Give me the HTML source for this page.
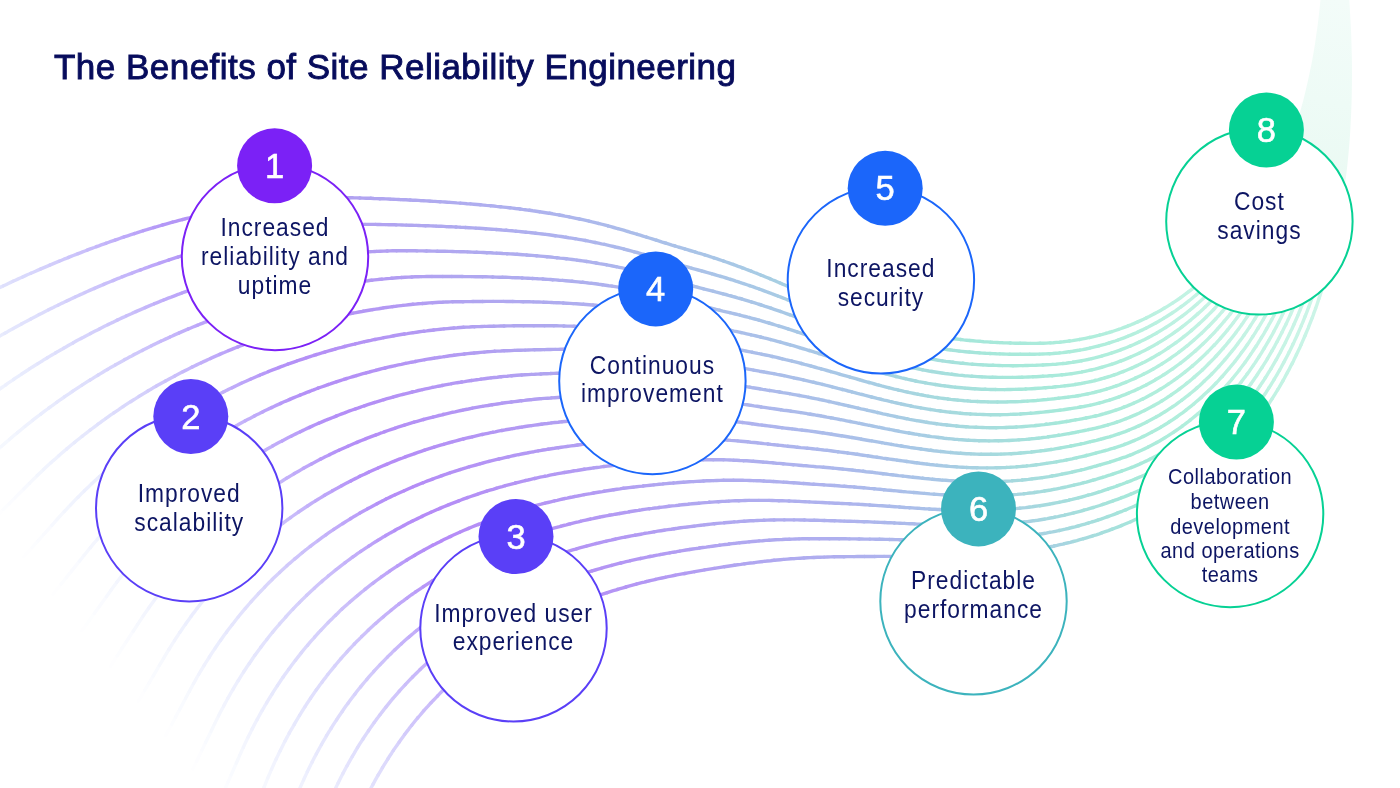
<!DOCTYPE html>
<html><head><meta charset="utf-8"><style>
html,body{margin:0;padding:0;background:#fff;}
svg{display:block;will-change:transform;}
text{font-family:"Liberation Sans",sans-serif;}
.num{font-size:34.5px;fill:#fff;stroke:#fff;stroke-width:0.6px;text-anchor:middle;}
.tx{font-size:22.8px;fill:#0d1563;text-anchor:middle;letter-spacing:1.0px;}
.t7{font-size:20px;fill:#0d1563;text-anchor:middle;letter-spacing:0.5px;}
.title{font-size:35px;fill:#070c5c;stroke:#070c5c;stroke-width:0.9px;}
</style></head><body>
<svg width="1400" height="788" viewBox="0 0 1400 788">
<defs><linearGradient id="bandg" gradientUnits="userSpaceOnUse" x1="1300" y1="200" x2="1340" y2="0"><stop offset="0" stop-color="#e9f9f2"/><stop offset="0.5" stop-color="#eefbf6"/><stop offset="1" stop-color="#f3fcf9"/></linearGradient></defs>
<path d="M1255.7 215.0 1259.4 208.9 1263.0 202.7 1266.5 196.3 1269.9 189.8 1273.2 183.1 1276.5 176.3 1279.6 169.3 1282.7 162.1 1285.6 154.8 1288.5 147.3 1291.3 139.6 1294.0 131.8 1296.6 123.8 1299.0 115.6 1301.4 107.2 1303.7 98.7 1305.8 90.0 1307.9 81.1 1309.8 72.1 1311.7 62.9 1313.4 53.5 1315.0 43.9 1316.4 34.1 1317.8 24.2 1319.0 14.1 1320.1 3.8 1321.1 -6.7 1322.0 -17.4 1347.1 -25.4 1348.0 -14.6 1348.9 -4.0 1349.7 6.6 1350.3 17.0 1350.9 27.4 1351.3 37.7 1351.6 47.9 1351.9 58.0 1352.0 68.0 1352.0 77.9 1351.9 87.7 1351.7 97.4 1351.4 107.0 1351.0 116.5 1350.5 126.0 1350.0 135.3 1349.3 144.6 1348.5 153.7 1347.6 162.7 1346.6 171.7 1345.5 180.6 1344.4 189.3 1343.1 198.0 1341.7 206.5 1340.3 215.0 Z" fill="url(#bandg)"/>
<g fill="none" stroke-width="3.4" stroke-linecap="round" stroke-linejoin="round">
<path d="M-14.5 294.5 -12.1 293.3 -9.7 292.1 -7.3 290.9 -4.9 289.8" stroke="#e3e5fd"/>
<path d="M-4.9 289.8 -2.5 288.6 -0.1 287.5 2.3 286.4 3.5 285.8" stroke="#e1e3fd"/>
<path d="M3.5 285.8 5.9 284.7 8.3 283.5 10.7 282.4 13.0 281.3" stroke="#dedffc"/>
<path d="M13.0 281.3 15.4 280.2 17.8 279.1 20.2 278.0 22.6 277.0" stroke="#dcdcfc"/>
<path d="M22.6 277.0 25.0 275.9 27.3 274.8 29.7 273.8 30.9 273.2" stroke="#d9d9fc"/>
<path d="M30.9 273.2 33.3 272.2 35.6 271.2 38.0 270.1 40.4 269.1" stroke="#d7d5fc"/>
<path d="M40.4 269.1 42.7 268.1 45.1 267.1 47.5 266.1 49.8 265.1" stroke="#d4d1fb"/>
<path d="M49.8 265.1 52.2 264.1 54.5 263.1 56.9 262.1 59.2 261.2" stroke="#d2cdfb"/>
<path d="M59.2 261.2 61.6 260.2 63.9 259.2 66.3 258.3 68.6 257.4" stroke="#cfc9fb"/>
<path d="M68.6 257.4 71.0 256.4 73.3 255.5 75.6 254.6 78.0 253.7" stroke="#ccc5fb"/>
<path d="M78.0 253.7 80.3 252.8 82.6 251.9 85.0 251.0 87.3 250.1" stroke="#cac0fa"/>
<path d="M87.3 250.1 89.6 249.2 91.9 248.3 94.2 247.5 96.6 246.6" stroke="#c7bcfa"/>
<path d="M96.6 246.6 98.9 245.8 101.2 244.9 103.5 244.1 105.8 243.3" stroke="#c5b7fa"/>
<path d="M105.8 243.3 108.1 242.5 110.4 241.7 112.7 240.9 115.0 240.1" stroke="#c2b3f9"/>
<path d="M115.0 240.1 117.3 239.3 119.6 238.5 121.9 237.7 124.1 236.9" stroke="#c0aef9"/>
<path d="M124.1 236.9 127.6 235.8 131.0 234.7 134.4 233.6" stroke="#bda9f9"/>
<path d="M134.4 233.6 136.6 232.9 138.9 232.1 141.2 231.4 143.4 230.7" stroke="#bba4f8"/>
<path d="M143.4 230.7 146.8 229.7 150.2 228.6 153.6 227.6" stroke="#b89ff8"/>
<path d="M153.6 227.6 155.8 227.0 158.0 226.3 160.3 225.7 162.5 225.0" stroke="#b59af7"/>
<path d="M162.5 225.0 165.8 224.1 169.2 223.1 172.5 222.2" stroke="#b397f7"/>
<path d="M172.5 222.2 175.8 221.3 179.1 220.4 182.4 219.6" stroke="#b496f6"/>
<path d="M182.4 219.6 184.6 219.0 186.8 218.4 189.0 217.9 191.2 217.3" stroke="#b495f6"/>
<path d="M191.2 217.3 194.5 216.5 197.7 215.7 201.0 214.9" stroke="#b495f6"/>
<path d="M201.0 214.9 204.2 214.2 207.4 213.4 210.7 212.7" stroke="#b494f5"/>
<path d="M210.7 212.7 213.9 212.0 217.1 211.3 220.3 210.6 221.4 210.4" stroke="#b493f5"/>
<path d="M221.4 210.4 224.6 209.8 227.7 209.1 230.9 208.5" stroke="#b493f5"/>
<path d="M230.9 208.5 234.1 207.9 237.2 207.3 240.4 206.8" stroke="#b494f4"/>
<path d="M240.4 206.8 243.5 206.2 246.6 205.7 249.7 205.1 250.8 205.0" stroke="#b495f4"/>
<path d="M250.8 205.0 253.9 204.5 257.0 204.0 260.0 203.5" stroke="#b396f4"/>
<path d="M260.0 203.5 263.1 203.1 266.2 202.7 269.2 202.3 270.2 202.1" stroke="#b397f4"/>
<path d="M270.2 202.1 273.2 201.7 276.3 201.4 279.3 201.0 280.3 200.9" stroke="#b398f4"/>
<path d="M280.3 200.9 283.3 200.6 286.3 200.2 289.2 199.9 290.2 199.8" stroke="#b399f3"/>
<path d="M290.2 199.8 293.2 199.6 296.1 199.3 299.1 199.1 300.0 199.0" stroke="#b39af3"/>
<path d="M300.0 199.0 303.0 198.8 305.9 198.6 308.8 198.4 309.7 198.3" stroke="#b39bf3"/>
<path d="M309.7 198.3 312.6 198.2 315.5 198.0 318.3 197.9 320.2 197.8" stroke="#b29cf2"/>
<path d="M320.2 197.8 323.1 197.7 325.9 197.6 328.7 197.6 330.6 197.5" stroke="#b29ef2"/>
<path d="M330.6 197.5 333.4 197.5 336.1 197.5 338.9 197.5 339.8 197.5" stroke="#b29ff2"/>
<path d="M339.8 197.5 342.6 197.5 345.3 197.5 348.0 197.6 349.8 197.7" stroke="#b1a1f1"/>
<path d="M349.8 197.7 351.6 197.7 353.4 197.8 356.7 197.9 359.8 198.0" stroke="#b1a2f1"/>
<path d="M359.8 198.0 363.0 198.1 366.1 198.2 369.2 198.3 370.8 198.3" stroke="#b1a4f1"/>
<path d="M370.8 198.3 373.9 198.5 376.9 198.6 379.9 198.7" stroke="#b0a5f0"/>
<path d="M379.9 198.7 382.9 198.8 385.9 198.9 388.8 199.0 390.3 199.1" stroke="#b0a6f0"/>
<path d="M390.3 199.1 393.2 199.2 396.0 199.4 398.9 199.5 400.3 199.6" stroke="#b0a7f0"/>
<path d="M400.3 199.6 403.1 199.7 405.9 199.8 408.7 200.0 410.1 200.0" stroke="#b0a8f0"/>
<path d="M410.1 200.0 412.8 200.2 415.5 200.3 418.2 200.4 420.8 200.6" stroke="#b0a9f0"/>
<path d="M420.8 200.6 423.5 200.7 426.1 200.9 428.7 201.0 429.9 201.1" stroke="#afa9ef"/>
<path d="M429.9 201.1 432.5 201.3 435.0 201.4 437.5 201.6 440.0 201.7" stroke="#afaaef"/>
<path d="M440.0 201.7 442.5 201.9 444.9 202.0 447.4 202.2 449.8 202.4" stroke="#afabef"/>
<path d="M449.8 202.4 453.3 202.6 456.8 202.9 460.3 203.1" stroke="#afacef"/>
<path d="M460.3 203.1 463.7 203.4 467.1 203.7 470.4 203.9" stroke="#afacef"/>
<path d="M470.4 203.9 473.7 204.2 477.0 204.5 480.2 204.8" stroke="#afadef"/>
<path d="M480.2 204.8 483.3 205.1 486.4 205.4 489.5 205.6 490.5 205.7" stroke="#afaeef"/>
<path d="M490.5 205.7 493.6 206.0 496.5 206.4 499.5 206.7 500.5 206.8" stroke="#afafef"/>
<path d="M500.5 206.8 503.3 207.1 506.2 207.4 509.0 207.7 509.9 207.8" stroke="#aeb0ee"/>
<path d="M509.9 207.8 512.7 208.1 515.5 208.5 518.2 208.8 519.9 209.0" stroke="#aeb0ee"/>
<path d="M519.9 209.0 522.6 209.4 525.2 209.7 527.8 210.1 529.5 210.3" stroke="#aeb1ee"/>
<path d="M529.5 210.3 532.8 210.8 536.1 211.2 539.4 211.7" stroke="#aeb2ee"/>
<path d="M539.4 211.7 542.6 212.2 545.7 212.7 548.8 213.2 549.6 213.3" stroke="#aeb3ee"/>
<path d="M549.6 213.3 552.6 213.8 555.6 214.4 558.5 214.9 559.3 215.0" stroke="#adb4ed"/>
<path d="M559.3 215.0 562.2 215.5 565.0 216.1 567.8 216.6 569.2 216.9" stroke="#adb5ed"/>
<path d="M569.2 216.9 572.6 217.6 576.0 218.3 579.4 219.0" stroke="#adb6ec"/>
<path d="M579.4 219.0 582.6 219.7 585.9 220.4 589.0 221.1" stroke="#acb8ec"/>
<path d="M589.0 221.1 592.2 221.9 595.3 222.6 598.3 223.4" stroke="#acb9ec"/>
<path d="M598.3 223.4 601.4 224.2 604.4 224.9 607.4 225.7 607.9 225.9" stroke="#acbaeb"/>
<path d="M607.9 225.9 610.9 226.7 613.8 227.5 616.7 228.3 617.9 228.6" stroke="#acbbeb"/>
<path d="M617.9 228.6 620.7 229.4 623.6 230.2 626.5 231.1 627.6 231.4" stroke="#abbcea"/>
<path d="M627.6 231.4 630.5 232.3 633.3 233.1 636.2 234.0 637.3 234.3" stroke="#abbdea"/>
<path d="M637.3 234.3 640.2 235.2 643.0 236.1 645.9 237.0 646.5 237.1" stroke="#abbeea"/>
<path d="M646.5 237.1 649.3 238.0 652.2 238.9 655.2 239.8 656.3 240.2" stroke="#aabfe9"/>
<path d="M656.3 240.2 659.3 241.1 662.2 242.1 665.3 243.0 665.9 243.2" stroke="#aac0e9"/>
<path d="M665.9 243.2 668.9 244.1 672.0 245.1 675.1 246.0" stroke="#aac1e8"/>
<path d="M675.1 246.0 678.2 247.0 681.4 247.9 684.7 248.9" stroke="#aac2e8"/>
<path d="M684.7 248.9 687.3 249.7 690.0 250.5 693.9 251.6 694.9 251.9" stroke="#a9c3e8"/>
<path d="M694.9 251.9 697.8 252.8 700.7 253.6 703.5 254.5 704.5 254.8" stroke="#a9c4e7"/>
<path d="M704.5 254.8 707.3 255.7 710.1 256.6 712.8 257.5 713.8 257.8" stroke="#a9c5e7"/>
<path d="M713.8 257.8 716.5 258.7 719.2 259.6 721.8 260.5 723.6 261.1" stroke="#a8c6e7"/>
<path d="M723.6 261.1 726.2 262.0 728.8 262.9 731.4 263.8 733.1 264.4" stroke="#a8c7e6"/>
<path d="M733.1 264.4 735.7 265.3 738.2 266.3 740.7 267.2 742.3 267.8" stroke="#a8c8e6"/>
<path d="M742.3 267.8 744.8 268.7 747.2 269.7 749.6 270.6 751.3 271.2" stroke="#a8cae5"/>
<path d="M751.3 271.2 754.4 272.5 757.6 273.7 760.7 275.0" stroke="#a8cbe5"/>
<path d="M760.7 275.0 763.8 276.2 766.9 277.5 769.9 278.7" stroke="#a7cde4"/>
<path d="M769.9 278.7 772.9 280.0 775.9 281.2 778.8 282.5 779.6 282.8" stroke="#a7cee3"/>
<path d="M779.6 282.8 782.5 284.1 785.4 285.3 788.3 286.6" stroke="#a7d0e3"/>
<path d="M788.3 286.6 791.2 287.8 794.1 289.0 797.0 290.3 797.7 290.6" stroke="#a7d1e2"/>
<path d="M797.7 290.6 800.5 291.8 803.3 293.1 806.2 294.3 806.9 294.6" stroke="#a7d2e1"/>
<path d="M806.9 294.6 809.7 295.8 812.5 297.0 815.3 298.2 816.0 298.5" stroke="#a7d3e1"/>
<path d="M816.0 298.5 818.8 299.7 821.6 300.9 824.4 302.1 825.1 302.4" stroke="#a7d5e0"/>
<path d="M825.1 302.4 827.8 303.6 830.6 304.7 833.4 305.9 834.1 306.2" stroke="#a6d6e0"/>
<path d="M834.1 306.2 837.0 307.3 839.8 308.4 842.6 309.6 844.0 310.1" stroke="#a6d8df"/>
<path d="M844.0 310.1 846.9 311.2 849.7 312.3 852.6 313.4 853.3 313.7" stroke="#a6d9de"/>
<path d="M853.3 313.7 856.2 314.8 859.1 315.8 862.0 316.9 862.7 317.1" stroke="#a6dade"/>
<path d="M862.7 317.1 865.7 318.1 868.6 319.2 871.6 320.1 872.4 320.4" stroke="#a6dbde"/>
<path d="M872.4 320.4 875.4 321.4 878.4 322.3 881.5 323.3" stroke="#a6dcdd"/>
<path d="M881.5 323.3 884.6 324.2 887.7 325.1 890.9 326.0" stroke="#a6dddd"/>
<path d="M890.9 326.0 894.0 326.9 897.3 327.8 900.5 328.6" stroke="#a6dedd"/>
<path d="M900.5 328.6 903.8 329.4 907.2 330.2 910.5 331.0" stroke="#a6dfdd"/>
<path d="M910.5 331.0 913.9 331.8 917.4 332.5 920.9 333.3" stroke="#a6e0dc"/>
<path d="M920.9 333.3 923.5 333.8 926.2 334.3 928.9 334.8 930.7 335.1" stroke="#a6e1dc"/>
<path d="M930.7 335.1 933.5 335.6 936.3 336.1 939.1 336.6 940.0 336.7" stroke="#a6e2dc"/>
<path d="M940.0 336.7 942.8 337.2 945.7 337.6 948.6 338.0 950.6 338.3" stroke="#a6e3db"/>
<path d="M950.6 338.3 953.5 338.7 956.5 339.0 959.5 339.4 960.5 339.5" stroke="#a6e5db"/>
<path d="M960.5 339.5 963.6 339.9 966.7 340.2 969.8 340.5" stroke="#a6e6db"/>
<path d="M969.8 340.5 973.0 340.8 976.2 341.1 979.4 341.3 980.5 341.4" stroke="#a6e7da"/>
<path d="M980.5 341.4 983.8 341.7 987.1 341.9 990.5 342.1" stroke="#a6e8da"/>
<path d="M990.5 342.1 992.8 342.3 995.0 342.4 997.3 342.5 999.7 342.6" stroke="#a7e9da"/>
<path d="M999.7 342.6 1003.2 342.8 1006.7 342.9 1010.3 343.0" stroke="#a8e9da"/>
<path d="M1010.3 343.0 1012.7 343.1 1015.2 343.2 1017.6 343.2 1020.1 343.3" stroke="#a9eadb"/>
<path d="M1020.1 343.3 1022.6 343.3 1025.1 343.3 1027.6 343.4 1030.2 343.4" stroke="#a9eadb"/>
<path d="M1030.2 343.4 1033.2 343.4 1036.2 343.4 1039.2 343.3 1040.2 343.3" stroke="#aaebdb"/>
<path d="M1040.2 343.3 1043.3 343.2 1046.3 343.1 1049.3 342.9 1050.3 342.9" stroke="#abebdb"/>
<path d="M1050.3 342.9 1053.3 342.7 1056.4 342.4 1059.4 342.2 1060.4 342.1" stroke="#acecdb"/>
<path d="M1060.4 342.1 1063.4 341.8 1066.4 341.4 1069.5 341.0" stroke="#adecdb"/>
<path d="M1069.5 341.0 1072.5 340.6 1075.5 340.1 1078.5 339.6 1079.5 339.5" stroke="#aeeddc"/>
<path d="M1079.5 339.5 1082.5 338.9 1085.5 338.3 1088.5 337.7 1089.5 337.5" stroke="#afeddc"/>
<path d="M1089.5 337.5 1092.5 336.8 1095.5 336.1 1098.5 335.4 1099.5 335.1" stroke="#b0eedc"/>
<path d="M1099.5 335.1 1102.5 334.4 1105.4 333.5 1108.4 332.7 1109.4 332.4" stroke="#b2eedd"/>
<path d="M1109.4 332.4 1112.4 331.5 1115.3 330.5 1118.3 329.5" stroke="#b3efdd"/>
<path d="M1118.3 329.5 1121.2 328.5 1124.1 327.4 1127.1 326.3 1128.0 325.9" stroke="#b5efde"/>
<path d="M1128.0 325.9 1130.9 324.8 1133.8 323.6 1136.7 322.3 1137.7 321.9" stroke="#b7f0df"/>
<path d="M1137.7 321.9 1140.6 320.6 1143.5 319.3 1146.3 317.9" stroke="#b9f0e0"/>
<path d="M1146.3 317.9 1149.2 316.5 1152.0 315.0 1154.8 313.5" stroke="#bbf1e0"/>
<path d="M1154.8 313.5 1157.7 312.0 1160.5 310.4 1163.3 308.8 1164.2 308.3" stroke="#bdf1e1"/>
<path d="M1164.2 308.3 1167.0 306.6 1169.7 304.9 1172.5 303.1" stroke="#bff2e2"/>
<path d="M1172.5 303.1 1175.2 301.3 1178.0 299.5 1180.7 297.6" stroke="#c0f2e3"/>
<path d="M1180.7 297.6 1183.4 295.6 1186.0 293.7 1188.7 291.6" stroke="#c2f3e3"/>
<path d="M1188.7 291.6 1191.4 289.6 1194.0 287.5 1196.6 285.3" stroke="#c4f3e4"/>
<path d="M1196.6 285.3 1199.2 283.1 1201.8 280.9 1204.4 278.6" stroke="#c5f3e5"/>
<path d="M1204.4 278.6 1206.9 276.3 1209.5 273.9 1212.0 271.5" stroke="#c6f3e5"/>
<path d="M1212.0 271.5 1213.6 269.9 1215.3 268.2 1216.9 266.5 1218.6 264.8" stroke="#c7f4e5"/>
<path d="M1218.6 264.8 1220.2 263.1 1221.8 261.4 1223.5 259.6 1225.1 257.8" stroke="#c8f4e6"/>
<path d="M1225.1 257.8 1227.5 255.1 1229.8 252.4 1232.2 249.6" stroke="#c9f4e6"/>
<path d="M1232.2 249.6 1233.7 247.7 1235.3 245.7 1236.8 243.8 1238.3 241.8" stroke="#caf4e7"/>
<path d="M1238.3 241.8 1239.9 239.9 1241.4 237.9 1242.9 235.8 1244.4 233.8" stroke="#cbf5e7"/>
<path d="M1244.4 233.8 1245.8 231.7 1247.3 229.6 1248.8 227.5 1250.2 225.4" stroke="#ccf5e8"/>
<path d="M1250.2 225.4 1251.6 223.3 1253.1 221.1 1254.5 218.9 1255.2 217.8" stroke="#cdf5e8"/>
<path d="M1255.2 217.8 1256.6 215.6 1258.0 213.3 1259.3 211.0 1260.7 208.7" stroke="#cef5e8"/>
<path d="M1260.7 208.7 1262.1 206.4 1263.4 204.1 1264.7 201.7 1265.4 200.5" stroke="#cff5e9"/>
<path d="M-12.9 343.6 -10.6 342.2 -8.2 340.8 -5.8 339.4 -4.7 338.7" stroke="#eaeefe"/>
<path d="M-4.7 338.7 -2.3 337.3 0.1 335.9 2.4 334.6 4.8 333.2" stroke="#e8ebfd"/>
<path d="M4.8 333.2 7.2 331.9 9.5 330.5 11.9 329.2 13.1 328.6" stroke="#e5e8fd"/>
<path d="M13.1 328.6 15.5 327.2 17.8 325.9 20.2 324.7 21.4 324.0" stroke="#e3e5fd"/>
<path d="M21.4 324.0 23.7 322.7 26.1 321.5 28.5 320.2 30.8 318.9" stroke="#e1e2fd"/>
<path d="M30.8 318.9 33.2 317.7 35.6 316.5 37.9 315.2 39.1 314.6" stroke="#dedffc"/>
<path d="M39.1 314.6 41.5 313.4 43.8 312.2 46.2 311.0 48.6 309.8" stroke="#dcdcfc"/>
<path d="M48.6 309.8 50.9 308.6 53.3 307.5 55.6 306.3 58.0 305.2" stroke="#d9d8fc"/>
<path d="M58.0 305.2 60.3 304.0 62.7 302.9 65.0 301.7 66.2 301.2" stroke="#d7d4fc"/>
<path d="M66.2 301.2 68.6 300.1 70.9 299.0 73.3 297.9 75.6 296.8" stroke="#d4d0fb"/>
<path d="M75.6 296.8 78.0 295.7 80.3 294.6 82.7 293.6 85.0 292.5" stroke="#d1ccfb"/>
<path d="M85.0 292.5 87.3 291.5 89.7 290.4 92.0 289.4 94.4 288.4" stroke="#cfc8fb"/>
<path d="M94.4 288.4 96.7 287.4 99.0 286.4 101.4 285.4 103.7 284.4" stroke="#ccc4fb"/>
<path d="M103.7 284.4 106.0 283.4 108.3 282.5 110.7 281.5 113.0 280.6" stroke="#c9bffa"/>
<path d="M113.0 280.6 115.3 279.6 117.6 278.7 119.9 277.8 122.2 276.8" stroke="#c7bbfa"/>
<path d="M122.2 276.8 124.6 275.9 126.9 275.0 129.2 274.1 131.5 273.3" stroke="#c4b6fa"/>
<path d="M131.5 273.3 133.8 272.4 136.1 271.5 138.4 270.7 140.7 269.8" stroke="#c2b1f9"/>
<path d="M140.7 269.8 143.0 269.0 145.3 268.1 147.5 267.3 149.8 266.5" stroke="#bfacf9"/>
<path d="M149.8 266.5 152.1 265.7 154.4 264.9 156.7 264.1 158.9 263.3" stroke="#bda7f9"/>
<path d="M158.9 263.3 162.4 262.1 165.8 261.0 169.1 259.9" stroke="#baa2f8"/>
<path d="M169.1 259.9 171.4 259.1 173.7 258.4 175.9 257.7 178.2 257.0" stroke="#b79df8"/>
<path d="M178.2 257.0 181.5 255.9 184.9 254.9 188.2 253.9" stroke="#b599f7"/>
<path d="M188.2 253.9 190.5 253.2 192.7 252.5 194.9 251.9 197.1 251.2" stroke="#b496f7"/>
<path d="M197.1 251.2 200.5 250.3 203.8 249.3 207.1 248.4" stroke="#b495f6"/>
<path d="M207.1 248.4 210.4 247.5 213.7 246.6 217.0 245.8" stroke="#b494f6"/>
<path d="M217.0 245.8 220.2 244.9 223.5 244.1 226.8 243.3" stroke="#b494f6"/>
<path d="M226.8 243.3 230.0 242.5 233.2 241.7 236.5 241.0" stroke="#b493f5"/>
<path d="M236.5 241.0 239.7 240.2 242.9 239.5 246.1 238.8" stroke="#b492f5"/>
<path d="M246.1 238.8 249.3 238.1 252.4 237.4 255.6 236.8" stroke="#b493f5"/>
<path d="M255.6 236.8 258.8 236.2 261.9 235.5 265.1 234.9 266.1 234.7" stroke="#b494f4"/>
<path d="M266.1 234.7 269.2 234.2 272.3 233.6 275.4 233.1" stroke="#b495f4"/>
<path d="M275.4 233.1 278.5 232.5 281.6 232.0 284.6 231.5 285.7 231.4" stroke="#b496f4"/>
<path d="M285.7 231.4 288.7 230.9 291.7 230.4 294.8 230.0 295.8 229.9" stroke="#b397f4"/>
<path d="M295.8 229.9 298.8 229.4 301.8 229.0 304.7 228.7 305.7 228.5" stroke="#b398f4"/>
<path d="M305.7 228.5 308.7 228.2 311.7 227.8 314.6 227.5 315.6 227.4" stroke="#b399f3"/>
<path d="M315.6 227.4 318.5 227.1 321.4 226.8 324.3 226.5 325.2 226.5" stroke="#b399f3"/>
<path d="M325.2 226.5 328.1 226.2 331.0 226.0 333.8 225.8 335.7 225.6" stroke="#b39bf3"/>
<path d="M335.7 225.6 338.5 225.4 341.3 225.3 344.1 225.1 345.1 225.0" stroke="#b29cf2"/>
<path d="M345.1 225.0 347.8 224.9 350.6 224.8 353.3 224.7 355.2 224.6" stroke="#b29ef2"/>
<path d="M355.2 224.6 357.9 224.5 360.6 224.5 363.3 224.4 365.1 224.4" stroke="#b29ff2"/>
<path d="M365.1 224.4 368.6 224.4 372.1 224.4 375.6 224.4" stroke="#b1a1f1"/>
<path d="M375.6 224.4 377.3 224.5 379.7 224.5 382.8 224.6 385.8 224.6" stroke="#b1a2f1"/>
<path d="M385.8 224.6 388.8 224.7 391.8 224.8 394.7 224.8 396.2 224.9" stroke="#b1a3f1"/>
<path d="M396.2 224.9 399.1 224.9 402.0 225.0 404.9 225.1 406.3 225.1" stroke="#b0a5f0"/>
<path d="M406.3 225.1 409.1 225.2 411.9 225.3 414.7 225.4 416.1 225.4" stroke="#b0a6f0"/>
<path d="M416.1 225.4 418.8 225.5 421.5 225.6 424.2 225.7 425.6 225.7" stroke="#b0a7f0"/>
<path d="M425.6 225.7 428.2 225.8 430.9 225.9 433.5 226.0 436.1 226.1" stroke="#b0a8f0"/>
<path d="M436.1 226.1 438.7 226.2 441.2 226.3 443.7 226.4 446.2 226.6" stroke="#b0a9f0"/>
<path d="M446.2 226.6 448.7 226.7 451.2 226.8 453.6 226.9 456.0 227.0" stroke="#afa9ef"/>
<path d="M456.0 227.0 458.4 227.1 460.8 227.3 463.2 227.4 465.5 227.5" stroke="#afaaef"/>
<path d="M465.5 227.5 469.0 227.7 472.4 227.9 475.8 228.1" stroke="#afabef"/>
<path d="M475.8 228.1 479.1 228.3 482.4 228.5 485.6 228.8" stroke="#afacef"/>
<path d="M485.6 228.8 488.8 229.0 492.0 229.2 495.1 229.4 496.1 229.5" stroke="#afadef"/>
<path d="M496.1 229.5 499.2 229.7 502.2 230.0 505.2 230.2 506.2 230.3" stroke="#afadef"/>
<path d="M506.2 230.3 509.1 230.6 512.0 230.8 514.9 231.1 515.8 231.2" stroke="#afaeef"/>
<path d="M515.8 231.2 518.6 231.4 521.4 231.7 524.1 232.0 525.9 232.2" stroke="#afafef"/>
<path d="M525.9 232.2 528.6 232.4 531.3 232.7 533.9 233.0 535.6 233.2" stroke="#aeafee"/>
<path d="M535.6 233.2 539.0 233.6 542.4 234.0 545.6 234.4" stroke="#aeb0ee"/>
<path d="M545.6 234.4 548.9 234.8 552.1 235.2 555.2 235.7" stroke="#aeb1ee"/>
<path d="M555.2 235.7 558.3 236.1 561.3 236.5 564.3 237.0 565.8 237.2" stroke="#aeb2ee"/>
<path d="M565.8 237.2 568.7 237.7 571.6 238.1 574.5 238.6 575.2 238.7" stroke="#aeb3ee"/>
<path d="M575.2 238.7 578.6 239.3 582.1 239.9 585.4 240.5" stroke="#adb4ed"/>
<path d="M585.4 240.5 588.7 241.2 592.0 241.8 595.2 242.5" stroke="#adb5ed"/>
<path d="M595.2 242.5 598.4 243.1 601.5 243.8 604.6 244.4" stroke="#adb6ec"/>
<path d="M604.6 244.4 607.6 245.1 610.6 245.8 613.6 246.5 614.8 246.8" stroke="#acb8ec"/>
<path d="M614.8 246.8 617.7 247.5 620.6 248.2 623.5 248.9 624.1 249.1" stroke="#acb9ec"/>
<path d="M624.1 249.1 627.5 250.0 630.9 250.9 634.3 251.8" stroke="#acbaeb"/>
<path d="M634.3 251.8 637.1 252.5 639.9 253.3 642.7 254.1 643.8 254.4" stroke="#acbbeb"/>
<path d="M643.8 254.4 646.6 255.2 649.3 256.0 652.1 256.8 653.3 257.1" stroke="#abbcea"/>
<path d="M653.3 257.1 656.1 257.9 658.9 258.7 661.7 259.5 662.8 259.9" stroke="#abbdea"/>
<path d="M662.8 259.9 665.7 260.7 668.6 261.5 671.4 262.4 672.6 262.7" stroke="#abbeea"/>
<path d="M672.6 262.7 675.5 263.6 678.5 264.4 681.5 265.3 682.1 265.5" stroke="#aabfe9"/>
<path d="M682.1 265.5 685.1 266.3 688.2 267.2 691.3 268.1 691.9 268.3" stroke="#aac0e9"/>
<path d="M691.9 268.3 695.0 269.1 698.2 270.0 701.5 270.9" stroke="#aac1e8"/>
<path d="M701.5 270.9 703.8 271.5 706.7 272.3 709.5 273.1 711.4 273.7" stroke="#aac2e8"/>
<path d="M711.4 273.7 714.3 274.5 717.0 275.3 719.8 276.1 720.7 276.4" stroke="#a9c4e8"/>
<path d="M720.7 276.4 723.5 277.2 726.2 278.0 728.8 278.8 730.6 279.4" stroke="#a9c5e7"/>
<path d="M730.6 279.4 733.2 280.2 735.8 281.1 738.4 281.9 740.1 282.5" stroke="#a9c6e7"/>
<path d="M740.1 282.5 742.7 283.3 745.2 284.2 747.7 285.0 749.4 285.6" stroke="#a8c7e7"/>
<path d="M749.4 285.6 752.7 286.7 755.9 287.9 759.2 289.0" stroke="#a8c8e6"/>
<path d="M759.2 289.0 762.3 290.2 765.5 291.4 768.6 292.5" stroke="#a8c9e6"/>
<path d="M768.6 292.5 771.7 293.7 774.8 294.8 777.8 296.0" stroke="#a8cae5"/>
<path d="M777.8 296.0 780.9 297.2 783.9 298.3 786.8 299.5 787.6 299.8" stroke="#a8cce4"/>
<path d="M787.6 299.8 790.5 301.0 793.4 302.1 796.4 303.3" stroke="#a7cde4"/>
<path d="M796.4 303.3 799.3 304.5 802.1 305.6 805.0 306.8 805.7 307.1" stroke="#a7cfe3"/>
<path d="M805.7 307.1 808.6 308.2 811.4 309.4 814.2 310.5 814.9 310.8" stroke="#a7d0e2"/>
<path d="M814.9 310.8 817.7 311.9 820.5 313.1 823.3 314.2 824.7 314.7" stroke="#a7d2e2"/>
<path d="M824.7 314.7 827.5 315.9 830.3 317.0 833.1 318.1 833.8 318.3" stroke="#a7d3e1"/>
<path d="M833.8 318.3 836.6 319.4 839.4 320.5 842.2 321.6 842.9 321.9" stroke="#a7d4e1"/>
<path d="M842.9 321.9 845.7 322.9 848.5 324.0 851.3 325.0 852.7 325.5" stroke="#a6d6e0"/>
<path d="M852.7 325.5 855.6 326.6 858.4 327.6 861.3 328.6 862.0 328.8" stroke="#a6d7df"/>
<path d="M862.0 328.8 864.8 329.8 867.7 330.8 870.6 331.7 871.3 332.0" stroke="#a6d9de"/>
<path d="M871.3 332.0 874.3 332.9 877.2 333.9 880.2 334.8 880.9 335.0" stroke="#a6dade"/>
<path d="M880.9 335.0 883.9 335.9 886.9 336.8 889.9 337.6 890.7 337.9" stroke="#a6dbde"/>
<path d="M890.7 337.9 893.7 338.7 896.8 339.5 900.0 340.3 900.7 340.5" stroke="#a6dcdd"/>
<path d="M900.7 340.5 903.9 341.3 907.1 342.1 910.3 342.8" stroke="#a6dddd"/>
<path d="M910.3 342.8 913.6 343.6 916.9 344.3 920.2 345.0" stroke="#a6dedd"/>
<path d="M920.2 345.0 922.7 345.5 925.2 346.0 927.8 346.4 929.5 346.8" stroke="#a6dfdc"/>
<path d="M929.5 346.8 933.0 347.4 936.5 347.9 940.1 348.5" stroke="#a6e1dc"/>
<path d="M940.1 348.5 942.8 348.9 945.5 349.3 948.3 349.7 950.1 349.9" stroke="#a6e2dc"/>
<path d="M950.1 349.9 952.9 350.3 955.7 350.6 958.6 351.0 959.5 351.1" stroke="#a6e3db"/>
<path d="M959.5 351.1 962.4 351.4 965.4 351.7 968.3 352.0 969.3 352.0" stroke="#a6e4db"/>
<path d="M969.3 352.0 972.3 352.3 975.3 352.6 978.4 352.8 979.4 352.9" stroke="#a6e5db"/>
<path d="M979.4 352.9 982.5 353.1 985.7 353.3 988.8 353.4 989.9 353.5" stroke="#a6e7da"/>
<path d="M989.9 353.5 993.1 353.6 996.4 353.8 999.7 353.9" stroke="#a6e8da"/>
<path d="M999.7 353.9 1003.0 354.0 1006.3 354.1 1009.7 354.2" stroke="#a7e9da"/>
<path d="M1009.7 354.2 1013.2 354.2 1016.7 354.3 1020.2 354.3" stroke="#a8e9da"/>
<path d="M1020.2 354.3 1022.5 354.3 1024.9 354.3 1027.3 354.3 1029.7 354.2" stroke="#a9eadb"/>
<path d="M1029.7 354.2 1032.2 354.2 1034.6 354.2 1037.1 354.1 1039.6 354.1" stroke="#a9eadb"/>
<path d="M1039.6 354.1 1042.6 354.0 1045.6 353.9 1048.7 353.7 1049.7 353.7" stroke="#aaebdb"/>
<path d="M1049.7 353.7 1052.7 353.5 1055.7 353.2 1058.7 353.0 1059.7 352.9" stroke="#abebdb"/>
<path d="M1059.7 352.9 1062.7 352.6 1065.7 352.2 1068.7 351.8 1069.7 351.7" stroke="#acecdb"/>
<path d="M1069.7 351.7 1072.7 351.3 1075.7 350.8 1078.7 350.3 1079.7 350.1" stroke="#adecdb"/>
<path d="M1079.7 350.1 1082.7 349.6 1085.7 349.0 1088.7 348.3 1089.7 348.1" stroke="#aeeddc"/>
<path d="M1089.7 348.1 1092.6 347.4 1095.6 346.7 1098.6 346.0 1099.5 345.7" stroke="#afeddc"/>
<path d="M1099.5 345.7 1102.5 344.9 1105.4 344.1 1108.4 343.2 1109.4 342.9" stroke="#b0eedc"/>
<path d="M1109.4 342.9 1112.3 341.9 1115.2 341.0 1118.1 340.0" stroke="#b2eedd"/>
<path d="M1118.1 340.0 1121.1 338.9 1124.0 337.8 1126.9 336.7 1127.8 336.3" stroke="#b4efdd"/>
<path d="M1127.8 336.3 1130.7 335.1 1133.6 333.9 1136.4 332.7 1137.4 332.2" stroke="#b5efde"/>
<path d="M1137.4 332.2 1140.2 330.9 1143.1 329.6 1145.9 328.2" stroke="#b7f0df"/>
<path d="M1145.9 328.2 1148.7 326.8 1151.5 325.3 1154.3 323.8 1155.3 323.3" stroke="#b9f0e0"/>
<path d="M1155.3 323.3 1158.0 321.7 1160.8 320.1 1163.6 318.4" stroke="#bbf1e0"/>
<path d="M1163.6 318.4 1166.3 316.7 1169.0 315.0 1171.8 313.2 1172.7 312.6" stroke="#bdf1e1"/>
<path d="M1172.7 312.6 1175.4 310.8 1178.1 308.9 1180.7 307.0" stroke="#bff2e2"/>
<path d="M1180.7 307.0 1183.4 305.1 1186.0 303.1 1188.7 301.0" stroke="#c1f2e3"/>
<path d="M1188.7 301.0 1191.3 299.0 1193.9 296.8 1196.4 294.7" stroke="#c3f3e4"/>
<path d="M1196.4 294.7 1199.0 292.5 1201.6 290.2 1204.1 287.9" stroke="#c5f3e4"/>
<path d="M1204.1 287.9 1205.8 286.3 1207.4 284.8 1209.1 283.2 1210.8 281.6" stroke="#c6f3e5"/>
<path d="M1210.8 281.6 1213.2 279.1 1215.7 276.6 1218.1 274.1" stroke="#c7f4e5"/>
<path d="M1218.1 274.1 1220.5 271.5 1222.9 268.8 1225.3 266.1" stroke="#c8f4e6"/>
<path d="M1225.3 266.1 1226.8 264.3 1228.4 262.5 1230.0 260.6 1231.5 258.8" stroke="#c9f4e6"/>
<path d="M1231.5 258.8 1233.0 256.9 1234.6 255.0 1236.1 253.0 1237.6 251.1" stroke="#caf4e6"/>
<path d="M1237.6 251.1 1239.1 249.1 1240.6 247.1 1242.0 245.1 1243.5 243.1" stroke="#cbf4e7"/>
<path d="M1243.5 243.1 1245.0 241.0 1246.4 238.9 1247.9 236.8 1249.3 234.7" stroke="#ccf5e7"/>
<path d="M1249.3 234.7 1250.7 232.6 1252.1 230.4 1253.5 228.2 1254.9 226.0" stroke="#cdf5e8"/>
<path d="M1254.9 226.0 1256.3 223.8 1257.6 221.6 1259.0 219.3 1259.7 218.2" stroke="#cdf5e8"/>
<path d="M1259.7 218.2 1261.0 215.9 1262.3 213.5 1263.7 211.2 1265.0 208.8" stroke="#cef5e8"/>
<path d="M1265.0 208.8 1266.3 206.5 1267.5 204.1 1268.8 201.6 1269.4 200.4" stroke="#cff5e9"/>
<path d="M-10.7 396.6 -8.4 394.9 -6.1 393.3 -3.8 391.6 -2.7 390.8" stroke="#f1f4fe"/>
<path d="M-2.7 390.8 -0.4 389.1 1.9 387.5 4.3 385.9 5.4 385.1" stroke="#eff2fe"/>
<path d="M5.4 385.1 7.7 383.4 10.0 381.9 12.4 380.3 13.5 379.5" stroke="#edf0fe"/>
<path d="M13.5 379.5 15.8 377.9 18.2 376.4 20.5 374.8 21.6 374.0" stroke="#eaeefe"/>
<path d="M21.6 374.0 24.0 372.5 26.3 371.0 28.6 369.5 29.8 368.7" stroke="#e8ebfd"/>
<path d="M29.8 368.7 32.1 367.2 34.4 365.8 36.8 364.3 37.9 363.6" stroke="#e6e8fd"/>
<path d="M37.9 363.6 40.3 362.1 42.6 360.7 44.9 359.2 47.3 357.8" stroke="#e3e5fd"/>
<path d="M47.3 357.8 49.6 356.4 51.9 355.0 54.3 353.6 55.4 352.9" stroke="#e1e2fd"/>
<path d="M55.4 352.9 57.8 351.6 60.1 350.2 62.4 348.9 63.6 348.2" stroke="#dedffc"/>
<path d="M63.6 348.2 65.9 346.9 68.3 345.5 70.6 344.2 73.0 342.9" stroke="#dcdcfc"/>
<path d="M73.0 342.9 75.3 341.6 77.6 340.3 80.0 339.1 81.1 338.4" stroke="#d9d8fc"/>
<path d="M81.1 338.4 83.5 337.2 85.8 335.9 88.2 334.7 90.5 333.5" stroke="#d7d4fc"/>
<path d="M90.5 333.5 92.8 332.3 95.2 331.1 97.5 329.9 99.8 328.7" stroke="#d4d0fb"/>
<path d="M99.8 328.7 102.2 327.5 104.5 326.3 106.8 325.2 108.0 324.6" stroke="#d2cdfb"/>
<path d="M108.0 324.6 110.3 323.5 112.7 322.4 115.0 321.2 117.3 320.1" stroke="#cfc8fb"/>
<path d="M117.3 320.1 119.7 319.0 122.0 317.9 124.3 316.9 126.6 315.8" stroke="#ccc4fb"/>
<path d="M126.6 315.8 129.0 314.7 131.3 313.7 133.6 312.6 135.9 311.6" stroke="#cabffa"/>
<path d="M135.9 311.6 138.2 310.6 140.6 309.6 142.9 308.6 145.2 307.6" stroke="#c7bbfa"/>
<path d="M145.2 307.6 147.5 306.6 149.8 305.6 152.1 304.7 154.4 303.7" stroke="#c4b6fa"/>
<path d="M154.4 303.7 156.7 302.8 159.0 301.9 161.3 300.9 163.6 300.0" stroke="#c2b1f9"/>
<path d="M163.6 300.0 165.9 299.1 168.2 298.2 170.5 297.3 172.8 296.5" stroke="#bfacf9"/>
<path d="M172.8 296.5 175.1 295.6 177.4 294.7 179.6 293.9 181.9 293.0" stroke="#bda7f9"/>
<path d="M181.9 293.0 184.2 292.2 186.5 291.4 188.7 290.6 191.0 289.8" stroke="#baa2f8"/>
<path d="M191.0 289.8 194.4 288.6 197.8 287.4 201.2 286.3" stroke="#b89df8"/>
<path d="M201.2 286.3 203.4 285.5 205.7 284.8 207.9 284.0 210.2 283.3" stroke="#b598f7"/>
<path d="M210.2 283.3 213.5 282.2 216.9 281.2 220.2 280.2" stroke="#b495f7"/>
<path d="M220.2 280.2 222.4 279.5 224.7 278.8 226.9 278.2 229.1 277.5" stroke="#b494f7"/>
<path d="M229.1 277.5 232.4 276.5 235.7 275.6 239.0 274.7" stroke="#b493f6"/>
<path d="M239.0 274.7 242.3 273.8 245.6 272.9 248.8 272.0" stroke="#b493f6"/>
<path d="M248.8 272.0 252.1 271.2 255.3 270.3 258.6 269.5" stroke="#b492f5"/>
<path d="M258.6 269.5 261.8 268.7 265.0 268.0 268.2 267.2" stroke="#b492f5"/>
<path d="M268.2 267.2 271.4 266.5 274.6 265.8 277.8 265.1" stroke="#b493f5"/>
<path d="M277.8 265.1 280.9 264.4 284.1 263.7 287.2 263.1" stroke="#b493f5"/>
<path d="M287.2 263.1 290.3 262.4 293.5 261.8 296.6 261.2 297.6 261.0" stroke="#b494f4"/>
<path d="M297.6 261.0 300.7 260.5 303.7 259.9 306.8 259.4 307.8 259.2" stroke="#b495f4"/>
<path d="M307.8 259.2 310.9 258.7 313.9 258.2 316.9 257.7" stroke="#b396f4"/>
<path d="M316.9 257.7 319.9 257.2 322.9 256.8 325.9 256.4 326.9 256.2" stroke="#b397f4"/>
<path d="M326.9 256.2 329.8 255.8 332.7 255.4 335.7 255.1 336.6 254.9" stroke="#b398f3"/>
<path d="M336.6 254.9 339.5 254.6 342.4 254.2 345.3 253.9 347.2 253.7" stroke="#b399f3"/>
<path d="M347.2 253.7 350.1 253.4 352.9 253.1 355.7 252.9 356.6 252.8" stroke="#b39af3"/>
<path d="M356.6 252.8 359.4 252.6 362.2 252.3 365.0 252.1 366.8 252.0" stroke="#b39bf3"/>
<path d="M366.8 252.0 369.5 251.8 372.2 251.6 374.9 251.5 376.7 251.4" stroke="#b29df2"/>
<path d="M376.7 251.4 380.3 251.2 383.8 251.1 387.3 251.0" stroke="#b29ef2"/>
<path d="M387.3 251.0 389.9 250.9 392.4 250.8 395.0 250.8 396.7 250.8" stroke="#b2a0f2"/>
<path d="M396.7 250.8 399.2 250.7 401.7 250.7 405.5 250.8 406.9 250.8" stroke="#b1a1f1"/>
<path d="M406.9 250.8 409.8 250.8 412.7 250.8 415.5 250.8 416.9 250.9" stroke="#b1a3f1"/>
<path d="M416.9 250.9 419.7 250.9 422.5 250.9 425.2 251.0 426.6 251.0" stroke="#b0a4f0"/>
<path d="M426.6 251.0 429.3 251.0 432.0 251.1 434.7 251.1 437.3 251.2" stroke="#b0a6f0"/>
<path d="M437.3 251.2 439.9 251.2 442.5 251.3 445.1 251.3 447.7 251.4" stroke="#b0a7f0"/>
<path d="M447.7 251.4 450.2 251.4 452.7 251.5 455.2 251.6 456.5 251.6" stroke="#b0a7f0"/>
<path d="M456.5 251.6 460.2 251.7 463.8 251.8 467.4 251.9" stroke="#b0a8f0"/>
<path d="M467.4 251.9 469.8 252.0 472.1 252.1 474.4 252.2 476.7 252.2" stroke="#afa9ef"/>
<path d="M476.7 252.2 480.2 252.4 483.5 252.5 486.9 252.7" stroke="#afaaef"/>
<path d="M486.9 252.7 490.2 252.8 493.4 253.0 496.6 253.1" stroke="#afabef"/>
<path d="M496.6 253.1 499.8 253.3 502.9 253.5 506.0 253.6 507.0 253.7" stroke="#afabef"/>
<path d="M507.0 253.7 510.0 253.9 513.0 254.0 516.0 254.2 517.0 254.3" stroke="#afacef"/>
<path d="M517.0 254.3 519.9 254.5 522.7 254.7 525.6 254.9 526.5 255.0" stroke="#afadef"/>
<path d="M526.5 255.0 529.3 255.2 532.0 255.4 534.7 255.6 536.5 255.8" stroke="#afaeef"/>
<path d="M536.5 255.8 540.1 256.1 543.5 256.4 546.9 256.7" stroke="#afaeef"/>
<path d="M546.9 256.7 550.3 257.0 553.6 257.4 556.9 257.7" stroke="#aeafee"/>
<path d="M556.9 257.7 560.1 258.1 563.2 258.4 566.3 258.8" stroke="#aeb0ee"/>
<path d="M566.3 258.8 569.4 259.1 572.4 259.5 575.3 259.9 576.8 260.1" stroke="#aeb1ee"/>
<path d="M576.8 260.1 579.7 260.5 582.5 260.9 585.3 261.3 586.7 261.5" stroke="#aeb1ee"/>
<path d="M586.7 261.5 589.5 261.9 592.2 262.4 594.8 262.8 596.2 263.0" stroke="#aeb2ee"/>
<path d="M596.2 263.0 599.4 263.6 602.6 264.1 605.8 264.7 606.4 264.8" stroke="#aeb3ed"/>
<path d="M606.4 264.8 609.6 265.4 612.6 266.0 615.7 266.6 616.3 266.7" stroke="#adb5ed"/>
<path d="M616.3 266.7 619.2 267.3 622.2 267.9 625.1 268.6 625.7 268.7" stroke="#adb6ed"/>
<path d="M625.7 268.7 628.6 269.3 631.4 270.0 634.3 270.6 635.4 270.9" stroke="#adb7ec"/>
<path d="M635.4 270.9 638.8 271.7 642.1 272.5 645.4 273.3" stroke="#acb8ec"/>
<path d="M645.4 273.3 648.2 274.0 650.9 274.7 653.6 275.4 654.7 275.7" stroke="#acb9eb"/>
<path d="M654.7 275.7 658.0 276.6 661.3 277.4 664.6 278.3" stroke="#acbaeb"/>
<path d="M664.6 278.3 667.8 279.2 671.2 280.1 674.5 281.0" stroke="#abbceb"/>
<path d="M674.5 281.0 677.3 281.8 680.1 282.5 682.9 283.3 684.0 283.6" stroke="#abbdea"/>
<path d="M684.0 283.6 686.9 284.4 689.8 285.2 692.7 285.9 693.9 286.3" stroke="#abbeea"/>
<path d="M693.9 286.3 696.8 287.0 699.8 287.8 702.9 288.6 703.5 288.8" stroke="#aabfe9"/>
<path d="M703.5 288.8 706.6 289.6 709.7 290.4 712.9 291.2" stroke="#aac0e9"/>
<path d="M712.9 291.2 715.5 291.9 719.3 292.8 723.0 293.8" stroke="#aac1e9"/>
<path d="M723.0 293.8 725.8 294.5 728.5 295.3 731.2 296.0 732.1 296.3" stroke="#aac2e8"/>
<path d="M732.1 296.3 734.8 297.0 737.5 297.8 740.1 298.5 741.9 299.0" stroke="#a9c3e8"/>
<path d="M741.9 299.0 744.5 299.8 747.1 300.6 749.6 301.4 751.3 301.9" stroke="#a9c4e7"/>
<path d="M751.3 301.9 754.7 302.9 758.0 304.0 761.3 305.0" stroke="#a9c5e7"/>
<path d="M761.3 305.0 764.5 306.1 767.7 307.1 770.9 308.2" stroke="#a8c6e7"/>
<path d="M770.9 308.2 774.1 309.3 777.2 310.3 780.3 311.4" stroke="#a8c7e6"/>
<path d="M780.3 311.4 783.4 312.5 786.4 313.6 789.4 314.7" stroke="#a8c8e6"/>
<path d="M789.4 314.7 792.4 315.7 795.4 316.8 798.4 317.9 799.1 318.2" stroke="#a8cae5"/>
<path d="M799.1 318.2 802.0 319.3 805.0 320.3 807.9 321.4 808.6 321.7" stroke="#a8cce4"/>
<path d="M808.6 321.7 811.5 322.8 814.3 323.8 817.2 324.9 817.9 325.2" stroke="#a7cde4"/>
<path d="M817.9 325.2 820.7 326.2 823.6 327.3 826.4 328.3 827.1 328.6" stroke="#a7cfe3"/>
<path d="M827.1 328.6 829.9 329.6 832.7 330.7 835.5 331.7 836.9 332.2" stroke="#a7d0e2"/>
<path d="M836.9 332.2 839.7 333.3 842.5 334.3 845.3 335.3 846.0 335.6" stroke="#a7d2e2"/>
<path d="M846.0 335.6 848.7 336.6 851.5 337.5 854.3 338.5 855.0 338.8" stroke="#a7d3e1"/>
<path d="M855.0 338.8 857.8 339.7 860.7 340.7 863.5 341.6 864.9 342.1" stroke="#a7d5e0"/>
<path d="M864.9 342.1 867.7 343.0 870.6 344.0 873.4 344.9 874.1 345.1" stroke="#a6d6e0"/>
<path d="M874.1 345.1 877.0 346.0 879.9 346.9 882.8 347.7 884.2 348.2" stroke="#a6d8df"/>
<path d="M884.2 348.2 887.1 349.0 890.1 349.8 893.0 350.6 893.8 350.8" stroke="#a6dade"/>
<path d="M893.8 350.8 896.8 351.6 899.8 352.4 902.8 353.2 903.6 353.3" stroke="#a6dbde"/>
<path d="M903.6 353.3 906.7 354.1 909.7 354.8 912.9 355.5" stroke="#a6dcdd"/>
<path d="M912.9 355.5 916.0 356.2 919.2 356.8 922.4 357.5 923.2 357.6" stroke="#a6dddd"/>
<path d="M923.2 357.6 926.5 358.2 929.7 358.8 933.1 359.4" stroke="#a6dedd"/>
<path d="M933.1 359.4 935.6 359.8 938.1 360.2 940.7 360.6 942.4 360.9" stroke="#a6dfdd"/>
<path d="M942.4 360.9 945.8 361.4 949.4 361.8 952.9 362.3" stroke="#a6e0dc"/>
<path d="M952.9 362.3 955.6 362.6 958.3 362.9 961.0 363.2 962.9 363.3" stroke="#a6e2dc"/>
<path d="M962.9 363.3 965.7 363.6 968.5 363.9 971.3 364.1 972.3 364.2" stroke="#a6e3db"/>
<path d="M972.3 364.2 975.1 364.4 978.0 364.6 981.0 364.8 982.9 364.9" stroke="#a6e4db"/>
<path d="M982.9 364.9 985.9 365.0 988.9 365.2 992.0 365.3 993.0 365.3" stroke="#a6e6db"/>
<path d="M993.0 365.3 996.1 365.4 999.2 365.5 1002.3 365.6" stroke="#a6e7da"/>
<path d="M1002.3 365.6 1005.5 365.6 1008.7 365.6 1012.0 365.7 1013.1 365.7" stroke="#a6e8da"/>
<path d="M1013.1 365.7 1016.4 365.7 1019.7 365.6 1023.1 365.6" stroke="#a7e9da"/>
<path d="M1023.1 365.6 1025.3 365.5 1027.6 365.5 1029.9 365.4 1032.2 365.4" stroke="#a8e9da"/>
<path d="M1032.2 365.4 1035.7 365.3 1039.3 365.1 1042.9 365.0" stroke="#a9eadb"/>
<path d="M1042.9 365.0 1046.5 364.8 1049.9 364.6 1052.9 364.4" stroke="#aaeadb"/>
<path d="M1052.9 364.4 1055.9 364.2 1058.9 363.9 1062.0 363.6 1063.0 363.5" stroke="#aaebdb"/>
<path d="M1063.0 363.5 1066.0 363.2 1069.0 362.8 1072.0 362.4 1072.9 362.2" stroke="#abebdb"/>
<path d="M1072.9 362.2 1075.9 361.7 1078.9 361.2 1081.9 360.7" stroke="#acecdb"/>
<path d="M1081.9 360.7 1084.9 360.1 1087.8 359.5 1090.8 358.8 1091.8 358.6" stroke="#adecdb"/>
<path d="M1091.8 358.6 1094.7 357.9 1097.7 357.1 1100.6 356.3 1101.6 356.1" stroke="#aeeddc"/>
<path d="M1101.6 356.1 1104.6 355.2 1107.5 354.3 1110.4 353.4 1111.4 353.1" stroke="#afeedc"/>
<path d="M1111.4 353.1 1114.3 352.1 1117.2 351.1 1120.1 350.1 1121.0 349.7" stroke="#b1eedc"/>
<path d="M1121.0 349.7 1123.9 348.6 1126.8 347.5 1129.6 346.3 1130.6 345.9" stroke="#b3efdd"/>
<path d="M1130.6 345.9 1133.4 344.7 1136.3 343.4 1139.1 342.1" stroke="#b4efde"/>
<path d="M1139.1 342.1 1141.9 340.8 1144.7 339.4 1147.5 337.9 1148.5 337.4" stroke="#b6f0df"/>
<path d="M1148.5 337.4 1151.3 336.0 1154.0 334.4 1156.8 332.9" stroke="#b8f0df"/>
<path d="M1156.8 332.9 1159.5 331.3 1162.3 329.6 1165.0 327.9 1165.9 327.4" stroke="#baf1e0"/>
<path d="M1165.9 327.4 1168.6 325.6 1171.3 323.8 1174.0 322.0" stroke="#bcf1e1"/>
<path d="M1174.0 322.0 1176.6 320.1 1179.3 318.2 1181.9 316.3" stroke="#bef1e2"/>
<path d="M1181.9 316.3 1184.5 314.3 1187.1 312.3 1189.7 310.2" stroke="#c0f2e2"/>
<path d="M1189.7 310.2 1192.3 308.1 1194.9 305.9 1197.4 303.7" stroke="#c2f2e3"/>
<path d="M1197.4 303.7 1199.9 301.5 1202.4 299.2 1204.9 296.9" stroke="#c4f3e4"/>
<path d="M1204.9 296.9 1207.4 294.5 1209.9 292.1 1212.3 289.6" stroke="#c5f3e4"/>
<path d="M1212.3 289.6 1213.9 288.0 1215.5 286.3 1217.1 284.6 1218.7 282.9" stroke="#c6f3e5"/>
<path d="M1218.7 282.9 1221.1 280.3 1223.4 277.6 1225.8 274.9" stroke="#c7f4e5"/>
<path d="M1225.8 274.9 1227.3 273.1 1228.9 271.2 1230.4 269.4 1231.9 267.5" stroke="#c8f4e6"/>
<path d="M1231.9 267.5 1233.4 265.6 1234.9 263.7 1236.4 261.7 1237.9 259.7" stroke="#c9f4e6"/>
<path d="M1237.9 259.7 1239.4 257.8 1240.8 255.8 1242.3 253.7 1243.7 251.7" stroke="#caf4e7"/>
<path d="M1243.7 251.7 1245.2 249.6 1246.6 247.6 1248.0 245.5 1249.4 243.3" stroke="#cbf4e7"/>
<path d="M1249.4 243.3 1250.8 241.2 1252.2 239.0 1253.6 236.9 1254.9 234.7" stroke="#ccf5e7"/>
<path d="M1254.9 234.7 1256.3 232.4 1257.6 230.2 1259.0 227.9 1260.3 225.7" stroke="#cdf5e8"/>
<path d="M1260.3 225.7 1261.6 223.4 1262.9 221.0 1264.2 218.7 1264.9 217.5" stroke="#cef5e8"/>
<path d="M1264.9 217.5 1266.1 215.1 1267.4 212.8 1268.6 210.3 1269.9 207.9" stroke="#cff5e9"/>
<path d="M1269.9 207.9 1271.1 205.5 1272.3 203.0 1273.6 200.5 1274.2 199.2" stroke="#d0f6e9"/>
<path d="M-4.2 451.4 -1.1 448.6 0.4 447.3 1.5 446.3" stroke="#f7f9ff"/>
<path d="M1.5 446.3 3.7 444.4 6.0 442.4 8.2 440.5 9.3 439.5" stroke="#f5f8fe"/>
<path d="M9.3 439.5 11.5 437.6 13.7 435.7 16.0 433.9 17.1 432.9" stroke="#f3f6fe"/>
<path d="M17.1 432.9 19.3 431.1 21.6 429.2 23.8 427.4 24.9 426.5" stroke="#f1f4fe"/>
<path d="M24.9 426.5 27.2 424.7 29.5 422.9 31.7 421.1 32.8 420.2" stroke="#eff2fe"/>
<path d="M32.8 420.2 35.1 418.4 37.4 416.7 39.6 415.0 40.8 414.1" stroke="#edf0fe"/>
<path d="M40.8 414.1 43.0 412.4 45.3 410.7 47.6 409.0 48.7 408.1" stroke="#eaedfe"/>
<path d="M48.7 408.1 51.0 406.5 53.3 404.8 55.6 403.2 56.7 402.3" stroke="#e8ebfd"/>
<path d="M56.7 402.3 59.0 400.7 61.3 399.1 63.6 397.5 64.7 396.7" stroke="#e6e8fd"/>
<path d="M64.7 396.7 67.0 395.1 69.3 393.6 71.6 392.0 72.8 391.2" stroke="#e3e5fd"/>
<path d="M72.8 391.2 75.1 389.7 77.4 388.2 79.7 386.7 82.0 385.2" stroke="#e1e2fd"/>
<path d="M82.0 385.2 84.3 383.7 86.6 382.2 88.9 380.7 90.1 380.0" stroke="#dedffc"/>
<path d="M90.1 380.0 92.4 378.6 94.7 377.1 97.0 375.7 98.2 375.0" stroke="#dcdbfc"/>
<path d="M98.2 375.0 100.5 373.6 102.8 372.2 105.1 370.8 107.4 369.5" stroke="#d9d7fc"/>
<path d="M107.4 369.5 109.7 368.1 112.1 366.8 114.4 365.5 115.5 364.8" stroke="#d7d4fc"/>
<path d="M115.5 364.8 117.9 363.5 120.2 362.2 122.5 360.9 124.8 359.6" stroke="#d4d0fb"/>
<path d="M124.8 359.6 127.1 358.4 129.5 357.1 131.8 355.9 134.1 354.6" stroke="#d1cbfb"/>
<path d="M134.1 354.6 136.4 353.4 138.7 352.2 141.1 351.0 142.2 350.4" stroke="#cfc8fb"/>
<path d="M142.2 350.4 144.5 349.2 146.9 348.1 149.2 346.9 151.5 345.8" stroke="#ccc3fb"/>
<path d="M151.5 345.8 153.8 344.6 156.1 343.5 158.4 342.4 160.7 341.3" stroke="#c9befa"/>
<path d="M160.7 341.3 163.1 340.2 165.4 339.1 167.7 338.1 170.0 337.0" stroke="#c7b9fa"/>
<path d="M170.0 337.0 172.3 336.0 174.6 334.9 176.9 333.9 179.2 332.9" stroke="#c4b5fa"/>
<path d="M179.2 332.9 181.5 331.9 183.8 330.9 186.1 329.9 188.4 328.9" stroke="#c1b0f9"/>
<path d="M188.4 328.9 190.7 328.0 193.0 327.0 195.3 326.1 197.6 325.2" stroke="#bfaaf9"/>
<path d="M197.6 325.2 199.9 324.2 202.2 323.3 204.4 322.4 206.7 321.6" stroke="#bca5f9"/>
<path d="M206.7 321.6 209.0 320.7 211.3 319.8 213.6 318.9 215.8 318.1" stroke="#baa0f8"/>
<path d="M215.8 318.1 219.2 316.8 222.6 315.6 226.0 314.4" stroke="#b79bf8"/>
<path d="M226.0 314.4 228.3 313.6 230.5 312.8 232.8 312.1 235.0 311.3" stroke="#b495f7"/>
<path d="M235.0 311.3 238.4 310.2 241.7 309.1 245.1 308.0" stroke="#b494f7"/>
<path d="M245.1 308.0 247.3 307.3 249.5 306.6 251.7 305.9 254.0 305.2" stroke="#b493f7"/>
<path d="M254.0 305.2 257.3 304.2 260.6 303.2 263.9 302.2" stroke="#b492f6"/>
<path d="M263.9 302.2 267.2 301.3 270.5 300.3 273.7 299.4" stroke="#b492f6"/>
<path d="M273.7 299.4 277.0 298.6 280.2 297.7 283.5 296.8" stroke="#b491f5"/>
<path d="M283.5 296.8 286.7 296.0 289.9 295.2 293.1 294.4" stroke="#b491f5"/>
<path d="M293.1 294.4 296.3 293.6 299.5 292.9 302.7 292.2" stroke="#b492f5"/>
<path d="M302.7 292.2 305.8 291.5 309.0 290.8 312.1 290.1" stroke="#b493f5"/>
<path d="M312.1 290.1 315.2 289.4 318.3 288.8 321.4 288.2 322.4 288.0" stroke="#b494f4"/>
<path d="M322.4 288.0 325.5 287.4 328.6 286.8 331.6 286.2" stroke="#b495f4"/>
<path d="M331.6 286.2 334.6 285.7 337.6 285.2 340.6 284.6 341.6 284.5" stroke="#b396f4"/>
<path d="M341.6 284.5 344.6 284.0 347.6 283.5 350.5 283.1 351.5 282.9" stroke="#b397f4"/>
<path d="M351.5 282.9 354.4 282.5 357.4 282.1 360.2 281.7 362.2 281.4" stroke="#b398f4"/>
<path d="M362.2 281.4 365.0 281.0 367.9 280.7 370.7 280.3 371.7 280.2" stroke="#b399f3"/>
<path d="M371.7 280.2 374.5 279.9 377.3 279.6 380.0 279.3 381.9 279.1" stroke="#b39af3"/>
<path d="M381.9 279.1 384.6 278.9 387.3 278.6 390.0 278.4 391.8 278.2" stroke="#b39bf3"/>
<path d="M391.8 278.2 394.5 278.0 397.1 277.8 399.8 277.6 401.5 277.5" stroke="#b29df2"/>
<path d="M401.5 277.5 405.0 277.3 408.4 277.1 411.8 277.0" stroke="#b29ef2"/>
<path d="M411.8 277.0 415.1 276.8 418.4 276.7 421.7 276.6" stroke="#b2a0f2"/>
<path d="M421.7 276.6 424.1 276.6 426.5 276.5 430.7 276.5 432.0 276.5" stroke="#b1a1f1"/>
<path d="M432.0 276.5 434.8 276.5 437.5 276.5 440.1 276.5 442.8 276.5" stroke="#b1a3f1"/>
<path d="M442.8 276.5 445.4 276.5 448.1 276.5 450.7 276.5 451.9 276.5" stroke="#b0a4f0"/>
<path d="M451.9 276.5 454.5 276.5 457.0 276.5 459.6 276.5 462.1 276.5" stroke="#b0a6f0"/>
<path d="M462.1 276.5 464.5 276.6 467.0 276.6 469.4 276.6 471.8 276.6" stroke="#b0a7f0"/>
<path d="M471.8 276.6 475.4 276.7 479.0 276.7 482.5 276.8" stroke="#b0a7f0"/>
<path d="M482.5 276.8 485.9 276.8 489.3 276.9 492.7 277.0" stroke="#b0a8f0"/>
<path d="M492.7 277.0 496.0 277.1 499.3 277.2 502.5 277.2" stroke="#afa9ef"/>
<path d="M502.5 277.2 505.7 277.3 508.8 277.4 511.9 277.6" stroke="#afaaef"/>
<path d="M511.9 277.6 515.0 277.7 518.0 277.8 521.0 277.9 522.0 278.0" stroke="#afabef"/>
<path d="M522.0 278.0 525.0 278.1 527.9 278.2 530.7 278.4 532.6 278.5" stroke="#afabef"/>
<path d="M532.6 278.5 535.4 278.6 538.2 278.8 541.0 278.9 542.8 279.0" stroke="#afacef"/>
<path d="M542.8 279.0 545.4 279.2 548.1 279.4 550.7 279.5 552.4 279.7" stroke="#afadef"/>
<path d="M552.4 279.7 555.8 279.9 559.2 280.2 562.5 280.4" stroke="#afaeef"/>
<path d="M562.5 280.4 565.7 280.7 568.9 281.0 572.1 281.3" stroke="#afafef"/>
<path d="M572.1 281.3 575.1 281.6 578.2 281.9 581.2 282.2 582.7 282.3" stroke="#aeafee"/>
<path d="M582.7 282.3 585.6 282.6 588.5 283.0 591.3 283.3 592.0 283.4" stroke="#aeb0ee"/>
<path d="M592.0 283.4 595.5 283.8 598.9 284.3 602.3 284.7" stroke="#aeb1ee"/>
<path d="M602.3 284.7 605.6 285.2 608.8 285.7 612.0 286.1" stroke="#aeb1ee"/>
<path d="M612.0 286.1 615.2 286.6 618.3 287.1 621.3 287.7 621.9 287.8" stroke="#aeb2ee"/>
<path d="M621.9 287.8 624.9 288.3 627.9 288.8 630.8 289.4 632.0 289.6" stroke="#aeb4ed"/>
<path d="M632.0 289.6 634.9 290.1 637.7 290.7 640.5 291.3 641.7 291.5" stroke="#adb5ed"/>
<path d="M641.7 291.5 645.0 292.2 648.3 292.9 651.6 293.6" stroke="#adb6ed"/>
<path d="M651.6 293.6 654.8 294.4 658.1 295.1 661.3 295.9" stroke="#adb7ec"/>
<path d="M661.3 295.9 664.5 296.6 667.7 297.4 670.9 298.2" stroke="#acb8ec"/>
<path d="M670.9 298.2 674.1 299.0 677.4 299.8 680.6 300.6 681.1 300.7" stroke="#acb9eb"/>
<path d="M681.1 300.7 684.4 301.5 687.6 302.4 690.9 303.2" stroke="#acbbeb"/>
<path d="M690.9 303.2 693.7 303.9 696.5 304.6 699.3 305.3 700.4 305.6" stroke="#abbcea"/>
<path d="M700.4 305.6 703.2 306.3 706.1 307.0 709.0 307.7 710.2 308.0" stroke="#abbdea"/>
<path d="M710.2 308.0 713.2 308.7 716.2 309.5 719.2 310.2 719.8 310.3" stroke="#abbeea"/>
<path d="M719.8 310.3 722.9 311.1 726.1 311.8 729.8 312.7" stroke="#aabfe9"/>
<path d="M729.8 312.7 732.6 313.3 735.3 314.0 738.1 314.7 739.9 315.1" stroke="#aac0e9"/>
<path d="M739.9 315.1 742.5 315.8 745.2 316.5 747.8 317.2 749.6 317.6" stroke="#aac2e8"/>
<path d="M749.6 317.6 752.2 318.3 754.7 319.0 757.3 319.7 759.0 320.2" stroke="#a9c3e8"/>
<path d="M759.0 320.2 762.3 321.1 765.6 322.1 768.9 323.0" stroke="#a9c4e8"/>
<path d="M768.9 323.0 772.2 324.0 775.4 325.0 778.6 326.0" stroke="#a9c5e7"/>
<path d="M778.6 326.0 781.8 326.9 784.9 327.9 788.0 328.9" stroke="#a9c6e7"/>
<path d="M788.0 328.9 791.1 329.9 794.1 330.9 797.1 331.9" stroke="#a8c7e6"/>
<path d="M797.1 331.9 800.2 332.9 803.1 333.9 806.1 334.9 806.8 335.1" stroke="#a8c8e6"/>
<path d="M806.8 335.1 809.8 336.1 812.7 337.1 815.6 338.1 816.3 338.4" stroke="#a8c9e5"/>
<path d="M816.3 338.4 819.2 339.3 822.1 340.3 824.9 341.3 825.7 341.6" stroke="#a8cbe5"/>
<path d="M825.7 341.6 828.5 342.5 831.3 343.5 834.2 344.5 835.6 345.0" stroke="#a8cce4"/>
<path d="M835.6 345.0 838.4 346.0 841.2 346.9 844.0 347.9 844.7 348.1" stroke="#a7cee3"/>
<path d="M844.7 348.1 847.5 349.1 850.3 350.0 853.1 350.9 854.5 351.4" stroke="#a7d0e3"/>
<path d="M854.5 351.4 857.3 352.3 860.1 353.2 862.8 354.1 864.2 354.6" stroke="#a7d1e2"/>
<path d="M864.2 354.6 867.0 355.5 869.9 356.3 872.7 357.2 873.4 357.4" stroke="#a7d3e1"/>
<path d="M873.4 357.4 876.2 358.3 879.0 359.1 881.9 359.9 883.3 360.3" stroke="#a7d5e0"/>
<path d="M883.3 360.3 886.1 361.2 889.0 362.0 891.9 362.7 892.6 362.9" stroke="#a6d6e0"/>
<path d="M892.6 362.9 895.5 363.7 898.4 364.4 901.4 365.2 902.8 365.5" stroke="#a6d8df"/>
<path d="M902.8 365.5 905.8 366.2 908.8 366.9 911.8 367.6 912.6 367.8" stroke="#a6dade"/>
<path d="M912.6 367.8 915.6 368.4 918.7 369.0 921.7 369.7 922.5 369.8" stroke="#a6dbde"/>
<path d="M922.5 369.8 925.6 370.4 928.8 371.0 932.0 371.5" stroke="#a6dcdd"/>
<path d="M932.0 371.5 935.2 372.0 938.4 372.5 941.7 373.0 942.5 373.1" stroke="#a6dddd"/>
<path d="M942.5 373.1 945.0 373.5 947.5 373.8 950.0 374.1 951.7 374.3" stroke="#a6dfdd"/>
<path d="M951.7 374.3 955.1 374.7 958.5 375.1 962.0 375.4" stroke="#a6e0dc"/>
<path d="M962.0 375.4 964.7 375.7 967.3 375.9 970.0 376.1 971.8 376.3" stroke="#a6e1dc"/>
<path d="M971.8 376.3 974.6 376.4 977.3 376.6 980.1 376.8 982.0 376.9" stroke="#a6e2dc"/>
<path d="M982.0 376.9 984.8 377.0 987.6 377.1 990.5 377.2 992.5 377.3" stroke="#a6e4db"/>
<path d="M992.5 377.3 995.4 377.3 998.3 377.4 1001.3 377.4 1002.3 377.4" stroke="#a6e5db"/>
<path d="M1002.3 377.4 1005.3 377.4 1008.4 377.4 1011.5 377.4 1012.5 377.4" stroke="#a6e7da"/>
<path d="M1012.5 377.4 1015.6 377.4 1018.8 377.3 1022.0 377.2" stroke="#a6e8da"/>
<path d="M1022.0 377.2 1025.2 377.1 1028.4 377.0 1031.7 376.9 1032.8 376.8" stroke="#a7e9da"/>
<path d="M1032.8 376.8 1036.2 376.7 1039.5 376.5 1042.9 376.3" stroke="#a8e9da"/>
<path d="M1042.9 376.3 1045.2 376.1 1047.5 376.0 1049.8 375.8 1052.2 375.7" stroke="#a9eadb"/>
<path d="M1052.2 375.7 1055.7 375.4 1059.1 375.1 1062.1 374.8" stroke="#a9eadb"/>
<path d="M1062.1 374.8 1065.1 374.5 1068.1 374.1 1071.1 373.7 1072.1 373.6" stroke="#aaebdb"/>
<path d="M1072.1 373.6 1075.1 373.1 1078.1 372.6 1081.1 372.1 1082.1 371.9" stroke="#abebdb"/>
<path d="M1082.1 371.9 1085.0 371.3 1088.0 370.7 1090.9 370.0 1091.9 369.8" stroke="#acecdb"/>
<path d="M1091.9 369.8 1094.9 369.1 1097.8 368.3 1100.8 367.5 1101.7 367.3" stroke="#adecdb"/>
<path d="M1101.7 367.3 1104.7 366.4 1107.6 365.5 1110.5 364.6 1111.5 364.3" stroke="#aeeddc"/>
<path d="M1111.5 364.3 1114.4 363.3 1117.2 362.3 1120.1 361.2 1121.1 360.9" stroke="#afeedc"/>
<path d="M1121.1 360.9 1123.9 359.8 1126.8 358.6 1129.7 357.4 1130.6 357.0" stroke="#b1eedc"/>
<path d="M1130.6 357.0 1133.4 355.8 1136.3 354.5 1139.1 353.2" stroke="#b3efdd"/>
<path d="M1139.1 353.2 1141.9 351.8 1144.7 350.4 1147.4 349.0 1148.4 348.5" stroke="#b5efde"/>
<path d="M1148.4 348.5 1151.1 347.0 1153.9 345.5 1156.6 343.9 1157.5 343.4" stroke="#b7f0df"/>
<path d="M1157.5 343.4 1160.2 341.8 1163.0 340.1 1165.7 338.4" stroke="#b9f0df"/>
<path d="M1165.7 338.4 1168.3 336.6 1171.0 334.8 1173.7 333.0 1174.5 332.4" stroke="#bbf1e0"/>
<path d="M1174.5 332.4 1177.2 330.5 1179.8 328.6 1182.4 326.6" stroke="#bdf1e1"/>
<path d="M1182.4 326.6 1185.0 324.6 1187.6 322.5 1190.1 320.5" stroke="#bff2e2"/>
<path d="M1190.1 320.5 1192.7 318.3 1195.2 316.1 1197.7 313.9" stroke="#c1f2e3"/>
<path d="M1197.7 313.9 1200.2 311.7 1202.7 309.4 1205.2 307.0" stroke="#c3f3e3"/>
<path d="M1205.2 307.0 1207.6 304.7 1210.1 302.2 1212.5 299.8" stroke="#c4f3e4"/>
<path d="M1212.5 299.8 1214.1 298.1 1215.7 296.4 1217.2 294.7 1218.8 293.0" stroke="#c5f3e5"/>
<path d="M1218.8 293.0 1221.2 290.3 1223.5 287.7 1225.8 285.0" stroke="#c6f3e5"/>
<path d="M1225.8 285.0 1227.3 283.1 1228.8 281.3 1230.4 279.4 1231.9 277.6" stroke="#c7f4e5"/>
<path d="M1231.9 277.6 1234.1 274.7 1236.3 271.8 1238.5 268.8" stroke="#c8f4e6"/>
<path d="M1238.5 268.8 1240.0 266.8 1241.4 264.8 1242.8 262.8 1244.3 260.8" stroke="#c9f4e6"/>
<path d="M1244.3 260.8 1245.7 258.7 1247.1 256.6 1248.5 254.5 1249.9 252.4" stroke="#caf4e7"/>
<path d="M1249.9 252.4 1251.2 250.2 1252.6 248.1 1254.0 245.9 1254.6 244.8" stroke="#cbf5e7"/>
<path d="M1254.6 244.8 1256.0 242.6 1257.3 240.3 1258.6 238.1 1259.9 235.8" stroke="#ccf5e8"/>
<path d="M1259.9 235.8 1261.2 233.5 1262.5 231.2 1263.8 228.9 1265.1 226.6" stroke="#cdf5e8"/>
<path d="M1265.1 226.6 1266.3 224.2 1267.6 221.8 1268.8 219.4 1269.4 218.2" stroke="#cef5e8"/>
<path d="M1269.4 218.2 1270.7 215.8 1271.9 213.3 1273.1 210.8 1274.2 208.3" stroke="#cff5e9"/>
<path d="M1274.2 208.3 1275.4 205.8 1276.6 203.3 1277.7 200.7 1278.3 199.5" stroke="#d0f6e9"/>
<path d="M-5.7 518.4 -2.7 515.5 0.2 512.5 3.2 509.5" stroke="#fefeff"/>
<path d="M3.2 509.5 6.2 506.5 9.1 503.6" stroke="#fcfdff"/>
<path d="M9.1 503.6 12.1 500.6 15.1 497.6" stroke="#fbfcff"/>
<path d="M15.1 497.6 18.1 494.6 21.0 491.7 24.0 488.7" stroke="#fafbff"/>
<path d="M24.0 488.7 27.0 485.7 28.4 484.3 29.5 483.2" stroke="#f7f9ff"/>
<path d="M29.5 483.2 31.6 481.1 33.7 479.0 35.9 476.9 37.0 475.8" stroke="#f6f8fe"/>
<path d="M37.0 475.8 39.1 473.8 41.3 471.7 43.5 469.6" stroke="#f3f6fe"/>
<path d="M43.5 469.6 45.6 467.6 47.8 465.6 50.0 463.6 51.1 462.6" stroke="#f1f4fe"/>
<path d="M51.1 462.6 53.3 460.6 55.5 458.7 57.7 456.7 58.8 455.7" stroke="#eff2fe"/>
<path d="M58.8 455.7 61.0 453.8 63.2 451.9 65.4 450.0 66.5 449.1" stroke="#edf0fe"/>
<path d="M66.5 449.1 68.7 447.2 71.0 445.3 73.2 443.5 74.3 442.6" stroke="#ebedfe"/>
<path d="M74.3 442.6 76.5 440.8 78.8 439.0 81.0 437.2 82.1 436.3" stroke="#e8ebfd"/>
<path d="M82.1 436.3 84.4 434.5 86.6 432.8 88.9 431.0 90.0 430.2" stroke="#e6e8fd"/>
<path d="M90.0 430.2 92.3 428.5 94.5 426.8 96.8 425.1 97.9 424.2" stroke="#e3e5fd"/>
<path d="M97.9 424.2 100.2 422.6 102.4 420.9 104.7 419.3 105.8 418.5" stroke="#e1e2fd"/>
<path d="M105.8 418.5 108.1 416.8 110.4 415.2 112.7 413.7 113.8 412.9" stroke="#dedffc"/>
<path d="M113.8 412.9 116.1 411.3 118.4 409.8 120.7 408.2 123.0 406.7" stroke="#dcdbfc"/>
<path d="M123.0 406.7 125.2 405.2 127.5 403.7 129.8 402.2 131.0 401.5" stroke="#d9d8fc"/>
<path d="M131.0 401.5 133.3 400.0 135.6 398.6 137.9 397.1 139.0 396.4" stroke="#d7d4fc"/>
<path d="M139.0 396.4 141.3 395.0 143.6 393.6 145.9 392.2 148.2 390.8" stroke="#d4d0fb"/>
<path d="M148.2 390.8 150.5 389.5 152.8 388.1 155.1 386.8 156.3 386.1" stroke="#d2ccfb"/>
<path d="M156.3 386.1 158.6 384.8 160.9 383.5 163.2 382.2 165.5 380.9" stroke="#cfc7fb"/>
<path d="M165.5 380.9 167.8 379.7 170.1 378.4 172.5 377.2 174.8 375.9" stroke="#ccc3fb"/>
<path d="M174.8 375.9 177.1 374.7 179.4 373.5 181.7 372.3 182.8 371.7" stroke="#cabffa"/>
<path d="M182.8 371.7 185.1 370.6 187.5 369.4 189.8 368.3 192.1 367.1" stroke="#c7bafa"/>
<path d="M192.1 367.1 194.4 366.0 196.7 364.9 199.0 363.8 201.3 362.7" stroke="#c4b5fa"/>
<path d="M201.3 362.7 203.6 361.6 205.9 360.6 208.2 359.5 210.5 358.5" stroke="#c2aff9"/>
<path d="M210.5 358.5 212.8 357.4 215.1 356.4 217.4 355.4 219.7 354.4" stroke="#bfaaf9"/>
<path d="M219.7 354.4 221.9 353.4 224.2 352.5 226.5 351.5 228.8 350.5" stroke="#bca5f9"/>
<path d="M228.8 350.5 231.1 349.6 233.4 348.7 235.6 347.8 237.9 346.9" stroke="#ba9ff8"/>
<path d="M237.9 346.9 240.2 346.0 242.5 345.1 244.7 344.2 247.0 343.4" stroke="#b79af8"/>
<path d="M247.0 343.4 250.4 342.1 253.8 340.8 257.2 339.6" stroke="#b595f7"/>
<path d="M257.2 339.6 259.4 338.8 261.6 338.0 263.9 337.2 266.1 336.5" stroke="#b493f7"/>
<path d="M266.1 336.5 269.5 335.3 272.8 334.2 276.2 333.1" stroke="#b492f7"/>
<path d="M276.2 333.1 278.4 332.4 280.6 331.7 282.8 331.0 285.0 330.3" stroke="#b491f6"/>
<path d="M285.0 330.3 288.3 329.3 291.6 328.3 294.9 327.3" stroke="#b491f6"/>
<path d="M294.9 327.3 298.2 326.4 301.4 325.5 304.7 324.6" stroke="#b490f6"/>
<path d="M304.7 324.6 307.9 323.7 311.1 322.8 314.4 322.0" stroke="#b491f5"/>
<path d="M314.4 322.0 317.6 321.1 320.7 320.3 323.9 319.6" stroke="#b492f5"/>
<path d="M323.9 319.6 327.1 318.8 330.2 318.1 333.4 317.3" stroke="#b493f5"/>
<path d="M333.4 317.3 336.5 316.6 339.6 315.9 342.7 315.3 343.7 315.1" stroke="#b494f5"/>
<path d="M343.7 315.1 346.8 314.4 349.9 313.8 352.9 313.2" stroke="#b495f4"/>
<path d="M352.9 313.2 356.0 312.6 359.0 312.0 362.0 311.5 363.0 311.3" stroke="#b496f4"/>
<path d="M363.0 311.3 366.0 310.8 368.9 310.3 371.9 309.8 372.8 309.6" stroke="#b397f4"/>
<path d="M372.8 309.6 375.8 309.1 378.7 308.7 381.6 308.2 383.5 307.9" stroke="#b398f4"/>
<path d="M383.5 307.9 386.3 307.5 389.2 307.1 392.0 306.8 392.9 306.6" stroke="#b398f3"/>
<path d="M392.9 306.6 395.7 306.3 398.5 305.9 401.2 305.6 403.0 305.4" stroke="#b399f3"/>
<path d="M403.0 305.4 405.8 305.1 408.5 304.8 411.1 304.5 412.9 304.3" stroke="#b39af3"/>
<path d="M412.9 304.3 415.5 304.1 418.2 303.8 420.8 303.6 422.5 303.5" stroke="#b39cf3"/>
<path d="M422.5 303.5 425.9 303.2 429.2 302.9 432.6 302.7" stroke="#b29ef2"/>
<path d="M432.6 302.7 435.8 302.5 439.1 302.3 442.3 302.2 443.1 302.1" stroke="#b29ff2"/>
<path d="M443.1 302.1 445.4 302.0 447.8 302.0 450.1 301.9 452.7 301.8" stroke="#b1a1f1"/>
<path d="M452.7 301.8 455.3 301.8 457.9 301.7 460.5 301.7 463.0 301.7" stroke="#b1a2f1"/>
<path d="M463.0 301.7 465.5 301.6 468.0 301.6 470.5 301.6 473.0 301.5" stroke="#b1a4f1"/>
<path d="M473.0 301.5 475.4 301.5 477.8 301.5 480.3 301.5 482.6 301.5" stroke="#b0a5f0"/>
<path d="M482.6 301.5 486.2 301.4 489.7 301.4 493.1 301.4" stroke="#b0a6f0"/>
<path d="M493.1 301.4 496.5 301.4 499.9 301.4 503.2 301.4" stroke="#b0a7f0"/>
<path d="M503.2 301.4 506.5 301.5 509.7 301.5 512.9 301.5" stroke="#b0a8f0"/>
<path d="M512.9 301.5 516.0 301.6 519.2 301.6 522.2 301.7 523.3 301.7" stroke="#b0a9f0"/>
<path d="M523.3 301.7 526.3 301.7 529.3 301.8 532.2 301.9 533.2 301.9" stroke="#afaaef"/>
<path d="M533.2 301.9 536.1 302.0 539.0 302.0 541.8 302.1 543.6 302.2" stroke="#afaaef"/>
<path d="M543.6 302.2 546.4 302.3 549.1 302.4 551.8 302.5 553.6 302.6" stroke="#afabef"/>
<path d="M553.6 302.6 556.3 302.7 558.9 302.8 561.5 302.9 563.2 303.0" stroke="#afacef"/>
<path d="M563.2 303.0 566.5 303.2 569.8 303.4 573.1 303.6" stroke="#afadef"/>
<path d="M573.1 303.6 576.3 303.8 579.4 304.0 582.5 304.2 583.3 304.3" stroke="#afaeef"/>
<path d="M583.3 304.3 586.3 304.5 589.3 304.7 592.3 305.0 593.0 305.0" stroke="#afaeef"/>
<path d="M593.0 305.0 595.9 305.3 598.8 305.6 601.6 305.8 603.0 306.0" stroke="#aeafee"/>
<path d="M603.0 306.0 606.4 306.3 609.7 306.7 613.1 307.1" stroke="#aeb0ee"/>
<path d="M613.1 307.1 616.3 307.5 619.5 307.9 622.7 308.3 623.3 308.4" stroke="#aeb1ee"/>
<path d="M623.3 308.4 626.4 308.8 629.4 309.2 632.4 309.7 633.0 309.8" stroke="#aeb1ee"/>
<path d="M633.0 309.8 636.0 310.2 638.9 310.7 641.7 311.2 642.9 311.3" stroke="#aeb2ee"/>
<path d="M642.9 311.3 646.3 311.9 649.6 312.5 652.9 313.1" stroke="#aeb3ee"/>
<path d="M652.9 313.1 656.2 313.8 659.5 314.4 662.7 315.0" stroke="#adb4ed"/>
<path d="M662.7 315.0 665.9 315.7 669.0 316.4 672.2 317.0 672.7 317.1" stroke="#adb6ed"/>
<path d="M672.7 317.1 675.9 317.8 679.0 318.5 682.1 319.2" stroke="#adb7ec"/>
<path d="M682.1 319.2 685.3 319.9 688.4 320.7 691.6 321.4 692.1 321.5" stroke="#acb8ec"/>
<path d="M692.1 321.5 695.3 322.2 698.5 323.0 701.7 323.7" stroke="#acb9eb"/>
<path d="M701.7 323.7 704.9 324.5 708.2 325.2 711.5 326.0" stroke="#acbaeb"/>
<path d="M711.5 326.0 714.8 326.8 718.2 327.5 721.6 328.3" stroke="#abbceb"/>
<path d="M721.6 328.3 724.5 329.0 727.5 329.6 730.4 330.3 731.0 330.4" stroke="#abbdea"/>
<path d="M731.0 330.4 734.1 331.1 737.1 331.7 740.3 332.4 741.2 332.6" stroke="#abbeea"/>
<path d="M741.2 332.6 743.9 333.2 746.6 333.8 749.3 334.4 751.0 334.8" stroke="#aabfe9"/>
<path d="M751.0 334.8 753.7 335.4 756.3 336.0 758.9 336.6 760.6 337.0" stroke="#aac0e9"/>
<path d="M760.6 337.0 764.0 337.9 767.4 338.7 770.7 339.6" stroke="#aac1e8"/>
<path d="M770.7 339.6 774.0 340.4 777.3 341.3 780.5 342.2" stroke="#a9c3e8"/>
<path d="M780.5 342.2 783.8 343.1 786.9 344.0 790.1 344.9" stroke="#a9c4e8"/>
<path d="M790.1 344.9 793.2 345.7 796.3 346.6 799.4 347.6" stroke="#a9c5e7"/>
<path d="M799.4 347.6 802.4 348.5 805.5 349.4 808.5 350.3 809.2 350.5" stroke="#a9c6e7"/>
<path d="M809.2 350.5 812.2 351.4 815.2 352.3 818.1 353.2 818.8 353.5" stroke="#a8c7e6"/>
<path d="M818.8 353.5 821.8 354.4 824.7 355.3 827.6 356.2 828.3 356.4" stroke="#a8c8e6"/>
<path d="M828.3 356.4 831.2 357.3 834.0 358.2 836.9 359.1 837.6 359.4" stroke="#a8c9e5"/>
<path d="M837.6 359.4 840.4 360.3 843.2 361.1 846.1 362.0 847.5 362.5" stroke="#a8cbe5"/>
<path d="M847.5 362.5 850.3 363.4 853.1 364.2 855.9 365.1 857.3 365.5" stroke="#a7cde4"/>
<path d="M857.3 365.5 860.1 366.4 862.9 367.2 865.6 368.1 866.3 368.3" stroke="#a7cee3"/>
<path d="M866.3 368.3 869.1 369.1 871.9 369.9 874.7 370.7 876.1 371.1" stroke="#a7d0e2"/>
<path d="M876.1 371.1 878.9 371.9 881.7 372.7 884.5 373.5 886.0 373.9" stroke="#a7d2e2"/>
<path d="M886.0 373.9 888.8 374.6 891.6 375.4 894.5 376.1 895.9 376.5" stroke="#a7d4e1"/>
<path d="M895.9 376.5 898.7 377.2 901.6 377.9 904.5 378.5 905.2 378.7" stroke="#a6d6e0"/>
<path d="M905.2 378.7 908.1 379.4 911.1 380.0 914.0 380.6 915.5 381.0" stroke="#a6d8df"/>
<path d="M915.5 381.0 918.5 381.6 921.4 382.1 924.5 382.7 925.2 382.8" stroke="#a6dade"/>
<path d="M925.2 382.8 928.2 383.4 931.3 383.9 934.4 384.4 935.2 384.5" stroke="#a6dbde"/>
<path d="M935.2 384.5 938.3 385.0 941.4 385.5 944.6 385.9" stroke="#a6dcdd"/>
<path d="M944.6 385.9 947.8 386.3 951.0 386.7 954.3 387.1 955.1 387.2" stroke="#a6dddd"/>
<path d="M955.1 387.2 958.4 387.5 961.7 387.8 965.1 388.1" stroke="#a6dfdd"/>
<path d="M965.1 388.1 967.7 388.3 970.2 388.5 972.8 388.7 974.6 388.8" stroke="#a6e0dc"/>
<path d="M974.6 388.8 978.1 389.0 981.6 389.2 985.2 389.3" stroke="#a6e1dc"/>
<path d="M985.2 389.3 987.9 389.4 990.7 389.5 993.4 389.5 995.3 389.5" stroke="#a6e2dc"/>
<path d="M995.3 389.5 998.1 389.6 1000.9 389.6 1003.8 389.6 1004.8 389.6" stroke="#a6e4db"/>
<path d="M1004.8 389.6 1007.7 389.5 1010.6 389.5 1013.5 389.4 1015.5 389.4" stroke="#a6e5db"/>
<path d="M1015.5 389.4 1018.5 389.3 1021.5 389.2 1024.6 389.1 1025.6 389.0" stroke="#a6e7da"/>
<path d="M1025.6 389.0 1028.7 388.9 1031.8 388.7 1035.0 388.5" stroke="#a6e8da"/>
<path d="M1035.0 388.5 1038.2 388.3 1041.4 388.1 1044.6 387.8 1045.7 387.7" stroke="#a7e9da"/>
<path d="M1045.7 387.7 1049.0 387.4 1052.3 387.2 1055.7 386.8" stroke="#a8e9da"/>
<path d="M1055.7 386.8 1057.9 386.6 1060.2 386.4 1062.5 386.1 1064.8 385.9" stroke="#a9eadb"/>
<path d="M1064.8 385.9 1068.1 385.5 1071.1 385.1 1074.1 384.7 1075.1 384.5" stroke="#aaeadb"/>
<path d="M1075.1 384.5 1078.1 384.0 1081.1 383.5 1084.1 382.9 1085.1 382.7" stroke="#abebdb"/>
<path d="M1085.1 382.7 1088.1 382.1 1091.0 381.5 1094.0 380.8 1095.0 380.5" stroke="#acebdb"/>
<path d="M1095.0 380.5 1097.9 379.8 1100.8 379.0 1103.8 378.2 1104.7 377.9" stroke="#adecdb"/>
<path d="M1104.7 377.9 1107.7 377.0 1110.6 376.1 1113.5 375.1 1114.4 374.8" stroke="#aeeddc"/>
<path d="M1114.4 374.8 1117.3 373.8 1120.2 372.7 1123.1 371.6" stroke="#afeddc"/>
<path d="M1123.1 371.6 1125.9 370.5 1128.8 369.3 1131.6 368.1 1132.5 367.7" stroke="#b0eedc"/>
<path d="M1132.5 367.7 1135.3 366.4 1138.2 365.1 1141.0 363.7 1141.9 363.3" stroke="#b2eedd"/>
<path d="M1141.9 363.3 1144.7 361.9 1147.4 360.4 1150.2 359.0 1151.1 358.4" stroke="#b4efdd"/>
<path d="M1151.1 358.4 1153.8 356.9 1156.6 355.3 1159.3 353.7" stroke="#b5efde"/>
<path d="M1159.3 353.7 1162.0 352.1 1164.7 350.4 1167.3 348.6 1168.2 348.0" stroke="#b8f0df"/>
<path d="M1168.2 348.0 1170.9 346.2 1173.5 344.4 1176.2 342.5" stroke="#b9f0e0"/>
<path d="M1176.2 342.5 1178.8 340.6 1181.4 338.6 1183.9 336.6" stroke="#bbf1e1"/>
<path d="M1183.9 336.6 1186.5 334.6 1189.1 332.5 1191.6 330.4" stroke="#bdf1e1"/>
<path d="M1191.6 330.4 1194.1 328.2 1196.6 326.0 1199.1 323.8" stroke="#bff2e2"/>
<path d="M1199.1 323.8 1201.6 321.5 1204.0 319.2 1206.5 316.8" stroke="#c1f2e3"/>
<path d="M1206.5 316.8 1208.9 314.4 1211.3 312.0 1213.7 309.5" stroke="#c3f3e4"/>
<path d="M1213.7 309.5 1216.0 306.9 1218.4 304.4 1220.7 301.7" stroke="#c5f3e4"/>
<path d="M1220.7 301.7 1222.3 300.0 1223.8 298.2 1225.3 296.4 1226.8 294.6" stroke="#c6f3e5"/>
<path d="M1226.8 294.6 1229.1 291.8 1231.3 289.0 1233.6 286.1" stroke="#c7f4e5"/>
<path d="M1233.6 286.1 1235.0 284.2 1236.5 282.3 1237.9 280.3 1239.4 278.3" stroke="#c8f4e6"/>
<path d="M1239.4 278.3 1240.8 276.3 1242.2 274.3 1243.7 272.3 1245.1 270.2" stroke="#c9f4e6"/>
<path d="M1245.1 270.2 1246.5 268.1 1247.8 266.0 1249.2 263.9 1250.6 261.8" stroke="#caf4e6"/>
<path d="M1250.6 261.8 1251.9 259.7 1253.3 257.5 1254.6 255.3 1256.0 253.1" stroke="#cbf4e7"/>
<path d="M1256.0 253.1 1257.3 250.9 1258.6 248.6 1259.9 246.4 1261.2 244.1" stroke="#ccf5e7"/>
<path d="M1261.2 244.1 1262.4 241.8 1263.7 239.5 1265.0 237.2 1265.6 236.0" stroke="#cdf5e8"/>
<path d="M1265.6 236.0 1266.8 233.6 1268.1 231.2 1269.3 228.8 1270.5 226.4" stroke="#cef5e8"/>
<path d="M1270.5 226.4 1271.7 224.0 1272.9 221.5 1274.1 219.0 1274.7 217.8" stroke="#cef5e8"/>
<path d="M1274.7 217.8 1275.8 215.3 1277.0 212.8 1278.1 210.2 1278.7 208.9" stroke="#cff5e9"/>
<path d="M1278.7 208.9 1279.8 206.4 1280.9 203.8 1282.0 201.2 1282.6 199.9" stroke="#d0f6e9"/>
<path d="M23.9 556.7 26.7 553.6 29.5 550.4 32.3 547.3" stroke="#fefeff"/>
<path d="M32.3 547.3 35.1 544.2 37.9 541.0" stroke="#fcfdff"/>
<path d="M37.9 541.0 40.7 537.9 43.5 534.7" stroke="#fbfcff"/>
<path d="M43.5 534.7 46.3 531.6 49.1 528.5 51.9 525.3" stroke="#fafbff"/>
<path d="M51.9 525.3 54.7 522.2 56.0 520.7 57.0 519.5" stroke="#f7f9ff"/>
<path d="M57.0 519.5 59.1 517.2 61.2 514.9 63.2 512.6 64.3 511.5" stroke="#f6f8fe"/>
<path d="M64.3 511.5 66.4 509.3 68.5 507.0 70.6 504.8" stroke="#f3f6fe"/>
<path d="M70.6 504.8 72.7 502.6 74.8 500.4 76.9 498.3 78.0 497.2" stroke="#f1f4fe"/>
<path d="M78.0 497.2 80.1 495.1 82.2 492.9 84.4 490.8" stroke="#eff2fe"/>
<path d="M84.4 490.8 86.5 488.8 88.7 486.7 90.8 484.6 91.9 483.6" stroke="#edf0fe"/>
<path d="M91.9 483.6 94.1 481.6 96.3 479.6 98.4 477.6 99.5 476.6" stroke="#ebedfe"/>
<path d="M99.5 476.6 101.7 474.7 103.9 472.7 106.1 470.8 107.2 469.8" stroke="#e8ebfd"/>
<path d="M107.2 469.8 109.4 467.9 111.6 466.0 113.8 464.1 114.9 463.2" stroke="#e6e8fd"/>
<path d="M114.9 463.2 117.1 461.4 119.3 459.5 121.6 457.7 122.7 456.8" stroke="#e3e5fd"/>
<path d="M122.7 456.8 124.9 455.0 127.1 453.2 129.4 451.5 130.5 450.6" stroke="#e1e2fd"/>
<path d="M130.5 450.6 132.7 448.9 135.0 447.2 137.2 445.4 138.3 444.6" stroke="#dfdffc"/>
<path d="M138.3 444.6 140.6 442.9 142.8 441.3 145.1 439.6 146.2 438.8" stroke="#dcdbfc"/>
<path d="M146.2 438.8 148.5 437.2 150.8 435.5 153.0 433.9 154.2 433.2" stroke="#dad8fc"/>
<path d="M154.2 433.2 156.4 431.6 158.7 430.0 161.0 428.5 162.1 427.7" stroke="#d7d4fc"/>
<path d="M162.1 427.7 164.4 426.2 166.7 424.7 169.0 423.2 171.2 421.7" stroke="#d4d0fb"/>
<path d="M171.2 421.7 173.5 420.3 175.8 418.8 178.1 417.4 179.3 416.7" stroke="#d2ccfb"/>
<path d="M179.3 416.7 181.5 415.2 183.8 413.8 186.1 412.5 188.4 411.1" stroke="#cfc7fb"/>
<path d="M188.4 411.1 190.7 409.7 193.0 408.4 195.3 407.1 196.5 406.4" stroke="#ccc3fb"/>
<path d="M196.5 406.4 198.8 405.1 201.1 403.8 203.4 402.5 205.7 401.3" stroke="#cabefa"/>
<path d="M205.7 401.3 208.0 400.0 210.3 398.8 212.6 397.6 214.9 396.3" stroke="#c7b9fa"/>
<path d="M214.9 396.3 217.2 395.1 219.5 394.0 221.8 392.8 222.9 392.2" stroke="#c5b5fa"/>
<path d="M222.9 392.2 225.2 391.1 227.5 389.9 229.8 388.8 232.1 387.7" stroke="#c2b0f9"/>
<path d="M232.1 387.7 234.4 386.6 236.7 385.5 239.0 384.4 241.3 383.3" stroke="#bfaaf9"/>
<path d="M241.3 383.3 243.6 382.3 245.9 381.3 248.1 380.2 250.4 379.2" stroke="#bca5f9"/>
<path d="M250.4 379.2 252.7 378.2 255.0 377.2 257.3 376.2 259.6 375.3" stroke="#ba9ff8"/>
<path d="M259.6 375.3 261.8 374.3 264.1 373.4 266.4 372.5 268.6 371.5" stroke="#b79af8"/>
<path d="M268.6 371.5 272.0 370.2 275.4 368.9 278.8 367.6" stroke="#b594f7"/>
<path d="M278.8 367.6 281.1 366.7 283.3 365.9 285.6 365.0 287.8 364.2" stroke="#b492f7"/>
<path d="M287.8 364.2 290.1 363.4 292.3 362.6 294.5 361.8 296.8 361.0" stroke="#b491f7"/>
<path d="M296.8 361.0 300.1 359.9 303.4 358.8 306.8 357.7" stroke="#b491f6"/>
<path d="M306.8 357.7 310.1 356.6 313.4 355.5 316.7 354.5" stroke="#b490f6"/>
<path d="M316.7 354.5 318.9 353.8 321.1 353.2 323.2 352.5 325.4 351.9" stroke="#b48ff6"/>
<path d="M325.4 351.9 328.7 350.9 331.9 350.0 335.1 349.1" stroke="#b490f5"/>
<path d="M335.1 349.1 338.3 348.2 341.6 347.4 344.7 346.5" stroke="#b491f5"/>
<path d="M344.7 346.5 347.9 345.7 351.1 344.9 354.2 344.2 355.3 343.9" stroke="#b492f5"/>
<path d="M355.3 343.9 358.4 343.2 361.5 342.4 364.6 341.7" stroke="#b493f5"/>
<path d="M364.6 341.7 367.7 341.0 370.8 340.4 373.8 339.7 374.9 339.5" stroke="#b494f4"/>
<path d="M374.9 339.5 377.9 338.9 380.9 338.3 383.9 337.7" stroke="#b495f4"/>
<path d="M383.9 337.7 386.9 337.1 389.8 336.6 392.8 336.0 393.8 335.8" stroke="#b396f4"/>
<path d="M393.8 335.8 396.7 335.3 399.6 334.8 402.5 334.3 404.4 334.0" stroke="#b397f4"/>
<path d="M404.4 334.0 407.2 333.6 410.1 333.1 412.9 332.7 413.8 332.6" stroke="#b398f3"/>
<path d="M413.8 332.6 416.6 332.2 419.3 331.8 422.1 331.4 423.9 331.2" stroke="#b399f3"/>
<path d="M423.9 331.2 426.6 330.9 429.3 330.5 431.9 330.2 433.7 330.0" stroke="#b39af3"/>
<path d="M433.7 330.0 437.2 329.6 440.6 329.2 444.0 328.9" stroke="#b39bf3"/>
<path d="M444.0 328.9 447.3 328.6 450.7 328.3 453.9 328.0" stroke="#b29df2"/>
<path d="M453.9 328.0 457.1 327.8 460.3 327.5 463.4 327.3" stroke="#b29ef2"/>
<path d="M463.4 327.3 466.5 327.1 469.5 327.0 472.5 326.8 474.5 326.7" stroke="#b1a0f1"/>
<path d="M474.5 326.7 477.0 326.6 479.4 326.6 481.9 326.5 484.3 326.4" stroke="#b1a2f1"/>
<path d="M484.3 326.4 486.7 326.4 489.1 326.3 491.4 326.2 493.8 326.2" stroke="#b1a3f1"/>
<path d="M493.8 326.2 497.3 326.1 500.7 326.0 504.1 326.0" stroke="#b0a4f0"/>
<path d="M504.1 326.0 507.4 325.9 510.7 325.9 514.0 325.8" stroke="#b0a6f0"/>
<path d="M514.0 325.8 517.2 325.8 520.4 325.7 523.6 325.7" stroke="#b0a7f0"/>
<path d="M523.6 325.7 526.7 325.7 529.8 325.7 532.8 325.7 533.8 325.7" stroke="#b0a8f0"/>
<path d="M533.8 325.7 536.8 325.7 539.7 325.7 542.6 325.7 544.5 325.7" stroke="#b0a8f0"/>
<path d="M544.5 325.7 547.4 325.7 550.2 325.7 553.0 325.8 553.9 325.8" stroke="#afa9ef"/>
<path d="M553.9 325.8 556.6 325.8 559.3 325.9 562.0 325.9 563.8 326.0" stroke="#afaaef"/>
<path d="M563.8 326.0 567.2 326.1 570.7 326.1 574.0 326.2" stroke="#afabef"/>
<path d="M574.0 326.2 577.3 326.4 580.6 326.5 583.8 326.6" stroke="#afacef"/>
<path d="M583.8 326.6 587.0 326.7 590.1 326.9 593.1 327.1 593.9 327.1" stroke="#afadef"/>
<path d="M593.9 327.1 596.9 327.3 599.8 327.4 602.7 327.6 604.2 327.7" stroke="#afadef"/>
<path d="M604.2 327.7 607.0 327.9 609.8 328.1 612.6 328.3 613.9 328.4" stroke="#afaeef"/>
<path d="M613.9 328.4 617.3 328.7 620.6 329.0 623.9 329.3" stroke="#afafef"/>
<path d="M623.9 329.3 627.1 329.6 630.2 330.0 633.3 330.3 633.9 330.4" stroke="#aeb0ee"/>
<path d="M633.9 330.4 636.9 330.7 639.9 331.1 642.9 331.5 644.1 331.6" stroke="#aeb0ee"/>
<path d="M644.1 331.6 647.0 332.0 649.8 332.4 652.6 332.8 653.8 333.0" stroke="#aeb1ee"/>
<path d="M653.8 333.0 657.1 333.5 660.4 334.0 663.6 334.5" stroke="#aeb2ee"/>
<path d="M663.6 334.5 666.8 335.1 670.0 335.6 673.2 336.2 673.7 336.3" stroke="#aeb3ee"/>
<path d="M673.7 336.3 676.8 336.9 679.9 337.4 683.0 338.0 683.5 338.1" stroke="#adb4ed"/>
<path d="M683.5 338.1 686.6 338.7 689.7 339.4 692.7 340.0 693.2 340.1" stroke="#adb5ed"/>
<path d="M693.2 340.1 696.3 340.7 699.4 341.4 702.5 342.0 703.5 342.2" stroke="#adb7ec"/>
<path d="M703.5 342.2 706.6 342.9 709.7 343.6 712.8 344.2" stroke="#acb8ec"/>
<path d="M712.8 344.2 716.0 344.9 719.2 345.6 722.4 346.3 723.0 346.4" stroke="#acb9ec"/>
<path d="M723.0 346.4 726.2 347.1 729.6 347.7 732.9 348.4" stroke="#acbaeb"/>
<path d="M732.9 348.4 735.8 349.0 738.6 349.6 741.5 350.2 742.7 350.4" stroke="#abbbeb"/>
<path d="M742.7 350.4 745.7 351.0 748.7 351.6 751.8 352.2 752.4 352.3" stroke="#abbdea"/>
<path d="M752.4 352.3 755.0 352.8 757.7 353.4 760.3 353.9 762.1 354.3" stroke="#abbeea"/>
<path d="M762.1 354.3 765.5 355.0 769.0 355.7 772.3 356.5" stroke="#aabfe9"/>
<path d="M772.3 356.5 775.7 357.2 779.0 358.0 782.3 358.8" stroke="#aac0e9"/>
<path d="M782.3 358.8 785.6 359.6 788.8 360.3 792.0 361.1" stroke="#aac1e8"/>
<path d="M792.0 361.1 795.2 361.9 798.3 362.7 801.4 363.5" stroke="#aac2e8"/>
<path d="M801.4 363.5 804.5 364.4 807.6 365.2 810.6 366.0 811.4 366.2" stroke="#a9c4e8"/>
<path d="M811.4 366.2 814.4 367.0 817.4 367.9 820.4 368.7 821.1 368.9" stroke="#a9c5e7"/>
<path d="M821.1 368.9 824.1 369.7 827.0 370.5 830.0 371.4 830.7 371.6" stroke="#a9c6e7"/>
<path d="M830.7 371.6 833.6 372.4 836.5 373.2 839.4 374.1 840.1 374.3" stroke="#a8c7e6"/>
<path d="M840.1 374.3 842.9 375.1 845.8 375.9 848.6 376.7 850.0 377.1" stroke="#a8c8e6"/>
<path d="M850.0 377.1 852.9 377.9 855.7 378.7 858.5 379.5 859.2 379.7" stroke="#a8cae5"/>
<path d="M859.2 379.7 862.0 380.5 864.8 381.3 867.6 382.1 869.0 382.5" stroke="#a8cbe5"/>
<path d="M869.0 382.5 871.8 383.2 874.6 384.0 877.4 384.8 878.8 385.1" stroke="#a7cde4"/>
<path d="M878.8 385.1 881.6 385.9 884.4 386.6 887.2 387.3 888.6 387.7" stroke="#a7cfe3"/>
<path d="M888.6 387.7 891.4 388.4 894.2 389.1 897.0 389.7 898.4 390.1" stroke="#a7d1e2"/>
<path d="M898.4 390.1 901.2 390.7 904.1 391.4 906.9 392.0 908.4 392.3" stroke="#a7d3e1"/>
<path d="M908.4 392.3 911.2 392.9 914.1 393.5 917.0 394.1 917.7 394.2" stroke="#a7d5e0"/>
<path d="M917.7 394.2 920.6 394.8 923.6 395.3 926.5 395.9 928.0 396.1" stroke="#a6d7df"/>
<path d="M928.0 396.1 931.0 396.6 934.0 397.1 937.0 397.5 937.7 397.7" stroke="#a6d9df"/>
<path d="M937.7 397.7 940.8 398.1 943.8 398.5 946.9 398.9 947.7 399.0" stroke="#a6dbde"/>
<path d="M947.7 399.0 950.8 399.4 953.9 399.7 957.1 400.0 957.9 400.1" stroke="#a6dcdd"/>
<path d="M957.9 400.1 961.1 400.4 964.3 400.7 967.6 400.9" stroke="#a6dddd"/>
<path d="M967.6 400.9 970.9 401.2 974.2 401.4 977.5 401.5" stroke="#a6dedd"/>
<path d="M977.5 401.5 980.9 401.7 984.4 401.8 987.8 401.9" stroke="#a6e0dc"/>
<path d="M987.8 401.9 990.4 402.0 993.1 402.0 995.7 402.0 997.5 402.0" stroke="#a6e1dc"/>
<path d="M997.5 402.0 1000.2 402.0 1002.9 402.0 1005.7 402.0 1007.5 401.9" stroke="#a6e2dc"/>
<path d="M1007.5 401.9 1010.3 401.8 1013.1 401.8 1015.9 401.7 1017.8 401.6" stroke="#a6e4db"/>
<path d="M1017.8 401.6 1020.7 401.5 1023.6 401.3 1026.5 401.1 1027.5 401.1" stroke="#a6e5db"/>
<path d="M1027.5 401.1 1030.5 400.9 1033.4 400.7 1036.5 400.5 1037.5 400.4" stroke="#a6e7da"/>
<path d="M1037.5 400.4 1040.5 400.1 1043.6 399.8 1046.7 399.6 1047.7 399.4" stroke="#a6e8da"/>
<path d="M1047.7 399.4 1050.9 399.1 1054.1 398.8 1057.3 398.4 1058.4 398.3" stroke="#a7e9da"/>
<path d="M1058.4 398.3 1061.6 397.9 1064.9 397.5 1068.2 397.1" stroke="#a8e9da"/>
<path d="M1068.2 397.1 1071.5 396.6 1074.9 396.2 1078.0 395.7" stroke="#a9eadb"/>
<path d="M1078.0 395.7 1081.0 395.2 1084.0 394.6 1087.0 394.0 1088.0 393.8" stroke="#aaeadb"/>
<path d="M1088.0 393.8 1091.0 393.2 1094.0 392.5 1096.9 391.7" stroke="#abebdb"/>
<path d="M1096.9 391.7 1099.9 391.0 1102.8 390.2 1105.7 389.3 1106.7 389.0" stroke="#acecdb"/>
<path d="M1106.7 389.0 1109.6 388.1 1112.5 387.2 1115.4 386.2 1116.4 385.8" stroke="#adecdb"/>
<path d="M1116.4 385.8 1119.3 384.8 1122.1 383.7 1125.0 382.6 1126.0 382.2" stroke="#aeeddc"/>
<path d="M1126.0 382.2 1128.8 381.0 1131.6 379.8 1134.5 378.6 1135.4 378.1" stroke="#afeedc"/>
<path d="M1135.4 378.1 1138.2 376.8 1141.0 375.5 1143.8 374.1" stroke="#b0eedc"/>
<path d="M1143.8 374.1 1146.5 372.7 1149.3 371.2 1152.0 369.7 1153.0 369.2" stroke="#b2efdd"/>
<path d="M1153.0 369.2 1155.7 367.6 1158.4 366.0 1161.1 364.4 1162.0 363.8" stroke="#b4efde"/>
<path d="M1162.0 363.8 1164.7 362.1 1167.3 360.4 1170.0 358.6" stroke="#b6f0df"/>
<path d="M1170.0 358.6 1172.6 356.7 1175.3 354.9 1177.9 353.0 1178.7 352.3" stroke="#b8f0df"/>
<path d="M1178.7 352.3 1181.3 350.4 1183.9 348.4 1186.5 346.3" stroke="#baf1e0"/>
<path d="M1186.5 346.3 1189.0 344.3 1191.5 342.1 1194.0 340.0" stroke="#bcf1e1"/>
<path d="M1194.0 340.0 1196.5 337.8 1199.0 335.5 1201.5 333.2" stroke="#bef2e2"/>
<path d="M1201.5 333.2 1203.9 330.9 1206.3 328.6 1208.7 326.2" stroke="#c0f2e3"/>
<path d="M1208.7 326.2 1211.1 323.7 1213.5 321.2 1215.9 318.7" stroke="#c2f3e3"/>
<path d="M1215.9 318.7 1217.4 317.0 1219.0 315.3 1220.5 313.5 1222.0 311.8" stroke="#c4f3e4"/>
<path d="M1222.0 311.8 1224.3 309.1 1226.6 306.4 1228.8 303.6" stroke="#c5f3e5"/>
<path d="M1228.8 303.6 1230.3 301.7 1231.8 299.9 1233.3 298.0 1234.7 296.0" stroke="#c6f3e5"/>
<path d="M1234.7 296.0 1236.2 294.1 1237.6 292.2 1239.1 290.2 1240.5 288.2" stroke="#c7f4e5"/>
<path d="M1240.5 288.2 1241.9 286.2 1243.3 284.2 1244.7 282.1 1246.1 280.1" stroke="#c8f4e6"/>
<path d="M1246.1 280.1 1247.5 278.0 1248.9 275.9 1250.2 273.8 1251.6 271.6" stroke="#c9f4e6"/>
<path d="M1251.6 271.6 1252.9 269.5 1254.2 267.3 1255.6 265.1 1256.9 262.9" stroke="#caf4e7"/>
<path d="M1256.9 262.9 1258.2 260.7 1259.5 258.4 1260.8 256.2 1262.0 253.9" stroke="#cbf5e7"/>
<path d="M1262.0 253.9 1263.3 251.6 1264.5 249.3 1265.8 246.9 1267.0 244.6" stroke="#ccf5e7"/>
<path d="M1267.0 244.6 1268.2 242.2 1269.5 239.8 1270.7 237.4 1271.3 236.2" stroke="#cdf5e8"/>
<path d="M1271.3 236.2 1272.4 233.8 1273.6 231.3 1274.8 228.8 1275.9 226.4" stroke="#cef5e8"/>
<path d="M1275.9 226.4 1277.1 223.8 1278.2 221.3 1279.3 218.8 1279.9 217.5" stroke="#cff5e9"/>
<path d="M1279.9 217.5 1281.0 214.9 1282.1 212.3 1283.2 209.7 1283.7 208.4" stroke="#d0f6e9"/>
<path d="M1283.7 208.4 1284.8 205.8 1285.8 203.1 1286.9 200.4 1287.4 199.1" stroke="#d1f6e9"/>
<path d="M53.1 594.1 55.7 590.8 58.4 587.6 61.0 584.3" stroke="#fefeff"/>
<path d="M61.0 584.3 63.6 581.0 66.2 577.7" stroke="#fcfdff"/>
<path d="M66.2 577.7 68.9 574.4 71.5 571.1" stroke="#fbfcff"/>
<path d="M71.5 571.1 74.1 567.9 76.7 564.6 79.3 561.3" stroke="#fafbff"/>
<path d="M79.3 561.3 82.0 558.0 83.2 556.4 84.2 555.2" stroke="#f7f9ff"/>
<path d="M84.2 555.2 86.2 552.7 88.2 550.2 90.2 547.8" stroke="#f6f8fe"/>
<path d="M90.2 547.8 92.2 545.4 94.2 542.9 96.3 540.6 97.3 539.4" stroke="#f4f6fe"/>
<path d="M97.3 539.4 99.3 537.0 101.4 534.7 103.4 532.4" stroke="#f1f4fe"/>
<path d="M103.4 532.4 105.5 530.1 107.6 527.8 109.7 525.5 110.7 524.4" stroke="#eff2fe"/>
<path d="M110.7 524.4 112.8 522.2 114.9 519.9 117.0 517.8" stroke="#edf0fe"/>
<path d="M117.0 517.8 119.1 515.6 121.2 513.4 123.3 511.3 124.4 510.2" stroke="#ebeefe"/>
<path d="M124.4 510.2 126.5 508.1 128.7 506.0 130.8 504.0 131.9 502.9" stroke="#e8ebfd"/>
<path d="M131.9 502.9 134.0 500.9 136.2 498.8 138.4 496.8 139.4 495.8" stroke="#e6e8fd"/>
<path d="M139.4 495.8 141.6 493.9 143.8 491.9 146.0 490.0" stroke="#e4e5fd"/>
<path d="M146.0 490.0 148.2 488.0 150.4 486.1 152.5 484.2 153.6 483.3" stroke="#e1e2fd"/>
<path d="M153.6 483.3 155.8 481.4 158.1 479.6 160.3 477.7 161.4 476.8" stroke="#dfdffc"/>
<path d="M161.4 476.8 163.6 475.0 165.8 473.2 168.0 471.5 169.2 470.6" stroke="#dcdbfc"/>
<path d="M169.2 470.6 171.4 468.8 173.6 467.1 175.9 465.4 177.0 464.5" stroke="#dad8fc"/>
<path d="M177.0 464.5 179.2 462.9 181.5 461.2 183.7 459.5 186.0 457.9" stroke="#d7d4fc"/>
<path d="M186.0 457.9 188.2 456.3 190.5 454.7 192.8 453.1 193.9 452.3" stroke="#d4d0fb"/>
<path d="M193.9 452.3 196.2 450.7 198.4 449.2 200.7 447.6 201.8 446.9" stroke="#d2ccfb"/>
<path d="M201.8 446.9 204.1 445.4 206.4 443.9 208.7 442.4 210.9 440.9" stroke="#cfc7fb"/>
<path d="M210.9 440.9 213.2 439.5 215.5 438.1 217.8 436.6 218.9 435.9" stroke="#cdc3fb"/>
<path d="M218.9 435.9 221.2 434.5 223.5 433.2 225.8 431.8 228.1 430.5" stroke="#cabefa"/>
<path d="M228.1 430.5 230.4 429.1 232.7 427.8 234.9 426.5 236.1 425.9" stroke="#c7bafa"/>
<path d="M236.1 425.9 238.4 424.6 240.7 423.3 243.0 422.0 245.3 420.8" stroke="#c5b4fa"/>
<path d="M245.3 420.8 247.6 419.6 249.9 418.4 252.1 417.2 254.4 416.0" stroke="#c2aff9"/>
<path d="M254.4 416.0 256.7 414.8 259.0 413.7 261.3 412.5 262.5 412.0" stroke="#bfaaf9"/>
<path d="M262.5 412.0 264.7 410.8 267.0 409.7 269.3 408.6 271.6 407.6" stroke="#bda5f9"/>
<path d="M271.6 407.6 273.9 406.5 276.2 405.4 278.5 404.4 280.7 403.4" stroke="#ba9ff8"/>
<path d="M280.7 403.4 283.0 402.3 285.3 401.3 287.6 400.4 289.8 399.4" stroke="#b799f8"/>
<path d="M289.8 399.4 293.3 397.9 296.7 396.5 300.1 395.1" stroke="#b594f7"/>
<path d="M300.1 395.1 302.3 394.2 304.6 393.3 306.8 392.4 309.1 391.6" stroke="#b491f7"/>
<path d="M309.1 391.6 311.3 390.7 313.6 389.9 315.8 389.0 318.0 388.2" stroke="#b491f7"/>
<path d="M318.0 388.2 321.4 387.0 324.7 385.8 328.1 384.6" stroke="#b490f6"/>
<path d="M328.1 384.6 330.3 383.9 332.5 383.1 334.7 382.4 336.9 381.7" stroke="#b48ff6"/>
<path d="M336.9 381.7 340.2 380.6 343.5 379.5 346.8 378.5" stroke="#b48ff6"/>
<path d="M346.8 378.5 350.0 377.5 353.3 376.5 356.5 375.6" stroke="#b490f6"/>
<path d="M356.5 375.6 359.7 374.6 363.0 373.7 366.2 372.8" stroke="#b491f5"/>
<path d="M366.2 372.8 369.4 372.0 372.5 371.1 375.7 370.3" stroke="#b492f5"/>
<path d="M375.7 370.3 378.8 369.5 382.0 368.7 385.1 368.0" stroke="#b493f5"/>
<path d="M385.1 368.0 388.2 367.2 391.2 366.5 394.3 365.8 395.3 365.6" stroke="#b494f5"/>
<path d="M395.3 365.6 398.4 364.9 401.4 364.3 404.4 363.6 405.4 363.4" stroke="#b495f4"/>
<path d="M405.4 363.4 408.4 362.8 411.3 362.2 414.3 361.7 415.3 361.5" stroke="#b496f4"/>
<path d="M415.3 361.5 418.2 360.9 421.1 360.4 423.9 359.9 424.9 359.7" stroke="#b397f4"/>
<path d="M424.9 359.7 427.7 359.2 430.6 358.7 433.4 358.3 434.3 358.1" stroke="#b398f4"/>
<path d="M434.3 358.1 437.1 357.7 439.8 357.3 442.6 356.9 444.4 356.6" stroke="#b399f3"/>
<path d="M444.4 356.6 447.1 356.2 449.7 355.8 452.4 355.5 454.1 355.3" stroke="#b399f3"/>
<path d="M454.1 355.3 457.6 354.8 461.0 354.4 464.4 354.0" stroke="#b39bf3"/>
<path d="M464.4 354.0 467.7 353.6 471.0 353.3 474.2 353.0" stroke="#b29cf2"/>
<path d="M474.2 353.0 477.4 352.7 480.5 352.4 483.5 352.1 484.3 352.1" stroke="#b29ef2"/>
<path d="M484.3 352.1 487.3 351.8 490.3 351.6 493.2 351.4 494.6 351.3" stroke="#b29ff2"/>
<path d="M494.6 351.3 497.2 351.1 500.7 351.0 504.2 350.8" stroke="#b1a1f1"/>
<path d="M504.2 350.8 507.6 350.7 511.0 350.6 514.3 350.4" stroke="#b1a2f1"/>
<path d="M514.3 350.4 517.6 350.3 520.9 350.2 524.1 350.1 525.2 350.1" stroke="#b0a4f0"/>
<path d="M525.2 350.1 528.3 350.0 531.5 349.9 534.6 349.8" stroke="#b0a5f0"/>
<path d="M534.6 349.8 537.6 349.7 540.6 349.7 543.6 349.6 544.6 349.6" stroke="#b0a7f0"/>
<path d="M544.6 349.6 547.5 349.5 550.4 349.5 553.3 349.4 555.2 349.4" stroke="#b0a7f0"/>
<path d="M555.2 349.4 558.0 349.4 560.7 349.3 563.5 349.3 564.4 349.3" stroke="#b0a8f0"/>
<path d="M564.4 349.3 568.0 349.3 571.5 349.3 575.0 349.3" stroke="#afa9ef"/>
<path d="M575.0 349.3 578.4 349.3 581.7 349.3 585.0 349.4" stroke="#afaaef"/>
<path d="M585.0 349.4 588.3 349.4 591.5 349.5 594.6 349.5" stroke="#afabef"/>
<path d="M594.6 349.5 597.7 349.6 600.8 349.7 603.8 349.8 604.5 349.8" stroke="#afacef"/>
<path d="M604.5 349.8 607.5 349.9 610.4 350.0 613.2 350.2 614.7 350.2" stroke="#afacef"/>
<path d="M614.7 350.2 618.1 350.4 621.6 350.6 624.9 350.8" stroke="#afadef"/>
<path d="M624.9 350.8 628.2 351.0 631.5 351.2 634.7 351.5" stroke="#afaeef"/>
<path d="M634.7 351.5 637.8 351.7 640.9 352.0 643.9 352.2 645.1 352.3" stroke="#afafef"/>
<path d="M645.1 352.3 648.1 352.6 651.0 352.9 653.9 353.2 655.1 353.3" stroke="#aeafee"/>
<path d="M655.1 353.3 657.9 353.7 660.7 354.0 663.5 354.3 664.6 354.5" stroke="#aeb0ee"/>
<path d="M664.6 354.5 667.8 354.9 671.1 355.3 674.2 355.8 674.8 355.9" stroke="#aeb1ee"/>
<path d="M674.8 355.9 677.9 356.3 681.0 356.8 684.1 357.3 684.6 357.4" stroke="#aeb2ee"/>
<path d="M684.6 357.4 687.7 357.9 690.7 358.4 693.7 358.9 694.7 359.1" stroke="#aeb3ee"/>
<path d="M694.7 359.1 697.7 359.6 700.7 360.1 703.7 360.7 704.7 360.9" stroke="#aeb4ed"/>
<path d="M704.7 360.9 707.7 361.4 710.7 362.0 713.7 362.6 714.2 362.7" stroke="#adb5ed"/>
<path d="M714.2 362.7 717.3 363.3 720.3 363.8 723.4 364.4 724.4 364.6" stroke="#adb6ec"/>
<path d="M724.4 364.6 727.5 365.2 730.6 365.8 733.8 366.4 734.3 366.5" stroke="#acb8ec"/>
<path d="M734.3 366.5 737.5 367.1 740.8 367.8 744.1 368.4" stroke="#acb9ec"/>
<path d="M744.1 368.4 746.8 368.9 749.6 369.4 752.5 369.9 753.6 370.1" stroke="#acbaeb"/>
<path d="M753.6 370.1 756.5 370.6 759.5 371.2 762.5 371.7 763.7 371.9" stroke="#abbbeb"/>
<path d="M763.7 371.9 766.9 372.5 770.4 373.1 773.8 373.7" stroke="#abbdea"/>
<path d="M773.8 373.7 777.2 374.4 780.6 375.0 783.9 375.7" stroke="#abbeea"/>
<path d="M783.9 375.7 787.2 376.4 790.5 377.1 793.7 377.8" stroke="#aabfe9"/>
<path d="M793.7 377.8 796.9 378.5 800.1 379.2 803.3 379.9" stroke="#aac0e9"/>
<path d="M803.3 379.9 806.4 380.6 809.5 381.3 812.6 382.1 813.4 382.2" stroke="#aac1e8"/>
<path d="M813.4 382.2 816.4 383.0 819.5 383.7 822.5 384.4" stroke="#a9c3e8"/>
<path d="M822.5 384.4 825.5 385.2 828.5 385.9 831.4 386.7 832.2 386.9" stroke="#a9c4e8"/>
<path d="M832.2 386.9 835.1 387.6 838.0 388.4 840.9 389.1 842.4 389.5" stroke="#a9c5e7"/>
<path d="M842.4 389.5 845.3 390.2 848.2 391.0 851.0 391.7 851.7 391.9" stroke="#a9c6e7"/>
<path d="M851.7 391.9 854.6 392.6 857.4 393.4 860.3 394.1 861.7 394.4" stroke="#a8c7e6"/>
<path d="M861.7 394.4 864.5 395.2 867.3 395.9 870.1 396.6 871.5 397.0" stroke="#a8c8e6"/>
<path d="M871.5 397.0 874.3 397.7 877.1 398.4 879.9 399.0 881.3 399.4" stroke="#a8cae5"/>
<path d="M881.3 399.4 884.1 400.1 886.9 400.7 889.7 401.4 891.1 401.7" stroke="#a8cce4"/>
<path d="M891.1 401.7 893.9 402.4 896.7 403.0 899.5 403.6 900.9 403.9" stroke="#a7cee3"/>
<path d="M900.9 403.9 903.7 404.5 906.5 405.1 909.3 405.7 910.8 406.0" stroke="#a7d0e2"/>
<path d="M910.8 406.0 913.6 406.6 916.4 407.1 919.3 407.6 920.7 407.9" stroke="#a7d2e2"/>
<path d="M920.7 407.9 923.6 408.4 926.5 408.9 929.4 409.4 930.1 409.5" stroke="#a7d4e1"/>
<path d="M930.1 409.5 933.0 409.9 935.9 410.4 938.9 410.8 940.4 411.0" stroke="#a6d6e0"/>
<path d="M940.4 411.0 943.3 411.4 946.3 411.8 949.3 412.1 950.1 412.2" stroke="#a6d8df"/>
<path d="M950.1 412.2 953.1 412.5 956.2 412.8 959.3 413.1 960.0 413.2" stroke="#a6dade"/>
<path d="M960.0 413.2 963.2 413.5 966.3 413.7 969.4 413.9 970.2 414.0" stroke="#a6dcde"/>
<path d="M970.2 414.0 973.4 414.1 976.7 414.3 979.9 414.4" stroke="#a6dddd"/>
<path d="M979.9 414.4 983.2 414.5 986.5 414.6 989.8 414.7 990.7 414.7" stroke="#a6dedd"/>
<path d="M990.7 414.7 993.2 414.7 995.7 414.7 998.3 414.7 1000.0 414.7" stroke="#a6e0dc"/>
<path d="M1000.0 414.7 1003.5 414.6 1007.0 414.6 1010.5 414.4" stroke="#a6e1dc"/>
<path d="M1010.5 414.4 1013.2 414.3 1015.9 414.2 1018.6 414.1 1020.5 414.0" stroke="#a6e3dc"/>
<path d="M1020.5 414.0 1023.2 413.8 1026.0 413.6 1028.8 413.4 1030.7 413.3" stroke="#a6e4db"/>
<path d="M1030.7 413.3 1033.5 413.1 1036.4 412.8 1039.3 412.5 1040.3 412.4" stroke="#a6e6db"/>
<path d="M1040.3 412.4 1043.2 412.1 1046.2 411.8 1049.1 411.5 1050.1 411.4" stroke="#a6e7da"/>
<path d="M1050.1 411.4 1053.2 411.0 1056.2 410.6 1059.3 410.2 1060.3 410.1" stroke="#a6e8da"/>
<path d="M1060.3 410.1 1063.4 409.7 1066.5 409.2 1069.7 408.7 1070.7 408.6" stroke="#a7e9da"/>
<path d="M1070.7 408.6 1073.9 408.1 1077.2 407.6 1080.4 407.0" stroke="#a8e9da"/>
<path d="M1080.4 407.0 1083.7 406.5 1086.8 405.9 1089.8 405.3" stroke="#a9eadb"/>
<path d="M1089.8 405.3 1092.8 404.6 1095.8 403.9 1098.8 403.1 1099.7 402.9" stroke="#aaebdb"/>
<path d="M1099.7 402.9 1102.7 402.1 1105.6 401.2 1108.6 400.4 1109.5 400.1" stroke="#abebdb"/>
<path d="M1109.5 400.1 1112.5 399.1 1115.4 398.1 1118.3 397.1 1119.2 396.8" stroke="#acecdb"/>
<path d="M1119.2 396.8 1122.1 395.7 1125.0 394.6 1127.8 393.4 1128.8 393.0" stroke="#adecdb"/>
<path d="M1128.8 393.0 1131.6 391.8 1134.5 390.6 1137.3 389.3" stroke="#aeeddc"/>
<path d="M1137.3 389.3 1140.1 388.0 1142.9 386.6 1145.7 385.2 1146.6 384.7" stroke="#b0eedc"/>
<path d="M1146.6 384.7 1149.3 383.2 1152.1 381.7 1154.8 380.2 1155.7 379.6" stroke="#b1eedd"/>
<path d="M1155.7 379.6 1158.5 378.0 1161.2 376.4 1163.8 374.7" stroke="#b3efdd"/>
<path d="M1163.8 374.7 1166.5 373.0 1169.2 371.2 1171.8 369.4 1172.7 368.8" stroke="#b5efde"/>
<path d="M1172.7 368.8 1175.3 366.9 1177.9 365.0 1180.5 363.1" stroke="#b7f0df"/>
<path d="M1180.5 363.1 1183.1 361.1 1185.6 359.1 1188.2 357.0" stroke="#b9f0e0"/>
<path d="M1188.2 357.0 1190.7 354.9 1193.2 352.8 1195.7 350.6" stroke="#bbf1e0"/>
<path d="M1195.7 350.6 1198.2 348.4 1200.7 346.1 1203.1 343.8" stroke="#bdf1e1"/>
<path d="M1203.1 343.8 1205.5 341.5 1207.9 339.1 1210.3 336.6" stroke="#bff2e2"/>
<path d="M1210.3 336.6 1212.7 334.2 1215.1 331.7 1217.4 329.1" stroke="#c1f2e3"/>
<path d="M1217.4 329.1 1219.7 326.5 1222.0 323.9 1224.3 321.2" stroke="#c3f3e4"/>
<path d="M1224.3 321.2 1225.8 319.4 1227.3 317.6 1228.8 315.8 1230.3 313.9" stroke="#c5f3e4"/>
<path d="M1230.3 313.9 1232.5 311.1 1234.7 308.2 1236.8 305.3" stroke="#c6f3e5"/>
<path d="M1236.8 305.3 1238.3 303.4 1239.7 301.4 1241.1 299.4 1242.5 297.4" stroke="#c7f4e5"/>
<path d="M1242.5 297.4 1243.9 295.4 1245.3 293.4 1246.7 291.3 1248.1 289.2" stroke="#c8f4e6"/>
<path d="M1248.1 289.2 1249.4 287.1 1250.8 285.0 1252.1 282.9 1253.5 280.7" stroke="#c9f4e6"/>
<path d="M1253.5 280.7 1254.8 278.6 1256.1 276.4 1257.4 274.2 1258.7 272.0" stroke="#caf4e6"/>
<path d="M1258.7 272.0 1260.0 269.7 1261.3 267.5 1262.5 265.2 1263.8 262.9" stroke="#cbf4e7"/>
<path d="M1263.8 262.9 1265.0 260.6 1266.3 258.3 1267.5 255.9 1268.1 254.7" stroke="#cbf5e7"/>
<path d="M1268.1 254.7 1269.3 252.4 1270.5 250.0 1271.7 247.6 1272.9 245.1" stroke="#ccf5e8"/>
<path d="M1272.9 245.1 1274.0 242.7 1275.2 240.2 1276.3 237.8 1276.9 236.5" stroke="#cdf5e8"/>
<path d="M1276.9 236.5 1278.0 234.0 1279.2 231.5 1280.3 229.0 1280.8 227.7" stroke="#cef5e8"/>
<path d="M1280.8 227.7 1281.9 225.1 1283.0 222.5 1284.1 219.9 1285.1 217.3" stroke="#cff5e9"/>
<path d="M1285.1 217.3 1286.2 214.7 1287.2 212.0 1288.2 209.3 1288.7 208.0" stroke="#d0f6e9"/>
<path d="M1288.7 208.0 1289.8 205.3 1290.8 202.6 1291.7 199.9 1292.2 198.5" stroke="#d1f6ea"/>
<path d="M81.9 630.7 84.4 627.3 86.8 623.9" stroke="#fefeff"/>
<path d="M86.8 623.9 89.3 620.5 91.7 617.1 94.2 613.6" stroke="#fdfeff"/>
<path d="M94.2 613.6 96.6 610.2 99.1 606.8" stroke="#fbfcff"/>
<path d="M99.1 606.8 101.5 603.4 104.0 600.0 106.5 596.6" stroke="#fafbff"/>
<path d="M106.5 596.6 108.9 593.2 110.1 591.5 111.0 590.2" stroke="#f7f9ff"/>
<path d="M111.0 590.2 112.9 587.5 114.9 584.9 116.8 582.3" stroke="#f6f8fe"/>
<path d="M116.8 582.3 118.7 579.7 120.7 577.1 122.7 574.6" stroke="#f4f6fe"/>
<path d="M122.7 574.6 124.6 572.1 126.6 569.6 128.6 567.1" stroke="#f2f4fe"/>
<path d="M128.6 567.1 130.6 564.6 132.6 562.2 134.6 559.8" stroke="#f0f2fe"/>
<path d="M134.6 559.8 136.6 557.4 138.7 555.0 140.7 552.6 141.7 551.5" stroke="#eef0fe"/>
<path d="M141.7 551.5 143.8 549.1 145.8 546.8 147.9 544.5" stroke="#ebeefe"/>
<path d="M147.9 544.5 150.0 542.3 152.1 540.0 154.2 537.8 155.2 536.7" stroke="#e9ebfd"/>
<path d="M155.2 536.7 157.3 534.5 159.4 532.3 161.5 530.2" stroke="#e7e8fd"/>
<path d="M161.5 530.2 163.6 528.1 165.8 525.9 167.9 523.8 169.0 522.8" stroke="#e4e6fd"/>
<path d="M169.0 522.8 171.1 520.7 173.2 518.7 175.4 516.7 176.5 515.7" stroke="#e2e3fd"/>
<path d="M176.5 515.7 178.6 513.7 180.8 511.7 183.0 509.7 184.1 508.8" stroke="#dfdffd"/>
<path d="M184.1 508.8 186.2 506.8 188.4 504.9 190.6 503.0 191.7 502.1" stroke="#dddcfc"/>
<path d="M191.7 502.1 193.9 500.2 196.1 498.4 198.3 496.5" stroke="#dad8fc"/>
<path d="M198.3 496.5 200.5 494.7 202.8 492.9 205.0 491.2 207.2 489.4" stroke="#d8d4fc"/>
<path d="M207.2 489.4 209.4 487.7 211.7 485.9 213.9 484.2 215.0 483.4" stroke="#d5d0fb"/>
<path d="M215.0 483.4 217.3 481.7 219.5 480.1 221.8 478.4 222.9 477.6" stroke="#d3ccfb"/>
<path d="M222.9 477.6 225.1 476.0 227.4 474.4 229.6 472.8 230.8 472.0" stroke="#d0c8fb"/>
<path d="M230.8 472.0 233.0 470.5 235.3 468.9 237.6 467.4 238.7 466.6" stroke="#cdc4fb"/>
<path d="M238.7 466.6 241.0 465.1 243.2 463.7 245.5 462.2 247.8 460.7" stroke="#cbbffa"/>
<path d="M247.8 460.7 250.1 459.3 252.3 457.9 254.6 456.5 255.8 455.8" stroke="#c8bbfa"/>
<path d="M255.8 455.8 258.1 454.4 260.3 453.1 262.6 451.7 264.9 450.4" stroke="#c5b5fa"/>
<path d="M264.9 450.4 267.2 449.1 269.5 447.8 271.8 446.5 272.9 445.8" stroke="#c3b1f9"/>
<path d="M272.9 445.8 275.2 444.6 277.5 443.3 279.8 442.1 282.1 440.9" stroke="#c0abf9"/>
<path d="M282.1 440.9 284.3 439.7 286.6 438.5 288.9 437.3 291.2 436.2" stroke="#bda5f9"/>
<path d="M291.2 436.2 293.5 435.0 295.8 433.9 298.1 432.8 300.3 431.7" stroke="#baa0f8"/>
<path d="M300.3 431.7 302.6 430.6 304.9 429.5 307.2 428.4 309.5 427.4" stroke="#b89af8"/>
<path d="M309.5 427.4 311.7 426.4 314.0 425.3 316.3 424.3 318.5 423.3" stroke="#b594f8"/>
<path d="M318.5 423.3 320.8 422.4 323.1 421.4 325.3 420.4 327.6 419.5" stroke="#b491f7"/>
<path d="M327.6 419.5 329.9 418.6 332.1 417.7 334.4 416.8 336.6 415.9" stroke="#b490f7"/>
<path d="M336.6 415.9 338.9 415.0 341.1 414.1 343.3 413.3 345.6 412.5" stroke="#b48ff7"/>
<path d="M345.6 412.5 348.9 411.2 352.2 410.0 355.6 408.8" stroke="#b48ef6"/>
<path d="M355.6 408.8 357.8 408.1 360.0 407.3 362.2 406.5 364.4 405.8" stroke="#b48ef6"/>
<path d="M364.4 405.8 367.7 404.7 370.9 403.7 374.2 402.6" stroke="#b48ff6"/>
<path d="M374.2 402.6 377.5 401.6 380.7 400.6 383.9 399.7" stroke="#b490f5"/>
<path d="M383.9 399.7 387.1 398.7 390.3 397.8 393.5 396.9" stroke="#b491f5"/>
<path d="M393.5 396.9 396.7 396.0 399.8 395.2 403.0 394.4" stroke="#b492f5"/>
<path d="M403.0 394.4 406.1 393.6 409.2 392.8 412.3 392.0" stroke="#b493f5"/>
<path d="M412.3 392.0 415.4 391.3 418.4 390.5 421.4 389.8 422.5 389.6" stroke="#b494f4"/>
<path d="M422.5 389.6 425.5 388.9 428.5 388.3 431.4 387.7 432.4 387.4" stroke="#b495f4"/>
<path d="M432.4 387.4 435.4 386.8 438.3 386.2 441.2 385.7 442.1 385.5" stroke="#b396f4"/>
<path d="M442.1 385.5 445.0 384.9 447.9 384.4 450.7 383.9 451.6 383.7" stroke="#b397f4"/>
<path d="M451.6 383.7 454.4 383.2 457.2 382.7 460.0 382.3 461.8 382.0" stroke="#b398f4"/>
<path d="M461.8 382.0 464.5 381.6 467.2 381.1 469.8 380.7 471.6 380.5" stroke="#b399f3"/>
<path d="M471.6 380.5 474.2 380.1 476.8 379.7 479.4 379.4 481.1 379.1" stroke="#b39af3"/>
<path d="M481.1 379.1 484.4 378.7 487.7 378.3 491.0 377.9" stroke="#b39bf3"/>
<path d="M491.0 377.9 494.1 377.5 497.3 377.2 500.4 376.8 501.1 376.8" stroke="#b29df2"/>
<path d="M501.1 376.8 504.2 376.4 507.1 376.2 510.0 375.9 511.5 375.8" stroke="#b29ef2"/>
<path d="M511.5 375.8 514.3 375.5 517.0 375.3 520.6 375.0 521.7 375.0" stroke="#b2a0f2"/>
<path d="M521.7 375.0 525.0 374.8 528.2 374.6 531.4 374.4" stroke="#b1a1f1"/>
<path d="M531.4 374.4 534.6 374.3 537.7 374.1 540.8 374.0" stroke="#b1a3f1"/>
<path d="M540.8 374.0 543.9 373.8 546.9 373.7 549.9 373.6 550.8 373.5" stroke="#b0a4f0"/>
<path d="M550.8 373.5 553.8 373.4 556.7 373.3 559.5 373.2 561.4 373.1" stroke="#b0a6f0"/>
<path d="M561.4 373.1 564.2 373.0 567.0 373.0 569.7 372.9 571.5 372.8" stroke="#b0a7f0"/>
<path d="M571.5 372.8 574.2 372.7 576.9 372.7 579.5 372.6 581.2 372.6" stroke="#b0a8f0"/>
<path d="M581.2 372.6 584.7 372.5 588.0 372.5 591.3 372.4" stroke="#b0a9f0"/>
<path d="M591.3 372.4 594.6 372.4 597.8 372.4 601.0 372.4" stroke="#afa9ef"/>
<path d="M601.0 372.4 604.1 372.4 607.1 372.4 610.1 372.4 610.9 372.4" stroke="#afaaef"/>
<path d="M610.9 372.4 613.8 372.4 616.8 372.5 619.6 372.5 621.0 372.5" stroke="#afabef"/>
<path d="M621.0 372.5 623.8 372.6 626.6 372.7 629.3 372.8 630.7 372.8" stroke="#afacef"/>
<path d="M630.7 372.8 634.0 372.9 637.3 373.0 640.5 373.2 641.1 373.2" stroke="#afadef"/>
<path d="M641.1 373.2 644.3 373.4 647.4 373.6 650.4 373.7 651.0 373.8" stroke="#afadef"/>
<path d="M651.0 373.8 654.0 374.0 656.9 374.2 659.8 374.4 661.0 374.5" stroke="#afaeef"/>
<path d="M661.0 374.5 664.4 374.8 667.7 375.1 671.0 375.4" stroke="#afafef"/>
<path d="M671.0 375.4 674.3 375.7 677.5 376.1 680.7 376.4" stroke="#aeb0ee"/>
<path d="M680.7 376.4 683.8 376.8 686.9 377.2 689.9 377.6 690.9 377.7" stroke="#aeb0ee"/>
<path d="M690.9 377.7 694.0 378.1 696.9 378.5 699.9 378.9 700.4 379.0" stroke="#aeb1ee"/>
<path d="M700.4 379.0 703.9 379.5 707.3 380.1 710.7 380.6" stroke="#aeb2ee"/>
<path d="M710.7 380.6 713.7 381.1 716.6 381.5 719.5 382.0 720.5 382.2" stroke="#aeb3ee"/>
<path d="M720.5 382.2 723.4 382.7 726.4 383.2 729.3 383.7 730.3 383.9" stroke="#adb4ed"/>
<path d="M730.3 383.9 733.3 384.4 736.3 384.9 739.4 385.4 739.9 385.5" stroke="#adb5ed"/>
<path d="M739.9 385.5 742.9 386.1 746.1 386.6 749.2 387.1 749.7 387.2" stroke="#adb7ec"/>
<path d="M749.7 387.2 752.9 387.8 756.1 388.3 759.4 388.8 760.0 388.9" stroke="#acb8ec"/>
<path d="M760.0 388.9 762.7 389.4 765.6 389.8 768.4 390.3 769.6 390.5" stroke="#acb9eb"/>
<path d="M769.6 390.5 772.5 390.9 775.4 391.4 779.5 392.0" stroke="#acbaeb"/>
<path d="M779.5 392.0 782.8 392.6 786.2 393.1 789.5 393.7" stroke="#abbcea"/>
<path d="M789.5 393.7 792.8 394.3 796.1 394.9 799.3 395.5" stroke="#abbdea"/>
<path d="M799.3 395.5 802.6 396.1 805.7 396.7 808.9 397.3" stroke="#abbeea"/>
<path d="M808.9 397.3 812.1 398.0 815.2 398.6 818.3 399.2 819.0 399.4" stroke="#aac0e9"/>
<path d="M819.0 399.4 822.1 400.0 825.2 400.7 828.2 401.3 828.9 401.5" stroke="#aac1e9"/>
<path d="M828.9 401.5 831.9 402.2 834.9 402.8 837.9 403.5 838.6 403.7" stroke="#aac2e8"/>
<path d="M838.6 403.7 841.6 404.3 844.5 405.0 847.4 405.6 848.2 405.8" stroke="#a9c3e8"/>
<path d="M848.2 405.8 851.1 406.5 853.9 407.1 856.8 407.8 858.2 408.1" stroke="#a9c4e7"/>
<path d="M858.2 408.1 861.1 408.8 864.0 409.4 866.8 410.1 867.5 410.3" stroke="#a9c5e7"/>
<path d="M867.5 410.3 870.3 410.9 873.2 411.5 876.0 412.2 877.4 412.5" stroke="#a8c7e7"/>
<path d="M877.4 412.5 880.2 413.1 883.0 413.8 885.8 414.4 887.2 414.7" stroke="#a8c8e6"/>
<path d="M887.2 414.7 890.0 415.3 892.8 415.9 895.6 416.5 897.0 416.8" stroke="#a8cae5"/>
<path d="M897.0 416.8 899.8 417.3 902.6 417.9 905.4 418.5 906.8 418.7" stroke="#a8cce4"/>
<path d="M906.8 418.7 909.6 419.3 912.4 419.8 915.2 420.3 916.6 420.6" stroke="#a7cee3"/>
<path d="M916.6 420.6 919.4 421.0 922.3 421.5 925.1 422.0 926.5 422.2" stroke="#a7d0e3"/>
<path d="M926.5 422.2 929.4 422.7 932.2 423.1 935.1 423.5 936.5 423.7" stroke="#a7d2e2"/>
<path d="M936.5 423.7 939.4 424.1 942.3 424.5 945.3 424.8 946.7 425.0" stroke="#a7d4e1"/>
<path d="M946.7 425.0 949.7 425.3 952.6 425.6 955.6 425.9 956.3 426.0" stroke="#a6d6e0"/>
<path d="M956.3 426.0 959.3 426.3 962.4 426.5 965.4 426.7 966.1 426.8" stroke="#a6d9df"/>
<path d="M966.1 426.8 969.2 427.0 972.3 427.1 975.4 427.3 976.2 427.3" stroke="#a6dbde"/>
<path d="M976.2 427.3 979.3 427.4 982.5 427.5 985.6 427.6 986.4 427.6" stroke="#a6dcdd"/>
<path d="M986.4 427.6 989.6 427.7 992.9 427.7 996.2 427.7" stroke="#a6dddd"/>
<path d="M996.2 427.7 999.5 427.6 1002.8 427.6 1006.1 427.5" stroke="#a6dfdd"/>
<path d="M1006.1 427.5 1009.5 427.3 1012.9 427.2 1016.4 427.0" stroke="#a6e0dc"/>
<path d="M1016.4 427.0 1019.0 426.9 1021.6 426.7 1024.3 426.5 1026.0 426.4" stroke="#a6e2dc"/>
<path d="M1026.0 426.4 1028.7 426.1 1031.4 425.9 1034.1 425.7 1036.0 425.5" stroke="#a6e3db"/>
<path d="M1036.0 425.5 1038.7 425.2 1041.5 424.9 1044.3 424.6 1046.2 424.3" stroke="#a6e5db"/>
<path d="M1046.2 424.3 1049.0 424.0 1051.9 423.6 1054.8 423.2 1055.7 423.1" stroke="#a6e6db"/>
<path d="M1055.7 423.1 1058.6 422.7 1061.6 422.2 1064.6 421.8 1066.5 421.5" stroke="#a6e8da"/>
<path d="M1066.5 421.5 1069.5 421.0 1072.6 420.4 1075.6 419.9" stroke="#a7e8da"/>
<path d="M1075.6 419.9 1078.7 419.4 1081.8 418.8 1085.0 418.2 1086.0 418.0" stroke="#a8e9da"/>
<path d="M1086.0 418.0 1089.2 417.3 1092.4 416.7 1095.5 416.0" stroke="#a9eadb"/>
<path d="M1095.5 416.0 1098.5 415.3 1101.4 414.5 1104.4 413.7 1105.4 413.4" stroke="#aaeadb"/>
<path d="M1105.4 413.4 1108.4 412.5 1111.3 411.6 1114.2 410.7 1115.2 410.3" stroke="#abebdb"/>
<path d="M1115.2 410.3 1118.1 409.3 1121.0 408.3 1123.9 407.2" stroke="#acecdb"/>
<path d="M1123.9 407.2 1126.8 406.1 1129.7 404.9 1132.5 403.7 1133.5 403.3" stroke="#adecdb"/>
<path d="M1133.5 403.3 1136.3 402.0 1139.1 400.7 1141.9 399.3 1142.9 398.9" stroke="#aeeddc"/>
<path d="M1142.9 398.9 1145.7 397.5 1148.4 396.0 1151.2 394.5" stroke="#afeddc"/>
<path d="M1151.2 394.5 1153.9 393.0 1156.7 391.4 1159.4 389.8 1160.3 389.3" stroke="#b1eedc"/>
<path d="M1160.3 389.3 1163.0 387.6 1165.7 385.9 1168.3 384.1" stroke="#b2efdd"/>
<path d="M1168.3 384.1 1171.0 382.4 1173.6 380.5 1176.3 378.7 1177.1 378.0" stroke="#b5efde"/>
<path d="M1177.1 378.0 1179.7 376.1 1182.3 374.1 1184.9 372.1" stroke="#b6f0df"/>
<path d="M1184.9 372.1 1187.4 370.1 1190.0 368.0 1192.5 365.9" stroke="#b8f0df"/>
<path d="M1192.5 365.9 1195.0 363.7 1197.5 361.5 1200.0 359.3" stroke="#baf1e0"/>
<path d="M1200.0 359.3 1202.4 357.0 1204.8 354.7 1207.3 352.3" stroke="#bcf1e1"/>
<path d="M1207.3 352.3 1209.7 349.9 1212.0 347.4 1214.4 345.0" stroke="#bef2e2"/>
<path d="M1214.4 345.0 1216.0 343.3 1217.5 341.6 1219.1 339.9 1220.6 338.1" stroke="#c1f2e3"/>
<path d="M1220.6 338.1 1222.9 335.5 1225.2 332.8 1227.4 330.1" stroke="#c2f3e3"/>
<path d="M1227.4 330.1 1228.9 328.3 1230.4 326.4 1231.9 324.6 1233.3 322.7" stroke="#c4f3e4"/>
<path d="M1233.3 322.7 1235.5 319.8 1237.7 316.9 1239.8 314.0" stroke="#c5f3e5"/>
<path d="M1239.8 314.0 1241.2 312.0 1242.6 310.0 1244.0 308.0 1245.4 306.0" stroke="#c6f3e5"/>
<path d="M1245.4 306.0 1246.8 303.9 1248.2 301.9 1249.5 299.8 1250.9 297.7" stroke="#c7f4e5"/>
<path d="M1250.9 297.7 1252.2 295.6 1253.6 293.4 1254.9 291.3 1256.2 289.1" stroke="#c8f4e6"/>
<path d="M1256.2 289.1 1257.5 286.9 1258.8 284.7 1260.1 282.5 1261.4 280.2" stroke="#c9f4e6"/>
<path d="M1261.4 280.2 1262.6 278.0 1263.9 275.7 1265.1 273.4 1265.7 272.3" stroke="#caf4e7"/>
<path d="M1265.7 272.3 1267.0 269.9 1268.2 267.6 1269.4 265.2 1270.6 262.9" stroke="#cbf5e7"/>
<path d="M1270.6 262.9 1271.8 260.5 1273.0 258.1 1274.1 255.6 1274.7 254.4" stroke="#ccf5e7"/>
<path d="M1274.7 254.4 1275.9 252.0 1277.0 249.5 1278.1 247.0 1279.3 244.5" stroke="#cdf5e8"/>
<path d="M1279.3 244.5 1280.4 242.0 1281.5 239.5 1282.6 236.9 1283.1 235.6" stroke="#cef5e8"/>
<path d="M1283.1 235.6 1284.2 233.1 1285.2 230.5 1286.3 227.9 1286.8 226.5" stroke="#cff5e9"/>
<path d="M1286.8 226.5 1287.8 223.9 1288.9 221.2 1289.9 218.6 1290.4 217.2" stroke="#d0f5e9"/>
<path d="M1290.4 217.2 1291.4 214.5 1292.4 211.8 1293.3 209.1 1293.8 207.7" stroke="#d1f6e9"/>
<path d="M1293.8 207.7 1294.8 205.0 1295.7 202.2 1296.6 199.4 1297.1 198.0" stroke="#d1f6ea"/>
<path d="M110.3 666.5 112.6 662.9 114.9 659.4 117.2 655.9" stroke="#fefeff"/>
<path d="M117.2 655.9 119.5 652.4 121.7 648.8" stroke="#fcfdff"/>
<path d="M121.7 648.8 124.0 645.3 126.3 641.8" stroke="#fbfcff"/>
<path d="M126.3 641.8 128.6 638.3 130.9 634.7 133.2 631.2" stroke="#fafbff"/>
<path d="M133.2 631.2 135.5 627.7 136.6 626.0 137.5 624.6" stroke="#f7f9fe"/>
<path d="M137.5 624.6 139.3 621.8 141.2 619.0 143.0 616.2" stroke="#f6f8fe"/>
<path d="M143.0 616.2 144.9 613.4 146.8 610.7 148.7 608.0" stroke="#f4f6fe"/>
<path d="M148.7 608.0 150.6 605.3 152.5 602.7 154.4 600.0" stroke="#f2f4fe"/>
<path d="M154.4 600.0 156.3 597.4 158.3 594.9 160.2 592.3" stroke="#f0f2fe"/>
<path d="M160.2 592.3 162.2 589.7 164.2 587.2 166.1 584.7" stroke="#edf0fe"/>
<path d="M166.1 584.7 168.1 582.3 170.1 579.8 172.1 577.4 173.1 576.2" stroke="#ebeefe"/>
<path d="M173.1 576.2 175.2 573.8 177.2 571.4 179.2 569.0" stroke="#e9ebfd"/>
<path d="M179.2 569.0 181.3 566.7 183.3 564.4 185.4 562.1 186.4 561.0" stroke="#e7e8fd"/>
<path d="M186.4 561.0 188.5 558.7 190.6 556.5 192.7 554.3" stroke="#e4e5fd"/>
<path d="M192.7 554.3 194.8 552.1 196.9 549.9 199.0 547.8 200.0 546.7" stroke="#e2e3fd"/>
<path d="M200.0 546.7 202.2 544.6 204.3 542.5 206.4 540.4" stroke="#dfdffd"/>
<path d="M206.4 540.4 208.6 538.3 210.7 536.3 212.9 534.3 213.9 533.3" stroke="#dddcfc"/>
<path d="M213.9 533.3 216.1 531.3 218.3 529.3 220.4 527.4 221.5 526.4" stroke="#dbd8fc"/>
<path d="M221.5 526.4 223.7 524.5 225.9 522.6 228.1 520.7 229.2 519.8" stroke="#d8d5fc"/>
<path d="M229.2 519.8 231.4 517.9 233.6 516.1 235.8 514.3 236.9 513.4" stroke="#d5d1fc"/>
<path d="M236.9 513.4 239.1 511.6 241.3 509.8 243.6 508.1 244.7 507.2" stroke="#d3cdfb"/>
<path d="M244.7 507.2 246.9 505.5 249.1 503.8 251.4 502.1 252.5 501.3" stroke="#d0c8fb"/>
<path d="M252.5 501.3 254.7 499.6 257.0 498.0 259.2 496.4 260.4 495.6" stroke="#cec4fb"/>
<path d="M260.4 495.6 262.6 494.0 264.9 492.4 267.1 490.9 269.4 489.3" stroke="#cbbffa"/>
<path d="M269.4 489.3 271.7 487.8 273.9 486.3 276.2 484.8 277.3 484.1" stroke="#c8bafa"/>
<path d="M277.3 484.1 279.6 482.6 281.9 481.2 284.1 479.8 286.4 478.3" stroke="#c5b5fa"/>
<path d="M286.4 478.3 288.7 477.0 291.0 475.6 293.3 474.2 294.4 473.5" stroke="#c3b0f9"/>
<path d="M294.4 473.5 296.7 472.2 299.0 470.9 301.2 469.6 303.5 468.3" stroke="#c0abf9"/>
<path d="M303.5 468.3 305.8 467.0 308.1 465.8 310.4 464.5 311.5 463.9" stroke="#bea6f9"/>
<path d="M311.5 463.9 313.8 462.7 316.1 461.5 318.4 460.3 320.6 459.1" stroke="#bba0f8"/>
<path d="M320.6 459.1 322.9 458.0 325.2 456.8 327.5 455.7 329.8 454.6" stroke="#b89af8"/>
<path d="M329.8 454.6 332.0 453.5 334.3 452.4 336.6 451.3 338.9 450.3" stroke="#b594f8"/>
<path d="M338.9 450.3 341.1 449.3 343.4 448.2 345.7 447.2 347.9 446.2" stroke="#b490f7"/>
<path d="M347.9 446.2 350.2 445.2 352.4 444.3 354.7 443.3 356.9 442.4" stroke="#b48ff7"/>
<path d="M356.9 442.4 359.2 441.4 361.4 440.5 363.7 439.6 365.9 438.7" stroke="#b48ef7"/>
<path d="M365.9 438.7 369.3 437.4 372.6 436.1 376.0 434.9" stroke="#b58ef6"/>
<path d="M376.0 434.9 378.2 434.1 380.4 433.2 382.6 432.5 384.8 431.7" stroke="#b58ef6"/>
<path d="M384.8 431.7 388.1 430.5 391.4 429.4 394.7 428.3" stroke="#b48ff6"/>
<path d="M394.7 428.3 397.9 427.2 401.2 426.2 404.4 425.2" stroke="#b490f6"/>
<path d="M404.4 425.2 407.6 424.2 410.8 423.2 414.0 422.2" stroke="#b491f5"/>
<path d="M414.0 422.2 417.2 421.3 420.4 420.4 423.5 419.5" stroke="#b492f5"/>
<path d="M423.5 419.5 426.7 418.7 429.8 417.9 432.9 417.1" stroke="#b493f5"/>
<path d="M432.9 417.1 436.0 416.3 439.0 415.5 442.1 414.8 443.1 414.5" stroke="#b494f5"/>
<path d="M443.1 414.5 446.1 413.8 449.1 413.1 452.1 412.4" stroke="#b495f4"/>
<path d="M452.1 412.4 455.0 411.8 458.0 411.1 460.9 410.5 462.8 410.1" stroke="#b496f4"/>
<path d="M462.8 410.1 465.7 409.5 468.5 409.0 471.4 408.4 472.3 408.2" stroke="#b397f4"/>
<path d="M472.3 408.2 475.1 407.7 477.9 407.2 480.6 406.7 482.4 406.4" stroke="#b398f4"/>
<path d="M482.4 406.4 485.1 405.9 487.8 405.5 490.5 405.0 492.2 404.8" stroke="#b399f3"/>
<path d="M492.2 404.8 494.8 404.4 497.4 404.0 499.9 403.6 501.6 403.3" stroke="#b399f3"/>
<path d="M501.6 403.3 504.9 402.8 508.2 402.4 511.4 402.0" stroke="#b39bf3"/>
<path d="M511.4 402.0 514.6 401.6 517.7 401.2 520.7 400.8 521.5 400.7" stroke="#b29cf2"/>
<path d="M521.5 400.7 524.5 400.4 527.4 400.0 530.2 399.7 531.6 399.6" stroke="#b29ef2"/>
<path d="M531.6 399.6 534.4 399.3 537.1 399.0 539.7 398.7 541.4 398.6" stroke="#b29ff2"/>
<path d="M541.4 398.6 544.5 398.4 547.6 398.2 550.6 398.0 551.6 397.9" stroke="#b1a1f1"/>
<path d="M551.6 397.9 554.6 397.7 557.6 397.5 560.5 397.3 561.5 397.3" stroke="#b1a3f1"/>
<path d="M561.5 397.3 564.3 397.1 567.2 397.0 570.0 396.8 571.8 396.7" stroke="#b0a4f0"/>
<path d="M571.8 396.7 574.6 396.6 577.3 396.4 580.0 396.3 581.8 396.2" stroke="#b0a6f0"/>
<path d="M581.8 396.2 584.4 396.1 587.0 396.0 589.6 395.9 591.3 395.8" stroke="#b0a7f0"/>
<path d="M591.3 395.8 594.6 395.7 597.9 395.5 601.2 395.4" stroke="#b0a7f0"/>
<path d="M601.2 395.4 604.4 395.3 607.5 395.2 610.7 395.2 611.4 395.1" stroke="#b0a8f0"/>
<path d="M611.4 395.1 614.5 395.1 617.5 395.0 620.4 395.0 621.9 395.0" stroke="#afa9ef"/>
<path d="M621.9 395.0 624.8 394.9 627.6 394.9 630.4 394.9 631.8 394.9" stroke="#afaaef"/>
<path d="M631.8 394.9 634.6 394.9 637.3 394.9 639.9 395.0 641.3 395.0" stroke="#afabef"/>
<path d="M641.3 395.0 644.5 395.0 647.7 395.1 650.9 395.1 651.5 395.2" stroke="#afacef"/>
<path d="M651.5 395.2 654.6 395.2 657.6 395.4 660.6 395.5 661.8 395.5" stroke="#afacef"/>
<path d="M661.8 395.5 664.7 395.6 667.6 395.8 670.4 395.9 671.5 396.0" stroke="#afadef"/>
<path d="M671.5 396.0 674.8 396.2 678.1 396.4 681.4 396.7" stroke="#afaeef"/>
<path d="M681.4 396.7 684.5 396.9 687.7 397.2 690.8 397.4 691.3 397.5" stroke="#afafef"/>
<path d="M691.3 397.5 694.3 397.8 697.3 398.1 700.3 398.4 701.3 398.5" stroke="#aeb0ee"/>
<path d="M701.3 398.5 704.8 398.9 708.2 399.3 711.6 399.7" stroke="#aeb0ee"/>
<path d="M711.6 399.7 714.4 400.1 717.3 400.5 720.2 400.9 721.1 401.0" stroke="#aeb1ee"/>
<path d="M721.1 401.0 724.5 401.5 727.8 401.9 731.1 402.4" stroke="#aeb2ee"/>
<path d="M731.1 402.4 734.5 402.9 737.9 403.4 741.2 403.9" stroke="#aeb3ee"/>
<path d="M741.2 403.9 744.2 404.4 747.1 404.8 750.1 405.3 751.1 405.4" stroke="#adb4ed"/>
<path d="M751.1 405.4 754.1 405.9 757.1 406.3 760.2 406.8 761.2 407.0" stroke="#adb5ed"/>
<path d="M761.2 407.0 764.3 407.4 767.5 407.9 770.7 408.4" stroke="#adb7ec"/>
<path d="M770.7 408.4 774.0 408.8 777.3 409.3 780.7 409.8" stroke="#acb8ec"/>
<path d="M780.7 409.8 783.5 410.2 786.4 410.5 790.1 411.0 790.9 411.2" stroke="#acb9eb"/>
<path d="M790.9 411.2 794.3 411.6 797.6 412.1 800.8 412.6" stroke="#acbbeb"/>
<path d="M800.8 412.6 804.1 413.1 807.3 413.7 810.5 414.2" stroke="#abbcea"/>
<path d="M810.5 414.2 813.7 414.7 816.8 415.3 819.9 415.8 820.7 415.9" stroke="#abbdea"/>
<path d="M820.7 415.9 823.8 416.5 826.9 417.1 829.9 417.6 830.7 417.8" stroke="#abbee9"/>
<path d="M830.7 417.8 833.7 418.3 836.8 418.9 839.8 419.5 840.5 419.6" stroke="#aac0e9"/>
<path d="M840.5 419.6 843.5 420.2 846.4 420.8 849.4 421.4 850.1 421.5" stroke="#aac1e9"/>
<path d="M850.1 421.5 853.0 422.1 856.0 422.7 858.9 423.3 859.6 423.4" stroke="#aac2e8"/>
<path d="M859.6 423.4 862.5 424.0 865.3 424.6 868.2 425.2 869.6 425.4" stroke="#a9c3e8"/>
<path d="M869.6 425.4 872.5 426.0 875.3 426.6 878.1 427.2 879.6 427.4" stroke="#a9c5e7"/>
<path d="M879.6 427.4 882.4 428.0 885.2 428.6 888.0 429.1 889.4 429.4" stroke="#a9c6e7"/>
<path d="M889.4 429.4 892.2 429.9 895.0 430.5 897.8 431.0 899.2 431.3" stroke="#a8c7e6"/>
<path d="M899.2 431.3 902.0 431.8 904.8 432.3 907.6 432.8 909.0 433.0" stroke="#a8c9e6"/>
<path d="M909.0 433.0 911.8 433.5 914.6 434.0 917.4 434.4 918.8 434.7" stroke="#a8cbe5"/>
<path d="M918.8 434.7 921.6 435.1 924.4 435.5 927.3 436.0 928.7 436.2" stroke="#a7cde4"/>
<path d="M928.7 436.2 931.5 436.6 934.3 436.9 937.2 437.3 938.6 437.5" stroke="#a7cfe3"/>
<path d="M938.6 437.5 941.5 437.8 944.3 438.2 947.2 438.5 948.7 438.6" stroke="#a7d1e2"/>
<path d="M948.7 438.6 951.6 438.9 954.5 439.2 957.4 439.4 958.8 439.6" stroke="#a7d3e1"/>
<path d="M958.8 439.6 961.8 439.8 964.7 440.0 967.7 440.2 968.5 440.2" stroke="#a6d6e0"/>
<path d="M968.5 440.2 971.5 440.4 974.5 440.5 977.5 440.6 979.0 440.7" stroke="#a6d8df"/>
<path d="M979.0 440.7 982.1 440.8 985.2 440.8 988.3 440.9 989.0 440.9" stroke="#a6dade"/>
<path d="M989.0 440.9 992.2 440.9 995.3 440.8 998.5 440.8" stroke="#a6dcdd"/>
<path d="M998.5 440.8 1001.7 440.7 1004.9 440.6 1008.2 440.5 1009.0 440.5" stroke="#a6dddd"/>
<path d="M1009.0 440.5 1012.3 440.3 1015.6 440.1 1018.9 439.9" stroke="#a6dfdd"/>
<path d="M1018.9 439.9 1022.3 439.6 1025.7 439.4 1029.1 439.1" stroke="#a6e0dc"/>
<path d="M1029.1 439.1 1031.7 438.8 1034.3 438.6 1036.9 438.3 1038.7 438.1" stroke="#a6e2dc"/>
<path d="M1038.7 438.1 1041.3 437.8 1044.0 437.4 1046.7 437.1 1048.5 436.8" stroke="#a6e3db"/>
<path d="M1048.5 436.8 1051.2 436.4 1054.0 436.0 1056.7 435.6 1058.6 435.3" stroke="#a6e5db"/>
<path d="M1058.6 435.3 1061.4 434.9 1064.2 434.4 1067.1 433.9 1069.0 433.6" stroke="#a6e6da"/>
<path d="M1069.0 433.6 1071.9 433.0 1074.8 432.5 1077.7 431.9 1078.7 431.7" stroke="#a6e8da"/>
<path d="M1078.7 431.7 1081.6 431.1 1084.6 430.5 1087.6 429.9 1088.6 429.6" stroke="#a7e9da"/>
<path d="M1088.6 429.6 1091.7 429.0 1094.7 428.3 1097.8 427.6" stroke="#a8e9da"/>
<path d="M1097.8 427.6 1100.9 426.8 1104.0 426.0 1107.0 425.2 1108.0 424.9" stroke="#a9eadb"/>
<path d="M1108.0 424.9 1110.9 424.0 1113.9 423.1 1116.8 422.1" stroke="#aaeadb"/>
<path d="M1116.8 422.1 1119.8 421.1 1122.7 420.0 1125.6 418.9 1126.6 418.5" stroke="#abebdb"/>
<path d="M1126.6 418.5 1129.4 417.4 1132.3 416.1 1135.2 414.9 1136.1 414.5" stroke="#acecdb"/>
<path d="M1136.1 414.5 1139.0 413.2 1141.8 411.8 1144.6 410.5" stroke="#adecdb"/>
<path d="M1144.6 410.5 1147.4 409.0 1150.2 407.6 1153.0 406.1 1153.9 405.5" stroke="#aeeddc"/>
<path d="M1153.9 405.5 1156.6 404.0 1159.4 402.4 1162.1 400.7" stroke="#b0eedc"/>
<path d="M1162.1 400.7 1164.8 399.1 1167.5 397.3 1170.2 395.6 1171.0 395.0" stroke="#b1eedc"/>
<path d="M1171.0 395.0 1173.7 393.1 1176.3 391.3 1179.0 389.4" stroke="#b3efdd"/>
<path d="M1179.0 389.4 1181.6 387.4 1184.1 385.5 1186.7 383.4" stroke="#b5efde"/>
<path d="M1186.7 383.4 1189.3 381.4 1191.8 379.3 1194.3 377.1" stroke="#b7f0df"/>
<path d="M1194.3 377.1 1196.8 374.9 1199.3 372.7 1201.8 370.5 1202.6 369.7" stroke="#b9f0e0"/>
<path d="M1202.6 369.7 1204.2 368.2 1205.8 366.6 1207.4 365.0 1209.0 363.4" stroke="#bbf1e1"/>
<path d="M1209.0 363.4 1211.4 361.0 1213.8 358.6 1216.2 356.0" stroke="#bdf1e1"/>
<path d="M1216.2 356.0 1218.5 353.5 1220.8 350.9 1223.1 348.3" stroke="#bff2e2"/>
<path d="M1223.1 348.3 1224.6 346.5 1226.2 344.8 1227.7 342.9 1229.2 341.1" stroke="#c1f2e3"/>
<path d="M1229.2 341.1 1231.4 338.4 1233.6 335.6 1235.8 332.7" stroke="#c3f3e4"/>
<path d="M1235.8 332.7 1237.2 330.8 1238.7 328.9 1240.1 326.9 1241.5 324.9" stroke="#c5f3e4"/>
<path d="M1241.5 324.9 1242.9 323.0 1244.3 320.9 1245.7 318.9 1247.1 316.9" stroke="#c6f3e5"/>
<path d="M1247.1 316.9 1248.5 314.8 1249.8 312.8 1251.2 310.7 1252.5 308.6" stroke="#c7f4e5"/>
<path d="M1252.5 308.6 1253.9 306.4 1255.2 304.3 1256.5 302.1 1257.8 300.0" stroke="#c8f4e6"/>
<path d="M1257.8 300.0 1259.1 297.8 1260.4 295.6 1261.7 293.3 1262.9 291.1" stroke="#c9f4e6"/>
<path d="M1262.9 291.1 1264.2 288.8 1265.4 286.5 1266.7 284.3 1267.9 281.9" stroke="#caf4e6"/>
<path d="M1267.9 281.9 1269.1 279.6 1270.3 277.3 1271.5 274.9 1272.1 273.7" stroke="#caf4e7"/>
<path d="M1272.1 273.7 1273.3 271.3 1274.5 268.9 1275.6 266.5 1276.8 264.1" stroke="#cbf5e7"/>
<path d="M1276.8 264.1 1277.9 261.6 1279.0 259.1 1280.2 256.6 1280.7 255.4" stroke="#ccf5e8"/>
<path d="M1280.7 255.4 1281.8 252.9 1282.9 250.3 1284.0 247.8 1285.1 245.2" stroke="#cdf5e8"/>
<path d="M1285.1 245.2 1286.1 242.6 1287.2 240.0 1288.2 237.4 1288.7 236.1" stroke="#cef5e8"/>
<path d="M1288.7 236.1 1289.7 233.5 1290.8 230.8 1291.8 228.1 1292.2 226.8" stroke="#cff5e9"/>
<path d="M1292.2 226.8 1293.2 224.1 1294.2 221.4 1295.2 218.6 1295.6 217.3" stroke="#d0f6e9"/>
<path d="M1295.6 217.3 1296.6 214.5 1297.5 211.7 1298.4 209.0 1298.9 207.6" stroke="#d1f6ea"/>
<path d="M1298.9 207.6 1299.8 204.7 1300.7 201.9 1301.6 199.1" stroke="#d2f6ea"/>
<path d="M138.2 701.4 140.4 697.8 142.5 694.2 144.6 690.6" stroke="#fefeff"/>
<path d="M144.6 690.6 146.8 686.9 148.9 683.3" stroke="#fcfdff"/>
<path d="M148.9 683.3 151.0 679.7 153.1 676.1" stroke="#fbfcff"/>
<path d="M153.1 676.1 155.3 672.4 157.4 668.8 159.5 665.2" stroke="#f9fbff"/>
<path d="M159.5 665.2 161.7 661.6 162.7 659.8 163.6 658.3" stroke="#f7f9fe"/>
<path d="M163.6 658.3 165.3 655.4 167.1 652.4 168.9 649.5" stroke="#f6f8fe"/>
<path d="M168.9 649.5 170.7 646.6 172.5 643.7 174.3 640.8" stroke="#f4f6fe"/>
<path d="M174.3 640.8 176.1 638.0 178.0 635.2 179.8 632.4" stroke="#f2f4fe"/>
<path d="M179.8 632.4 181.7 629.7 183.6 626.9 185.5 624.2" stroke="#eff2fe"/>
<path d="M185.5 624.2 187.4 621.5 189.3 618.9 191.2 616.3" stroke="#edf0fe"/>
<path d="M191.2 616.3 193.1 613.6 195.1 611.1 197.0 608.5" stroke="#ebedfe"/>
<path d="M197.0 608.5 199.0 606.0 200.9 603.4 202.9 601.0 203.9 599.7" stroke="#e9ebfd"/>
<path d="M203.9 599.7 205.9 597.3 207.9 594.8 209.9 592.4" stroke="#e6e8fd"/>
<path d="M209.9 592.4 212.0 590.0 214.0 587.7 216.0 585.3" stroke="#e4e5fd"/>
<path d="M216.0 585.3 218.1 583.0 220.1 580.7 222.2 578.4 223.2 577.3" stroke="#e2e2fd"/>
<path d="M223.2 577.3 225.3 575.1 227.4 572.8 229.5 570.6" stroke="#dfdffd"/>
<path d="M229.5 570.6 231.6 568.5 233.7 566.3 235.8 564.2 236.9 563.1" stroke="#dddcfc"/>
<path d="M236.9 563.1 239.0 561.0 241.1 559.0 243.3 556.9 244.3 555.9" stroke="#dbd8fc"/>
<path d="M244.3 555.9 246.5 553.9 248.6 551.8 250.8 549.9 251.9 548.9" stroke="#d8d4fc"/>
<path d="M251.9 548.9 254.1 546.9 256.2 545.0 258.4 543.1 259.5 542.1" stroke="#d5d0fb"/>
<path d="M259.5 542.1 261.7 540.3 263.9 538.4 266.1 536.6 267.2 535.6" stroke="#d3ccfb"/>
<path d="M267.2 535.6 269.4 533.8 271.6 532.0 273.8 530.3 274.9 529.4" stroke="#d0c8fb"/>
<path d="M274.9 529.4 277.2 527.6 279.4 525.9 281.6 524.2 282.7 523.4" stroke="#cdc3fb"/>
<path d="M282.7 523.4 285.0 521.7 287.2 520.0 289.5 518.4 290.6 517.6" stroke="#cbbffa"/>
<path d="M290.6 517.6 292.8 516.0 295.1 514.4 297.3 512.8 298.5 512.0" stroke="#c8bafa"/>
<path d="M298.5 512.0 300.7 510.5 303.0 509.0 305.2 507.5 307.5 506.0" stroke="#c5b5fa"/>
<path d="M307.5 506.0 309.8 504.5 312.0 503.0 314.3 501.6 315.5 500.9" stroke="#c3b0f9"/>
<path d="M315.5 500.9 317.7 499.5 320.0 498.1 322.3 496.7 324.6 495.3" stroke="#c0aaf9"/>
<path d="M324.6 495.3 326.8 494.0 329.1 492.7 331.4 491.4 332.5 490.7" stroke="#bda5f9"/>
<path d="M332.5 490.7 334.8 489.4 337.1 488.2 339.4 486.9 341.6 485.7" stroke="#bb9ff8"/>
<path d="M341.6 485.7 343.9 484.4 346.2 483.2 348.5 482.1 350.8 480.9" stroke="#b899f8"/>
<path d="M350.8 480.9 353.0 479.7 355.3 478.6 357.6 477.5 359.8 476.3" stroke="#b593f7"/>
<path d="M359.8 476.3 362.1 475.2 364.4 474.2 366.7 473.1 368.9 472.0" stroke="#b490f7"/>
<path d="M368.9 472.0 371.2 471.0 373.4 470.0 375.7 469.0 378.0 468.0" stroke="#b58ef7"/>
<path d="M378.0 468.0 380.2 467.0 382.5 466.0 384.7 465.1 387.0 464.2" stroke="#b58df7"/>
<path d="M387.0 464.2 389.2 463.2 391.4 462.3 393.7 461.4 395.9 460.5" stroke="#b58df6"/>
<path d="M395.9 460.5 399.2 459.2 402.6 458.0 405.9 456.7" stroke="#b58df6"/>
<path d="M405.9 456.7 408.1 455.9 410.3 455.1 412.5 454.3 414.7 453.6" stroke="#b48ef6"/>
<path d="M414.7 453.6 417.9 452.4 421.2 451.3 424.5 450.2" stroke="#b48ff6"/>
<path d="M424.5 450.2 427.7 449.2 430.9 448.2 434.1 447.2" stroke="#b490f5"/>
<path d="M434.1 447.2 437.3 446.2 440.5 445.2 443.6 444.3" stroke="#b491f5"/>
<path d="M443.6 444.3 446.8 443.4 449.9 442.5 453.0 441.7" stroke="#b492f5"/>
<path d="M453.0 441.7 456.1 440.8 459.2 440.0 462.2 439.2 463.3 439.0" stroke="#b493f5"/>
<path d="M463.3 439.0 466.3 438.2 469.3 437.5 472.3 436.8" stroke="#b494f4"/>
<path d="M472.3 436.8 475.2 436.1 478.2 435.4 481.1 434.7 482.1 434.5" stroke="#b495f4"/>
<path d="M482.1 434.5 484.9 433.9 487.8 433.3 490.7 432.7 492.5 432.3" stroke="#b396f4"/>
<path d="M492.5 432.3 495.3 431.8 498.1 431.2 500.8 430.7 501.8 430.5" stroke="#b397f4"/>
<path d="M501.8 430.5 505.4 429.8 508.9 429.2 512.4 428.6" stroke="#b398f3"/>
<path d="M512.4 428.6 515.0 428.2 517.6 427.7 520.1 427.3 521.8 427.1" stroke="#b399f3"/>
<path d="M521.8 427.1 525.1 426.5 528.4 426.0 531.6 425.6" stroke="#b39af3"/>
<path d="M531.6 425.6 534.7 425.1 537.8 424.7 540.8 424.3 541.5 424.2" stroke="#b39cf3"/>
<path d="M541.5 424.2 544.5 423.8 547.3 423.5 550.1 423.1 551.5 422.9" stroke="#b29df2"/>
<path d="M551.5 422.9 554.9 422.5 558.2 422.2 561.3 421.8 561.9 421.7" stroke="#b29ff2"/>
<path d="M561.9 421.7 564.9 421.5 567.8 421.3 570.6 421.0 571.6 421.0" stroke="#b1a1f1"/>
<path d="M571.6 421.0 574.4 420.7 577.2 420.5 579.9 420.3 581.7 420.2" stroke="#b1a2f1"/>
<path d="M581.7 420.2 584.4 420.0 587.1 419.8 589.7 419.6 591.5 419.5" stroke="#b1a4f1"/>
<path d="M591.5 419.5 594.9 419.3 598.3 419.1 601.6 418.9" stroke="#b0a5f0"/>
<path d="M601.6 418.9 604.9 418.7 608.2 418.5 611.3 418.3 612.1 418.3" stroke="#b0a6f0"/>
<path d="M612.1 418.3 615.3 418.1 618.3 418.0 621.4 417.8 622.1 417.8" stroke="#b0a7f0"/>
<path d="M622.1 417.8 625.1 417.7 628.0 417.6 630.9 417.5 631.6 417.4" stroke="#b0a8f0"/>
<path d="M631.6 417.4 635.2 417.3 638.6 417.2 642.1 417.2" stroke="#afa9ef"/>
<path d="M642.1 417.2 645.4 417.1 648.7 417.0 651.9 417.0" stroke="#afaaef"/>
<path d="M651.9 417.0 655.1 417.0 658.2 417.0 661.3 417.0 661.9 417.0" stroke="#afabef"/>
<path d="M661.9 417.0 664.9 417.0 667.9 417.0 670.8 417.1 672.0 417.1" stroke="#afacef"/>
<path d="M672.0 417.1 675.4 417.2 678.8 417.3 682.1 417.4" stroke="#afacef"/>
<path d="M682.1 417.4 685.3 417.5 688.5 417.6 691.7 417.8 692.2 417.8" stroke="#afadef"/>
<path d="M692.2 417.8 695.3 418.0 698.3 418.2 701.4 418.4 701.9 418.4" stroke="#afaeef"/>
<path d="M701.9 418.4 705.3 418.7 708.7 418.9 712.1 419.2" stroke="#afafef"/>
<path d="M712.1 419.2 715.5 419.5 718.8 419.9 722.1 420.2" stroke="#aeafee"/>
<path d="M722.1 420.2 725.4 420.5 728.7 420.9 731.9 421.3" stroke="#aeb0ee"/>
<path d="M731.9 421.3 735.2 421.7 738.4 422.0 741.7 422.4 742.2 422.5" stroke="#aeb1ee"/>
<path d="M742.2 422.5 745.4 422.9 748.7 423.3 752.0 423.8" stroke="#aeb2ee"/>
<path d="M752.0 423.8 755.3 424.2 758.7 424.7 762.1 425.1" stroke="#aeb3ee"/>
<path d="M762.1 425.1 765.0 425.5 768.0 425.9 771.0 426.3 772.0 426.4" stroke="#adb4ed"/>
<path d="M772.0 426.4 775.1 426.8 778.2 427.2 781.3 427.6 781.8 427.7" stroke="#adb5ed"/>
<path d="M781.8 427.7 785.0 428.1 788.3 428.5 791.6 428.9 792.1 428.9" stroke="#adb7ec"/>
<path d="M792.1 428.9 794.9 429.2 797.8 429.6 801.4 430.0 802.2 430.1" stroke="#acb8ec"/>
<path d="M802.2 430.1 805.5 430.5 808.7 430.9 812.0 431.4" stroke="#acb9eb"/>
<path d="M812.0 431.4 815.2 431.8 818.3 432.2 821.5 432.7 822.3 432.8" stroke="#acbbeb"/>
<path d="M822.3 432.8 825.4 433.3 828.5 433.7 831.6 434.2" stroke="#abbcea"/>
<path d="M831.6 434.2 834.6 434.7 837.7 435.2 840.7 435.7 841.4 435.8" stroke="#abbdea"/>
<path d="M841.4 435.8 844.5 436.3 847.4 436.8 850.4 437.3 851.9 437.5" stroke="#abbfe9"/>
<path d="M851.9 437.5 854.8 438.0 857.8 438.5 860.7 439.0 861.4 439.2" stroke="#aac0e9"/>
<path d="M861.4 439.2 864.3 439.7 867.2 440.2 870.1 440.7 871.6 440.9" stroke="#aac1e8"/>
<path d="M871.6 440.9 874.4 441.4 877.3 441.9 880.1 442.4 881.6 442.7" stroke="#a9c3e8"/>
<path d="M881.6 442.7 884.4 443.2 887.2 443.6 890.1 444.1 891.5 444.4" stroke="#a9c4e8"/>
<path d="M891.5 444.4 894.3 444.9 897.1 445.3 899.9 445.8 901.3 446.0" stroke="#a9c5e7"/>
<path d="M901.3 446.0 904.1 446.5 906.9 446.9 909.7 447.4 911.1 447.6" stroke="#a8c6e7"/>
<path d="M911.1 447.6 913.9 448.0 916.7 448.4 919.5 448.8 920.9 449.0" stroke="#a8c8e6"/>
<path d="M920.9 449.0 923.7 449.4 926.5 449.8 929.4 450.2 930.8 450.3" stroke="#a8cae5"/>
<path d="M930.8 450.3 933.6 450.7 936.4 451.0 939.2 451.4 940.6 451.5" stroke="#a8cce4"/>
<path d="M940.6 451.5 943.5 451.8 946.3 452.1 949.2 452.4 950.6 452.5" stroke="#a7cee3"/>
<path d="M950.6 452.5 953.4 452.8 956.3 453.0 959.2 453.2 960.6 453.3" stroke="#a7d0e2"/>
<path d="M960.6 453.3 963.5 453.5 966.5 453.7 969.4 453.8 970.8 453.9" stroke="#a7d3e1"/>
<path d="M970.8 453.9 973.8 454.0 976.7 454.1 979.7 454.2 981.2 454.2" stroke="#a7d5e0"/>
<path d="M981.2 454.2 984.2 454.2 987.2 454.3 990.2 454.3 991.0 454.3" stroke="#a6d8df"/>
<path d="M991.0 454.3 994.1 454.2 997.1 454.2 1000.2 454.1 1001.0 454.1" stroke="#a6dade"/>
<path d="M1001.0 454.1 1004.1 454.0 1007.2 453.9 1010.4 453.7 1011.2 453.7" stroke="#a6dcde"/>
<path d="M1011.2 453.7 1014.4 453.5 1017.6 453.3 1020.8 453.0" stroke="#a6dddd"/>
<path d="M1020.8 453.0 1024.1 452.7 1027.4 452.4 1030.7 452.1 1031.5 452.0" stroke="#a6dfdd"/>
<path d="M1031.5 452.0 1034.0 451.7 1036.5 451.4 1039.1 451.1 1040.8 450.9" stroke="#a6e0dc"/>
<path d="M1040.8 450.9 1044.2 450.5 1047.6 450.0 1051.1 449.5" stroke="#a6e2dc"/>
<path d="M1051.1 449.5 1053.7 449.1 1056.4 448.6 1059.0 448.2 1060.8 447.9" stroke="#a6e3db"/>
<path d="M1060.8 447.9 1063.5 447.4 1066.2 446.9 1069.0 446.4 1070.8 446.0" stroke="#a6e5db"/>
<path d="M1070.8 446.0 1073.6 445.5 1076.4 444.9 1079.2 444.3 1081.0 443.9" stroke="#a6e7da"/>
<path d="M1081.0 443.9 1083.9 443.3 1086.7 442.6 1089.6 441.9 1090.6 441.7" stroke="#a6e8da"/>
<path d="M1090.6 441.7 1093.5 441.0 1096.4 440.3 1099.4 439.5 1100.3 439.3" stroke="#a7e9da"/>
<path d="M1100.3 439.3 1103.3 438.5 1106.3 437.7 1109.4 436.9 1110.4 436.6" stroke="#a8e9da"/>
<path d="M1110.4 436.6 1113.4 435.7 1116.3 434.7 1119.3 433.7" stroke="#a9eadb"/>
<path d="M1119.3 433.7 1122.2 432.7 1125.2 431.6 1128.1 430.4 1129.1 430.0" stroke="#aaebdb"/>
<path d="M1129.1 430.0 1132.0 428.8 1134.9 427.6 1137.7 426.3 1138.7 425.9" stroke="#abebdb"/>
<path d="M1138.7 425.9 1141.6 424.6 1144.4 423.2 1147.2 421.8" stroke="#adecdb"/>
<path d="M1147.2 421.8 1150.0 420.3 1152.8 418.8 1155.6 417.3 1156.5 416.8" stroke="#aeeddc"/>
<path d="M1156.5 416.8 1159.3 415.2 1162.0 413.5 1164.7 411.9" stroke="#afeddc"/>
<path d="M1164.7 411.9 1167.4 410.2 1170.1 408.4 1172.8 406.6" stroke="#b0eedc"/>
<path d="M1172.8 406.6 1175.5 404.8 1178.1 402.9 1180.7 401.0 1181.6 400.3" stroke="#b2eedd"/>
<path d="M1181.6 400.3 1184.2 398.4 1186.8 396.3 1189.4 394.3" stroke="#b4efde"/>
<path d="M1189.4 394.3 1191.9 392.2 1194.5 390.1 1197.0 387.9" stroke="#b6efde"/>
<path d="M1197.0 387.9 1199.5 385.7 1201.9 383.4 1204.4 381.1" stroke="#b8f0df"/>
<path d="M1204.4 381.1 1206.8 378.8 1209.3 376.4 1211.7 374.0" stroke="#baf0e0"/>
<path d="M1211.7 374.0 1214.1 371.6 1216.4 369.1 1218.8 366.6" stroke="#bcf1e1"/>
<path d="M1218.8 366.6 1220.3 364.9 1221.9 363.1 1223.4 361.4 1224.9 359.6" stroke="#bef2e2"/>
<path d="M1224.9 359.6 1227.2 357.0 1229.5 354.2 1231.7 351.5" stroke="#c0f2e2"/>
<path d="M1231.7 351.5 1233.2 349.6 1234.7 347.8 1236.1 345.9 1237.6 344.0" stroke="#c2f3e3"/>
<path d="M1237.6 344.0 1239.7 341.1 1241.9 338.2 1244.0 335.2" stroke="#c4f3e4"/>
<path d="M1244.0 335.2 1245.4 333.2 1246.8 331.2 1248.2 329.1 1249.6 327.1" stroke="#c5f3e4"/>
<path d="M1249.6 327.1 1250.9 325.0 1252.3 322.9 1253.6 320.8 1255.0 318.7" stroke="#c6f3e5"/>
<path d="M1255.0 318.7 1256.3 316.6 1257.6 314.4 1258.9 312.2 1260.2 310.0" stroke="#c7f4e5"/>
<path d="M1260.2 310.0 1261.5 307.8 1262.8 305.6 1264.0 303.4 1265.3 301.1" stroke="#c8f4e6"/>
<path d="M1265.3 301.1 1266.5 298.9 1267.8 296.6 1269.0 294.3 1269.6 293.1" stroke="#c9f4e6"/>
<path d="M1269.6 293.1 1270.8 290.8 1272.0 288.4 1273.2 286.1 1274.4 283.7" stroke="#caf4e7"/>
<path d="M1274.4 283.7 1275.6 281.3 1276.7 278.9 1277.9 276.4 1279.0 274.0" stroke="#cbf4e7"/>
<path d="M1279.0 274.0 1280.2 271.5 1281.3 269.1 1282.4 266.6 1282.9 265.3" stroke="#ccf5e7"/>
<path d="M1282.9 265.3 1284.0 262.8 1285.1 260.2 1286.2 257.7 1286.7 256.4" stroke="#cdf5e8"/>
<path d="M1286.7 256.4 1287.8 253.8 1288.8 251.2 1289.8 248.6 1290.4 247.3" stroke="#cef5e8"/>
<path d="M1290.4 247.3 1291.4 244.7 1292.4 242.0 1293.4 239.4 1293.9 238.0" stroke="#cef5e8"/>
<path d="M1293.9 238.0 1294.8 235.3 1295.8 232.6 1296.8 229.9 1297.2 228.5" stroke="#cff5e9"/>
<path d="M1297.2 228.5 1298.2 225.8 1299.1 223.0 1300.0 220.2 1300.5 218.8" stroke="#d0f6e9"/>
<path d="M1300.5 218.8 1301.4 216.0 1302.3 213.2 1303.1 210.4 1303.6 209.0" stroke="#d1f6ea"/>
<path d="M1303.6 209.0 1304.4 206.1 1305.3 203.2 1306.1 200.3 1306.5 198.9" stroke="#d2f6ea"/>
<path d="M165.7 735.6 167.7 731.9 169.7 728.2 171.7 724.5" stroke="#fefeff"/>
<path d="M171.7 724.5 173.6 720.8 175.6 717.1" stroke="#fcfdff"/>
<path d="M175.6 717.1 177.6 713.3 179.6 709.6" stroke="#fbfcff"/>
<path d="M179.6 709.6 181.6 705.9 183.5 702.2 185.5 698.5" stroke="#f9fbff"/>
<path d="M185.5 698.5 187.5 694.8 188.4 693.0 189.3 691.5" stroke="#f7f9fe"/>
<path d="M189.3 691.5 190.1 689.9 190.9 688.3 191.8 686.8 192.6 685.2 193.5 683.7" stroke="#f6f8fe"/>
<path d="M193.5 683.7 195.2 680.6 196.9 677.5 198.7 674.5" stroke="#f4f6fe"/>
<path d="M198.7 674.5 200.4 671.5 202.2 668.6 204.0 665.6" stroke="#f2f4fe"/>
<path d="M204.0 665.6 205.8 662.7 207.6 659.9 209.4 657.0" stroke="#f0f2fe"/>
<path d="M209.4 657.0 211.2 654.2 213.0 651.4 214.9 648.6" stroke="#eef0fe"/>
<path d="M214.9 648.6 216.8 645.8 218.6 643.1 220.5 640.4" stroke="#ebeefe"/>
<path d="M220.5 640.4 222.4 637.7 224.3 635.1 226.3 632.4" stroke="#e9ebfd"/>
<path d="M226.3 632.4 228.2 629.8 230.2 627.2 232.1 624.7" stroke="#e7e8fd"/>
<path d="M232.1 624.7 234.1 622.2 236.0 619.7 238.0 617.2" stroke="#e5e6fd"/>
<path d="M238.0 617.2 240.0 614.7 242.0 612.3 244.0 609.9 245.1 608.7" stroke="#e3e3fd"/>
<path d="M245.1 608.7 247.1 606.3 249.1 604.0 251.2 601.6" stroke="#e0dffd"/>
<path d="M251.2 601.6 253.2 599.3 255.3 597.1 257.4 594.8 258.4 593.7" stroke="#dedcfc"/>
<path d="M258.4 593.7 260.5 591.5 262.6 589.3 264.7 587.1" stroke="#dbd9fc"/>
<path d="M264.7 587.1 266.8 584.9 268.9 582.8 271.0 580.7 272.1 579.6" stroke="#d9d5fc"/>
<path d="M272.1 579.6 274.2 577.6 276.4 575.5 278.5 573.5 279.6 572.5" stroke="#d6d1fc"/>
<path d="M279.6 572.5 281.7 570.5 283.9 568.5 286.1 566.5 287.1 565.6" stroke="#d3cdfb"/>
<path d="M287.1 565.6 289.3 563.6 291.5 561.7 293.7 559.8 294.8 558.9" stroke="#d1c9fb"/>
<path d="M294.8 558.9 297.0 557.1 299.2 555.2 301.4 553.4 302.5 552.5" stroke="#cec4fb"/>
<path d="M302.5 552.5 304.7 550.7 306.9 549.0 309.1 547.2 310.3 546.4" stroke="#cbc0fa"/>
<path d="M310.3 546.4 312.5 544.7 314.7 543.0 317.0 541.3 318.1 540.5" stroke="#c9bbfa"/>
<path d="M318.1 540.5 320.3 538.8 322.6 537.2 324.8 535.6 325.9 534.8" stroke="#c6b6fa"/>
<path d="M325.9 534.8 328.2 533.2 330.4 531.7 332.7 530.1 333.8 529.4" stroke="#c4b1f9"/>
<path d="M333.8 529.4 336.1 527.9 338.4 526.4 340.6 524.9 342.9 523.5" stroke="#c1abf9"/>
<path d="M342.9 523.5 345.2 522.0 347.4 520.6 349.7 519.2 350.8 518.5" stroke="#bea6f9"/>
<path d="M350.8 518.5 353.1 517.1 355.4 515.8 357.7 514.4 359.9 513.1" stroke="#bba0f8"/>
<path d="M359.9 513.1 362.2 511.8 364.5 510.5 366.8 509.3 367.9 508.6" stroke="#b99bf8"/>
<path d="M367.9 508.6 370.2 507.4 372.4 506.2 374.7 505.0 377.0 503.8" stroke="#b695f8"/>
<path d="M377.0 503.8 379.3 502.6 381.5 501.4 383.8 500.3 386.1 499.1" stroke="#b490f7"/>
<path d="M386.1 499.1 388.3 498.0 390.6 496.9 392.9 495.8 395.1 494.8" stroke="#b58ef7"/>
<path d="M395.1 494.8 397.4 493.7 399.6 492.7 401.9 491.7 404.2 490.7" stroke="#b58df7"/>
<path d="M404.2 490.7 406.4 489.7 408.6 488.7 410.9 487.7 413.1 486.8" stroke="#b58cf7"/>
<path d="M413.1 486.8 416.5 485.4 419.8 484.0 423.2 482.7" stroke="#b58df6"/>
<path d="M423.2 482.7 425.4 481.8 427.6 480.9 429.8 480.1 432.0 479.3" stroke="#b58ef6"/>
<path d="M432.0 479.3 435.3 478.0 438.6 476.9 441.9 475.7" stroke="#b48ff6"/>
<path d="M441.9 475.7 444.0 474.9 446.2 474.2 448.4 473.4 450.5 472.7" stroke="#b490f6"/>
<path d="M450.5 472.7 453.7 471.7 456.9 470.6 460.1 469.6" stroke="#b491f5"/>
<path d="M460.1 469.6 463.3 468.6 466.5 467.7 469.6 466.7" stroke="#b492f5"/>
<path d="M469.6 466.7 472.7 465.8 475.8 465.0 478.9 464.1 479.9 463.8" stroke="#b493f5"/>
<path d="M479.9 463.8 483.0 463.0 486.0 462.2 489.0 461.4" stroke="#b494f5"/>
<path d="M489.0 461.4 492.0 460.6 495.0 459.9 498.0 459.2 498.9 459.0" stroke="#b495f4"/>
<path d="M498.9 459.0 501.9 458.3 504.8 457.6 507.6 457.0 508.6 456.8" stroke="#b496f4"/>
<path d="M508.6 456.8 511.4 456.1 514.2 455.5 517.0 454.9 518.8 454.6" stroke="#b397f4"/>
<path d="M518.8 454.6 521.6 454.0 524.3 453.5 527.0 453.0 528.8 452.6" stroke="#b398f4"/>
<path d="M528.8 452.6 531.4 452.1 534.0 451.7 536.6 451.2 538.3 450.9" stroke="#b399f3"/>
<path d="M538.3 450.9 541.6 450.3 544.9 449.8 548.2 449.2" stroke="#b399f3"/>
<path d="M548.2 449.2 551.3 448.7 554.4 448.3 557.5 447.8 558.3 447.7" stroke="#b39bf3"/>
<path d="M558.3 447.7 561.2 447.3 564.1 446.9 567.0 446.5 567.7 446.4" stroke="#b29cf2"/>
<path d="M567.7 446.4 571.1 445.9 574.4 445.5 577.6 445.0" stroke="#b29ef2"/>
<path d="M577.6 445.0 580.1 444.7 582.5 444.4 585.9 444.1 587.7 443.9" stroke="#b29ff2"/>
<path d="M587.7 443.9 591.2 443.6 594.7 443.3 598.2 442.9" stroke="#b1a1f1"/>
<path d="M598.2 442.9 600.8 442.7 603.3 442.5 605.8 442.3 607.5 442.2" stroke="#b1a3f1"/>
<path d="M607.5 442.2 610.7 441.9 614.0 441.6 617.1 441.4 617.9 441.3" stroke="#b0a4f0"/>
<path d="M617.9 441.3 621.1 441.1 624.1 440.9 627.1 440.7 627.9 440.6" stroke="#b0a6f0"/>
<path d="M627.9 440.6 630.9 440.4 633.8 440.2 636.7 440.1 637.4 440.0" stroke="#b0a7f0"/>
<path d="M637.4 440.0 640.9 439.8 644.4 439.6 647.8 439.5" stroke="#b0a8f0"/>
<path d="M647.8 439.5 651.2 439.3 654.4 439.2 657.7 439.1" stroke="#b0a9f0"/>
<path d="M657.7 439.1 660.9 438.9 664.0 438.8 667.0 438.8 667.7 438.8" stroke="#afa9ef"/>
<path d="M667.7 438.8 670.7 438.7 673.6 438.6 676.5 438.6 677.7 438.6" stroke="#afaaef"/>
<path d="M677.7 438.6 681.1 438.6 684.5 438.5 687.8 438.6" stroke="#afabef"/>
<path d="M687.8 438.6 691.0 438.6 694.2 438.6 697.3 438.7 697.9 438.7" stroke="#afacef"/>
<path d="M697.9 438.7 701.0 438.8 704.0 438.9 707.0 439.0 708.0 439.0" stroke="#afadef"/>
<path d="M708.0 439.0 710.9 439.1 713.8 439.3 716.7 439.4 717.7 439.5" stroke="#afaeef"/>
<path d="M717.7 439.5 721.0 439.7 724.3 439.9 727.5 440.1" stroke="#afaeef"/>
<path d="M727.5 440.1 730.8 440.4 734.0 440.6 737.2 440.9 737.6 440.9" stroke="#aeafee"/>
<path d="M737.6 440.9 740.8 441.2 744.0 441.5 747.1 441.8 747.6 441.8" stroke="#aeb0ee"/>
<path d="M747.6 441.8 750.8 442.2 754.0 442.5 757.1 442.8 757.6 442.9" stroke="#aeb1ee"/>
<path d="M757.6 442.9 760.8 443.2 764.1 443.6 767.3 443.9 767.8 444.0" stroke="#aeb1ee"/>
<path d="M767.8 444.0 771.1 444.4 774.4 444.7 777.8 445.1" stroke="#aeb2ee"/>
<path d="M777.8 445.1 780.7 445.4 783.7 445.8 786.7 446.1 787.7 446.2" stroke="#aeb3ed"/>
<path d="M787.7 446.2 790.7 446.5 793.8 446.8 797.0 447.2 797.5 447.2" stroke="#adb5ed"/>
<path d="M797.5 447.2 800.7 447.6 804.0 447.9 807.3 448.2" stroke="#adb6ed"/>
<path d="M807.3 448.2 809.6 448.4 812.5 448.7 815.8 449.1 817.4 449.2" stroke="#adb7ec"/>
<path d="M817.4 449.2 820.5 449.6 823.7 450.0 826.8 450.3 827.6 450.4" stroke="#acb9ec"/>
<path d="M827.6 450.4 830.7 450.8 833.8 451.2 836.9 451.6 837.7 451.7" stroke="#acbaeb"/>
<path d="M837.7 451.7 840.7 452.1 843.8 452.5 846.8 452.9 847.5 453.0" stroke="#abbceb"/>
<path d="M847.5 453.0 850.5 453.4 853.5 453.8 856.5 454.2 857.2 454.3" stroke="#abbdea"/>
<path d="M857.2 454.3 860.2 454.8 863.1 455.2 866.1 455.6 867.5 455.8" stroke="#abbeea"/>
<path d="M867.5 455.8 870.4 456.2 873.3 456.7 876.2 457.1 876.9 457.2" stroke="#aac0e9"/>
<path d="M876.9 457.2 879.8 457.6 882.7 458.1 885.5 458.5 887.0 458.7" stroke="#aac1e9"/>
<path d="M887.0 458.7 889.8 459.1 892.7 459.5 895.5 459.9 896.9 460.1" stroke="#aac2e8"/>
<path d="M896.9 460.1 899.7 460.5 902.5 460.9 905.4 461.3 906.8 461.5" stroke="#a9c4e8"/>
<path d="M906.8 461.5 909.6 461.9 912.4 462.3 915.2 462.7 916.6 462.8" stroke="#a9c5e7"/>
<path d="M916.6 462.8 920.1 463.3 923.6 463.7 927.1 464.1" stroke="#a9c6e7"/>
<path d="M927.1 464.1 929.9 464.5 932.7 464.8 935.5 465.1 936.9 465.2" stroke="#a8c8e6"/>
<path d="M936.9 465.2 939.7 465.5 942.6 465.8 945.4 466.0 946.8 466.1" stroke="#a8cae5"/>
<path d="M946.8 466.1 949.6 466.4 952.5 466.6 955.3 466.8 956.7 466.9" stroke="#a8cce4"/>
<path d="M956.7 466.9 959.6 467.1 962.4 467.2 965.3 467.4 966.7 467.5" stroke="#a7cee3"/>
<path d="M966.7 467.5 969.6 467.6 972.5 467.7 975.4 467.8 976.9 467.8" stroke="#a7d1e2"/>
<path d="M976.9 467.8 979.8 467.9 982.7 467.9 985.6 467.9 987.1 467.9" stroke="#a7d3e1"/>
<path d="M987.1 467.9 990.1 467.9 993.1 467.9 996.1 467.8 996.8 467.8" stroke="#a6d6e0"/>
<path d="M996.8 467.8 999.8 467.7 1002.8 467.6 1005.9 467.5 1006.7 467.4" stroke="#a6d8df"/>
<path d="M1006.7 467.4 1009.7 467.3 1012.8 467.1 1015.9 466.9 1016.7 466.8" stroke="#a6dbde"/>
<path d="M1016.7 466.8 1019.8 466.6 1023.0 466.3 1026.1 466.0 1026.9 465.9" stroke="#a6dcdd"/>
<path d="M1026.9 465.9 1030.1 465.6 1033.3 465.2 1036.6 464.8" stroke="#a6dedd"/>
<path d="M1036.6 464.8 1039.8 464.4 1043.1 463.9 1046.4 463.4" stroke="#a6dfdd"/>
<path d="M1046.4 463.4 1049.7 462.9 1053.1 462.4 1056.5 461.8" stroke="#a6e1dc"/>
<path d="M1056.5 461.8 1059.9 461.2 1063.3 460.6 1066.8 459.9" stroke="#a6e3dc"/>
<path d="M1066.8 459.9 1069.4 459.3 1072.1 458.8 1074.7 458.2 1076.5 457.8" stroke="#a6e4db"/>
<path d="M1076.5 457.8 1079.2 457.2 1081.9 456.6 1084.6 456.0 1086.4 455.5" stroke="#a6e6db"/>
<path d="M1086.4 455.5 1089.2 454.8 1091.9 454.1 1094.7 453.4 1095.6 453.2" stroke="#a6e8da"/>
<path d="M1095.6 453.2 1098.4 452.4 1101.3 451.7 1104.1 450.9 1105.1 450.6" stroke="#a7e8da"/>
<path d="M1105.1 450.6 1107.9 449.8 1110.8 448.9 1113.7 448.1 1114.7 447.8" stroke="#a8e9da"/>
<path d="M1114.7 447.8 1117.6 446.9 1120.6 445.9 1123.6 444.8 1124.6 444.4" stroke="#a9eadb"/>
<path d="M1124.6 444.4 1127.5 443.3 1130.5 442.1 1133.4 440.9 1134.4 440.5" stroke="#aaeadb"/>
<path d="M1134.4 440.5 1137.3 439.3 1140.2 438.0 1143.0 436.6" stroke="#abebdb"/>
<path d="M1143.0 436.6 1145.9 435.2 1148.7 433.8 1151.6 432.3" stroke="#acecdb"/>
<path d="M1151.6 432.3 1154.4 430.8 1157.2 429.2 1160.0 427.7 1160.9 427.1" stroke="#adecdb"/>
<path d="M1160.9 427.1 1163.6 425.5 1166.4 423.8 1169.1 422.0" stroke="#aeeddc"/>
<path d="M1169.1 422.0 1171.8 420.3 1174.5 418.5 1177.2 416.6" stroke="#afeedc"/>
<path d="M1177.2 416.6 1179.8 414.7 1182.5 412.8 1185.1 410.8 1186.0 410.1" stroke="#b1eedc"/>
<path d="M1186.0 410.1 1188.5 408.1 1191.1 406.1 1193.7 404.0" stroke="#b3efdd"/>
<path d="M1193.7 404.0 1196.2 401.8 1198.8 399.6 1201.3 397.4" stroke="#b5efde"/>
<path d="M1201.3 397.4 1203.7 395.1 1206.2 392.8 1208.7 390.5" stroke="#b7f0df"/>
<path d="M1208.7 390.5 1211.1 388.1 1213.5 385.7 1215.9 383.2" stroke="#b9f0e0"/>
<path d="M1215.9 383.2 1217.5 381.6 1219.1 379.9 1220.6 378.2 1222.2 376.5" stroke="#bbf1e1"/>
<path d="M1222.2 376.5 1224.5 373.9 1226.8 371.2 1229.1 368.5" stroke="#bdf1e1"/>
<path d="M1229.1 368.5 1230.6 366.7 1232.1 364.9 1233.6 363.1 1235.1 361.2" stroke="#bff2e2"/>
<path d="M1235.1 361.2 1237.3 358.4 1239.5 355.5 1241.6 352.6" stroke="#c1f2e3"/>
<path d="M1241.6 352.6 1243.0 350.7 1244.5 348.7 1245.9 346.7 1247.3 344.7" stroke="#c3f3e4"/>
<path d="M1247.3 344.7 1248.7 342.7 1250.1 340.6 1251.4 338.6 1252.8 336.5" stroke="#c5f3e4"/>
<path d="M1252.8 336.5 1254.2 334.4 1255.5 332.3 1256.8 330.2 1258.2 328.0" stroke="#c6f3e5"/>
<path d="M1258.2 328.0 1259.5 325.9 1260.8 323.7 1262.1 321.5 1263.4 319.3" stroke="#c7f4e5"/>
<path d="M1263.4 319.3 1264.6 317.1 1265.9 314.9 1267.2 312.6 1268.4 310.3" stroke="#c8f4e6"/>
<path d="M1268.4 310.3 1269.6 308.0 1270.9 305.7 1272.1 303.4 1272.7 302.2" stroke="#c8f4e6"/>
<path d="M1272.7 302.2 1273.9 299.9 1275.1 297.5 1276.3 295.2 1277.4 292.8" stroke="#c9f4e6"/>
<path d="M1277.4 292.8 1278.6 290.3 1279.7 287.9 1280.9 285.5 1281.4 284.2" stroke="#caf4e7"/>
<path d="M1281.4 284.2 1282.6 281.8 1283.7 279.3 1284.8 276.8 1285.9 274.3" stroke="#cbf5e7"/>
<path d="M1285.9 274.3 1286.9 271.7 1288.0 269.2 1289.1 266.6 1289.6 265.3" stroke="#ccf5e8"/>
<path d="M1289.6 265.3 1290.6 262.7 1291.7 260.1 1292.7 257.5 1293.2 256.2" stroke="#cdf5e8"/>
<path d="M1293.2 256.2 1294.2 253.6 1295.2 250.9 1296.2 248.2 1296.7 246.9" stroke="#cef5e8"/>
<path d="M1296.7 246.9 1297.6 244.2 1298.6 241.5 1299.5 238.7 1300.0 237.4" stroke="#cff5e9"/>
<path d="M1300.0 237.4 1300.9 234.6 1301.8 231.8 1302.7 229.0 1303.2 227.6" stroke="#d0f6e9"/>
<path d="M1303.2 227.6 1304.1 224.8 1304.9 222.0 1305.8 219.2 1306.2 217.7" stroke="#d1f6e9"/>
<path d="M1306.2 217.7 1307.1 214.9 1307.9 212.0 1308.7 209.1" stroke="#d2f6ea"/>
<path d="M1308.7 209.1 1309.5 206.2 1310.3 203.2 1311.1 200.3 1311.5 198.8" stroke="#d2f6ea"/>
<path d="M192.8 769.0 194.6 765.2 196.5 761.5" stroke="#fefeff"/>
<path d="M196.5 761.5 198.3 757.7 200.1 753.9 202.0 750.1" stroke="#fdfdff"/>
<path d="M202.0 750.1 203.8 746.3 205.6 742.5" stroke="#fbfcff"/>
<path d="M205.6 742.5 207.4 738.7 209.3 735.0 211.1 731.2" stroke="#f9fbff"/>
<path d="M211.1 731.2 212.9 727.4 213.8 725.6 214.6 723.9" stroke="#f7f9fe"/>
<path d="M214.6 723.9 215.4 722.3 216.2 720.6 217.0 719.0 217.8 717.4 218.6 715.8" stroke="#f6f8fe"/>
<path d="M218.6 715.8 220.2 712.5 221.9 709.4 223.6 706.2" stroke="#f4f6fe"/>
<path d="M223.6 706.2 224.4 704.6 225.2 703.1 226.1 701.5 226.9 700.0 227.8 698.4" stroke="#f2f4fe"/>
<path d="M227.8 698.4 229.5 695.4 231.2 692.3 233.0 689.3" stroke="#f0f2fe"/>
<path d="M233.0 689.3 234.7 686.3 236.5 683.4 238.3 680.5" stroke="#eef0fe"/>
<path d="M238.3 680.5 240.1 677.6 241.9 674.7 243.7 671.8" stroke="#eceefe"/>
<path d="M243.7 671.8 245.6 669.0 247.4 666.2 249.3 663.5" stroke="#e9ebfd"/>
<path d="M249.3 663.5 251.2 660.7 253.0 658.0 254.9 655.3" stroke="#e7e9fd"/>
<path d="M254.9 655.3 256.8 652.7 258.8 650.0 260.7 647.4" stroke="#e5e6fd"/>
<path d="M260.7 647.4 262.6 644.9 264.6 642.3 266.6 639.8" stroke="#e3e3fd"/>
<path d="M266.6 639.8 268.5 637.3 270.5 634.8 272.5 632.3" stroke="#e0e0fd"/>
<path d="M272.5 632.3 274.5 629.9 276.5 627.5 278.6 625.1 279.6 623.9" stroke="#deddfc"/>
<path d="M279.6 623.9 281.6 621.6 283.7 619.3 285.7 617.0" stroke="#dbd9fc"/>
<path d="M285.7 617.0 287.8 614.7 289.9 612.4 291.9 610.2 293.0 609.1" stroke="#d9d6fc"/>
<path d="M293.0 609.1 295.1 606.9 297.2 604.7 299.3 602.6" stroke="#d6d1fc"/>
<path d="M299.3 602.6 301.4 600.5 303.5 598.4 305.7 596.3 306.7 595.3" stroke="#d4cefb"/>
<path d="M306.7 595.3 308.9 593.2 311.0 591.2 313.2 589.2 314.3 588.2" stroke="#d1c9fb"/>
<path d="M314.3 588.2 316.4 586.3 318.6 584.3 320.8 582.4 321.9 581.4" stroke="#cfc5fb"/>
<path d="M321.9 581.4 324.1 579.5 326.3 577.7 328.5 575.8" stroke="#ccc0fa"/>
<path d="M328.5 575.8 330.7 574.0 332.9 572.2 335.1 570.4 336.2 569.5" stroke="#cabcfa"/>
<path d="M336.2 569.5 338.4 567.8 340.6 566.1 342.9 564.4 345.1 562.7" stroke="#c7b7fa"/>
<path d="M345.1 562.7 347.3 561.0 349.6 559.3 351.8 557.7 352.9 556.9" stroke="#c4b2f9"/>
<path d="M352.9 556.9 355.2 555.3 357.4 553.7 359.7 552.2 360.8 551.4" stroke="#c2adf9"/>
<path d="M360.8 551.4 363.1 549.9 365.3 548.4 367.6 546.9 368.7 546.1" stroke="#bfa7f9"/>
<path d="M368.7 546.1 371.0 544.7 373.3 543.2 375.5 541.8 377.8 540.4" stroke="#bca1f8"/>
<path d="M377.8 540.4 380.1 539.0 382.3 537.6 384.6 536.3 385.7 535.6" stroke="#ba9cf8"/>
<path d="M385.7 535.6 388.0 534.3 390.3 532.9 392.5 531.7 394.8 530.4" stroke="#b796f8"/>
<path d="M394.8 530.4 397.1 529.1 399.4 527.9 401.6 526.7 403.9 525.5" stroke="#b490f7"/>
<path d="M403.9 525.5 406.2 524.3 408.4 523.1 410.7 521.9 413.0 520.8" stroke="#b58ef7"/>
<path d="M413.0 520.8 415.2 519.7 417.5 518.6 419.8 517.5 422.0 516.4" stroke="#b58cf7"/>
<path d="M422.0 516.4 424.3 515.3 426.5 514.3 428.8 513.3 431.0 512.3" stroke="#b58bf7"/>
<path d="M431.0 512.3 433.3 511.3 435.5 510.3 437.7 509.3 440.0 508.4" stroke="#b58cf6"/>
<path d="M440.0 508.4 442.2 507.4 444.4 506.5 446.6 505.6 448.9 504.7" stroke="#b58df6"/>
<path d="M448.9 504.7 452.2 503.4 455.5 502.1 458.8 500.8" stroke="#b48ef6"/>
<path d="M458.8 500.8 461.0 500.0 463.1 499.2 465.3 498.4 467.5 497.6" stroke="#b48ff6"/>
<path d="M467.5 497.6 470.7 496.5 474.0 495.4 477.2 494.3" stroke="#b490f5"/>
<path d="M477.2 494.3 480.4 493.2 483.6 492.2 486.7 491.2" stroke="#b491f5"/>
<path d="M486.7 491.2 489.9 490.2 493.0 489.3 496.1 488.3" stroke="#b492f5"/>
<path d="M496.1 488.3 499.2 487.4 502.3 486.6 505.3 485.7" stroke="#b493f5"/>
<path d="M505.3 485.7 508.4 484.9 511.4 484.1 514.3 483.3 515.3 483.0" stroke="#b494f4"/>
<path d="M515.3 483.0 518.3 482.3 521.2 481.6 524.1 480.9 525.1 480.6" stroke="#b495f4"/>
<path d="M525.1 480.6 528.0 480.0 530.8 479.3 533.6 478.7 534.6 478.5" stroke="#b396f4"/>
<path d="M534.6 478.5 537.3 477.8 540.1 477.2 542.8 476.7 544.6 476.3" stroke="#b397f4"/>
<path d="M544.6 476.3 547.3 475.8 549.9 475.2 552.6 474.7 554.3 474.4" stroke="#b398f4"/>
<path d="M554.3 474.4 557.7 473.7 561.0 473.1 564.3 472.5" stroke="#b399f3"/>
<path d="M564.3 472.5 567.6 472.0 570.7 471.5 573.8 470.9" stroke="#b39af3"/>
<path d="M573.8 470.9 576.9 470.5 579.9 470.0 582.8 469.5 584.2 469.3" stroke="#b39bf3"/>
<path d="M584.2 469.3 587.0 468.9 589.7 468.5 592.4 468.1 593.7 467.9" stroke="#b29df2"/>
<path d="M593.7 467.9 596.8 467.5 599.9 467.1 602.8 466.6 603.9 466.5" stroke="#b29ff2"/>
<path d="M603.9 466.5 607.3 466.1 610.6 465.8 613.9 465.4" stroke="#b1a0f1"/>
<path d="M613.9 465.4 617.2 465.1 620.4 464.8 623.5 464.5" stroke="#b1a2f1"/>
<path d="M623.5 464.5 626.6 464.2 629.7 463.9 632.7 463.6 633.4 463.5" stroke="#b1a3f1"/>
<path d="M633.4 463.5 636.4 463.3 639.3 463.0 642.2 462.8 643.6 462.6" stroke="#b0a5f0"/>
<path d="M643.6 462.6 646.4 462.4 649.2 462.2 651.9 462.0 653.3 461.9" stroke="#b0a6f0"/>
<path d="M653.3 461.9 656.6 461.6 659.9 461.4 663.1 461.2 663.7 461.2" stroke="#b0a7f0"/>
<path d="M663.7 461.2 666.9 461.0 670.0 460.8 673.1 460.6 673.7 460.6" stroke="#b0a8f0"/>
<path d="M673.7 460.6 676.7 460.5 679.6 460.3 682.5 460.2 683.7 460.2" stroke="#b0a9f0"/>
<path d="M683.7 460.2 686.5 460.0 689.3 460.0 692.1 459.9 693.1 459.8" stroke="#afaaef"/>
<path d="M693.1 459.8 696.4 459.8 699.6 459.7 702.7 459.7 703.2 459.7" stroke="#afabef"/>
<path d="M703.2 459.7 706.3 459.7 709.3 459.6 712.3 459.7 713.3 459.7" stroke="#afabef"/>
<path d="M713.3 459.7 716.7 459.7 720.1 459.8 723.4 459.8" stroke="#afacef"/>
<path d="M723.4 459.8 726.6 459.9 729.9 460.0 733.1 460.1 733.5 460.2" stroke="#afadef"/>
<path d="M733.5 460.2 736.7 460.3 739.9 460.5 743.0 460.6 743.4 460.7" stroke="#afaeef"/>
<path d="M743.4 460.7 746.6 460.8 749.7 461.0 752.7 461.3 753.2 461.3" stroke="#afafef"/>
<path d="M753.2 461.3 756.3 461.5 759.4 461.7 762.5 462.0 763.4 462.1" stroke="#aeafee"/>
<path d="M763.4 462.1 766.5 462.3 769.6 462.6 772.7 462.8 773.2 462.9" stroke="#aeb0ee"/>
<path d="M773.2 462.9 776.4 463.2 779.6 463.4 782.8 463.7 783.2 463.8" stroke="#aeb1ee"/>
<path d="M783.2 463.8 786.5 464.1 789.8 464.4 793.2 464.7" stroke="#aeb2ee"/>
<path d="M793.2 464.7 796.1 464.9 799.1 465.2 802.1 465.5 803.1 465.6" stroke="#aeb3ee"/>
<path d="M803.1 465.6 806.2 465.8 809.3 466.1 812.4 466.4 813.0 466.4" stroke="#adb4ed"/>
<path d="M813.0 466.4 816.2 466.7 819.5 466.9 823.5 467.3" stroke="#adb6ed"/>
<path d="M823.5 467.3 826.6 467.5 829.8 467.8 832.9 468.1" stroke="#adb7ec"/>
<path d="M832.9 468.1 836.0 468.4 839.1 468.7 842.1 469.0 842.9 469.1" stroke="#acb8ec"/>
<path d="M842.9 469.1 846.0 469.4 849.0 469.7 852.0 470.0 852.8 470.1" stroke="#acbaeb"/>
<path d="M852.8 470.1 855.8 470.5 858.7 470.8 861.7 471.1 863.2 471.3" stroke="#abbbeb"/>
<path d="M863.2 471.3 866.1 471.7 869.1 472.0 872.0 472.3 872.7 472.4" stroke="#abbdea"/>
<path d="M872.7 472.4 875.6 472.8 878.5 473.1 881.4 473.5 882.9 473.7" stroke="#abbeea"/>
<path d="M882.9 473.7 885.8 474.0 888.6 474.4 891.5 474.7 892.9 474.9" stroke="#aabfe9"/>
<path d="M892.9 474.9 895.8 475.2 898.6 475.6 901.5 475.9 902.9 476.1" stroke="#aac1e9"/>
<path d="M902.9 476.1 905.7 476.4 908.5 476.7 911.4 477.1 912.8 477.2" stroke="#aac2e8"/>
<path d="M912.8 477.2 915.6 477.5 918.4 477.8 921.2 478.1 922.6 478.3" stroke="#a9c3e8"/>
<path d="M922.6 478.3 925.4 478.6 928.2 478.8 931.0 479.1 932.4 479.2" stroke="#a9c5e7"/>
<path d="M932.4 479.2 935.3 479.5 938.1 479.7 940.9 480.0 942.3 480.1" stroke="#a9c6e7"/>
<path d="M942.3 480.1 945.8 480.3 949.3 480.6 952.8 480.8" stroke="#a8c7e6"/>
<path d="M952.8 480.8 955.7 481.0 958.5 481.1 961.3 481.3 962.7 481.3" stroke="#a8cae5"/>
<path d="M962.7 481.3 965.6 481.5 968.4 481.6 971.3 481.7 972.7 481.7" stroke="#a8cce4"/>
<path d="M972.7 481.7 975.6 481.7 978.5 481.8 981.3 481.8 982.8 481.8" stroke="#a7cfe3"/>
<path d="M982.8 481.8 985.7 481.8 988.6 481.8 991.5 481.7 992.2 481.7" stroke="#a7d1e2"/>
<path d="M992.2 481.7 995.2 481.7 998.1 481.6 1001.1 481.5 1002.6 481.4" stroke="#a7d4e1"/>
<path d="M1002.6 481.4 1005.5 481.2 1008.5 481.1 1011.5 480.9 1012.3 480.8" stroke="#a6d6e0"/>
<path d="M1012.3 480.8 1015.3 480.6 1018.3 480.4 1021.4 480.1 1022.2 480.0" stroke="#a6d9de"/>
<path d="M1022.2 480.0 1025.2 479.7 1028.3 479.4 1031.4 479.0 1032.2 478.9" stroke="#a6dbde"/>
<path d="M1032.2 478.9 1035.3 478.5 1038.5 478.1 1041.7 477.7 1042.5 477.6" stroke="#a6dddd"/>
<path d="M1042.5 477.6 1045.7 477.1 1048.9 476.6 1052.1 476.0" stroke="#a6dedd"/>
<path d="M1052.1 476.0 1055.4 475.5 1058.6 474.8 1061.9 474.2" stroke="#a6e0dc"/>
<path d="M1061.9 474.2 1065.3 473.5 1068.6 472.8 1072.0 472.1" stroke="#a6e2dc"/>
<path d="M1072.0 472.1 1074.5 471.5 1077.1 470.9 1079.7 470.3 1081.4 469.9" stroke="#a6e3db"/>
<path d="M1081.4 469.9 1084.0 469.3 1086.6 468.6 1089.2 467.9 1091.0 467.5" stroke="#a6e5db"/>
<path d="M1091.0 467.5 1093.6 466.7 1096.3 466.0 1099.0 465.2 1100.8 464.7" stroke="#a6e6da"/>
<path d="M1100.8 464.7 1103.5 463.9 1106.2 463.1 1109.0 462.3 1110.8 461.7" stroke="#a6e8da"/>
<path d="M1110.8 461.7 1113.6 460.8 1116.4 459.9 1119.2 459.0 1120.1 458.7" stroke="#a7e9da"/>
<path d="M1120.1 458.7 1122.9 457.7 1125.8 456.8 1128.7 455.7 1129.7 455.3" stroke="#a8e9da"/>
<path d="M1129.7 455.3 1132.7 454.1 1135.6 452.8 1138.6 451.5" stroke="#a9eadb"/>
<path d="M1138.6 451.5 1141.5 450.2 1144.4 448.9 1147.3 447.5 1148.2 447.0" stroke="#abebdb"/>
<path d="M1148.2 447.0 1151.1 445.5 1153.9 444.0 1156.8 442.5" stroke="#acebdb"/>
<path d="M1156.8 442.5 1159.6 440.9 1162.4 439.3 1165.1 437.6" stroke="#adecdb"/>
<path d="M1165.1 437.6 1167.9 435.9 1170.6 434.1 1173.4 432.4" stroke="#aeeddc"/>
<path d="M1173.4 432.4 1176.1 430.5 1178.8 428.7 1181.4 426.8 1182.3 426.1" stroke="#afeddc"/>
<path d="M1182.3 426.1 1185.0 424.2 1187.6 422.2 1190.2 420.1" stroke="#b0eedc"/>
<path d="M1190.2 420.1 1192.8 418.0 1195.4 415.9 1197.9 413.8" stroke="#b2efdd"/>
<path d="M1197.9 413.8 1200.5 411.6 1203.0 409.3 1205.5 407.0" stroke="#b4efde"/>
<path d="M1205.5 407.0 1207.2 405.5 1208.8 404.0 1210.4 402.4 1212.1 400.8" stroke="#b6f0df"/>
<path d="M1212.1 400.8 1214.5 398.4 1216.9 395.9 1219.3 393.4" stroke="#b8f0df"/>
<path d="M1219.3 393.4 1221.7 390.9 1224.0 388.3 1226.4 385.7" stroke="#baf1e0"/>
<path d="M1226.4 385.7 1227.9 383.9 1229.4 382.1 1231.0 380.3 1232.5 378.5" stroke="#bcf1e1"/>
<path d="M1232.5 378.5 1234.7 375.8 1237.0 373.0 1239.2 370.2" stroke="#bef2e2"/>
<path d="M1239.2 370.2 1240.6 368.2 1242.1 366.3 1243.5 364.4 1245.0 362.4" stroke="#c1f2e3"/>
<path d="M1245.0 362.4 1246.4 360.5 1247.8 358.5 1249.2 356.5 1250.6 354.4" stroke="#c2f3e3"/>
<path d="M1250.6 354.4 1252.0 352.4 1253.4 350.3 1254.7 348.3 1256.1 346.2" stroke="#c4f3e4"/>
<path d="M1256.1 346.2 1257.5 344.1 1258.8 341.9 1260.1 339.8 1261.4 337.6" stroke="#c5f3e5"/>
<path d="M1261.4 337.6 1262.8 335.5 1264.1 333.3 1265.3 331.1 1266.6 328.8" stroke="#c6f3e5"/>
<path d="M1266.6 328.8 1267.9 326.6 1269.1 324.3 1270.4 322.1 1271.6 319.8" stroke="#c7f4e5"/>
<path d="M1271.6 319.8 1272.9 317.5 1274.1 315.2 1275.3 312.8 1275.9 311.6" stroke="#c8f4e6"/>
<path d="M1275.9 311.6 1277.1 309.3 1278.3 306.9 1279.4 304.5 1280.6 302.1" stroke="#c9f4e6"/>
<path d="M1280.6 302.1 1281.7 299.7 1282.9 297.2 1284.0 294.8 1284.6 293.5" stroke="#caf4e7"/>
<path d="M1284.6 293.5 1285.7 291.1 1286.8 288.6 1287.9 286.1 1289.0 283.5" stroke="#cbf4e7"/>
<path d="M1289.0 283.5 1290.0 281.0 1291.1 278.4 1292.1 275.8 1292.7 274.6" stroke="#ccf5e7"/>
<path d="M1292.7 274.6 1293.7 272.0 1294.7 269.3 1295.7 266.7 1296.2 265.4" stroke="#cdf5e8"/>
<path d="M1296.2 265.4 1297.2 262.7 1298.2 260.1 1299.2 257.4 1299.6 256.0" stroke="#cef5e8"/>
<path d="M1299.6 256.0 1300.6 253.3 1301.5 250.6 1302.5 247.8 1302.9 246.5" stroke="#cef5e8"/>
<path d="M1302.9 246.5 1303.8 243.7 1304.7 240.9 1305.6 238.1 1306.1 236.7" stroke="#cff5e9"/>
<path d="M1306.1 236.7 1307.0 233.9 1307.8 231.1 1308.7 228.2 1309.1 226.8" stroke="#d0f6e9"/>
<path d="M1309.1 226.8 1309.9 223.9 1310.7 221.0 1311.6 218.1" stroke="#d1f6ea"/>
<path d="M1311.6 218.1 1312.4 215.2 1313.1 212.3 1313.9 209.3 1314.3 207.9" stroke="#d2f6ea"/>
<path d="M1314.3 207.9 1315.1 204.9 1315.8 201.9 1316.5 198.9" stroke="#d2f6ea"/>
<path d="M219.4 801.7 221.1 797.8 222.8 794.0 224.5 790.1" stroke="#fefeff"/>
<path d="M224.5 790.1 226.2 786.3 227.9 782.4" stroke="#fcfdff"/>
<path d="M227.9 782.4 229.6 778.6 231.2 774.7" stroke="#fbfcff"/>
<path d="M231.2 774.7 232.9 770.9 234.6 767.0 236.3 763.2" stroke="#f9fbff"/>
<path d="M236.3 763.2 238.0 759.3 238.8 757.5 239.5 755.8" stroke="#f7f9fe"/>
<path d="M239.5 755.8 240.3 754.1 241.1 752.3 241.8 750.6 242.6 748.9 243.4 747.2" stroke="#f6f8fe"/>
<path d="M243.4 747.2 244.9 743.9 246.5 740.5 248.1 737.2" stroke="#f4f6fe"/>
<path d="M248.1 737.2 248.9 735.6 249.7 734.0 250.5 732.4 251.3 730.7 252.1 729.1" stroke="#f2f4fe"/>
<path d="M252.1 729.1 253.8 725.9 255.4 722.8 257.1 719.6" stroke="#f0f2fe"/>
<path d="M257.1 719.6 258.8 716.5 260.5 713.4 262.2 710.4" stroke="#eef0fe"/>
<path d="M262.2 710.4 263.1 708.9 264.0 707.3 264.8 705.8 265.7 704.4 266.6 702.9" stroke="#eceefe"/>
<path d="M266.6 702.9 268.4 699.9 270.2 697.0 272.0 694.1" stroke="#eaebfd"/>
<path d="M272.0 694.1 273.8 691.2 275.6 688.4 277.4 685.6" stroke="#e7e9fd"/>
<path d="M277.4 685.6 279.3 682.8 281.1 680.0 283.0 677.3" stroke="#e5e6fd"/>
<path d="M283.0 677.3 284.9 674.6 286.8 671.9 288.7 669.2" stroke="#e3e3fd"/>
<path d="M288.7 669.2 290.7 666.6 292.6 664.0 294.5 661.4 295.5 660.2" stroke="#e0e0fd"/>
<path d="M295.5 660.2 297.5 657.6 299.5 655.1 301.4 652.6" stroke="#dedcfc"/>
<path d="M301.4 652.6 303.4 650.2 305.4 647.7 307.5 645.3" stroke="#dbd9fc"/>
<path d="M307.5 645.3 309.5 642.9 311.5 640.6 313.6 638.3 314.6 637.1" stroke="#d9d5fc"/>
<path d="M314.6 637.1 316.6 634.8 318.7 632.5 320.8 630.3" stroke="#d6d1fc"/>
<path d="M320.8 630.3 322.9 628.1 325.0 625.9 327.1 623.7 328.1 622.6" stroke="#d4cefb"/>
<path d="M328.1 622.6 330.2 620.5 332.4 618.4 334.5 616.3 335.6 615.2" stroke="#d1c9fb"/>
<path d="M335.6 615.2 337.7 613.2 339.8 611.1 342.0 609.1" stroke="#cfc5fb"/>
<path d="M342.0 609.1 344.2 607.1 346.3 605.2 348.5 603.2 349.6 602.3" stroke="#ccc0fa"/>
<path d="M349.6 602.3 351.8 600.4 354.0 598.5 356.2 596.6 357.3 595.7" stroke="#cabcfa"/>
<path d="M357.3 595.7 359.5 593.9 361.7 592.0 363.9 590.3 365.0 589.4" stroke="#c7b7fa"/>
<path d="M365.0 589.4 367.2 587.6 369.4 585.9 371.6 584.2 372.8 583.3" stroke="#c4b2f9"/>
<path d="M372.8 583.3 375.0 581.6 377.2 580.0 379.5 578.3 381.7 576.7" stroke="#c1acf9"/>
<path d="M381.7 576.7 384.0 575.1 386.2 573.5 388.5 572.0 389.6 571.2" stroke="#bfa6f9"/>
<path d="M389.6 571.2 391.8 569.7 394.1 568.2 396.4 566.7 397.5 565.9" stroke="#bca1f8"/>
<path d="M397.5 565.9 399.8 564.5 402.0 563.0 404.3 561.6 406.5 560.2" stroke="#b99bf8"/>
<path d="M406.5 560.2 408.8 558.8 411.1 557.4 413.4 556.1 414.5 555.4" stroke="#b795f8"/>
<path d="M414.5 555.4 416.8 554.1 419.0 552.8 421.3 551.5 423.6 550.2" stroke="#b490f7"/>
<path d="M423.6 550.2 425.8 549.0 428.1 547.8 430.4 546.5 432.6 545.3" stroke="#b58ef7"/>
<path d="M432.6 545.3 434.9 544.2 437.2 543.0 439.4 541.9 441.7 540.7" stroke="#b58cf7"/>
<path d="M441.7 540.7 443.9 539.6 446.2 538.5 448.4 537.4 450.7 536.4" stroke="#b58bf7"/>
<path d="M450.7 536.4 452.9 535.3 455.2 534.3 457.4 533.3 459.7 532.3" stroke="#b58cf7"/>
<path d="M459.7 532.3 461.9 531.3 464.1 530.3 466.3 529.4 468.6 528.4" stroke="#b58df6"/>
<path d="M468.6 528.4 471.9 527.0 475.2 525.7 478.5 524.4" stroke="#b58ef6"/>
<path d="M478.5 524.4 480.7 523.5 482.9 522.7 485.1 521.8 487.2 521.0" stroke="#b48ff6"/>
<path d="M487.2 521.0 490.5 519.8 493.7 518.6 497.0 517.5" stroke="#b490f6"/>
<path d="M497.0 517.5 500.2 516.4 503.4 515.3 506.5 514.3" stroke="#b491f5"/>
<path d="M506.5 514.3 509.7 513.2 512.8 512.2 515.9 511.3" stroke="#b492f5"/>
<path d="M515.9 511.3 519.0 510.3 522.1 509.4 525.2 508.5" stroke="#b493f5"/>
<path d="M525.2 508.5 528.2 507.6 531.2 506.8 534.2 506.0 535.2 505.7" stroke="#b494f5"/>
<path d="M535.2 505.7 538.2 504.9 541.1 504.2 544.0 503.4 545.0 503.2" stroke="#b495f4"/>
<path d="M545.0 503.2 547.9 502.5 550.7 501.8 553.5 501.1 554.5 500.9" stroke="#b496f4"/>
<path d="M554.5 500.9 557.2 500.3 560.0 499.6 562.7 499.0 564.5 498.6" stroke="#b397f4"/>
<path d="M564.5 498.6 567.2 498.1 569.8 497.5 572.5 497.0 574.2 496.6" stroke="#b398f4"/>
<path d="M574.2 496.6 577.6 496.0 580.9 495.3 584.2 494.7" stroke="#b399f3"/>
<path d="M584.2 494.7 587.4 494.1 590.6 493.6 593.6 493.0" stroke="#b39af3"/>
<path d="M593.6 493.0 596.6 492.5 599.6 492.0 602.5 491.6 603.9 491.3" stroke="#b39bf3"/>
<path d="M603.9 491.3 607.3 490.8 610.6 490.3 613.8 489.8" stroke="#b29df2"/>
<path d="M613.8 489.8 616.9 489.3 619.9 488.9 622.7 488.4 623.2 488.3" stroke="#b29ef2"/>
<path d="M623.2 488.3 625.9 488.0 629.0 487.6 632.1 487.2 633.6 487.1" stroke="#b2a0f2"/>
<path d="M633.6 487.1 636.6 486.7 639.6 486.4 642.5 486.1 643.2 486.0" stroke="#b1a1f1"/>
<path d="M643.2 486.0 646.8 485.6 650.3 485.2 653.8 484.9" stroke="#b1a3f1"/>
<path d="M653.8 484.9 656.5 484.6 659.2 484.3 661.9 484.1 663.2 483.9" stroke="#b0a5f0"/>
<path d="M663.2 483.9 666.4 483.6 669.6 483.3 672.7 483.1 673.4 483.0" stroke="#b0a6f0"/>
<path d="M673.4 483.0 676.4 482.8 679.5 482.5 682.4 482.3 683.6 482.2" stroke="#b0a7f0"/>
<path d="M683.6 482.2 686.5 482.0 689.4 481.8 692.2 481.6 693.3 481.6" stroke="#b0a8f0"/>
<path d="M693.3 481.6 696.6 481.4 699.9 481.2 703.1 481.0 703.6 481.0" stroke="#b0a9f0"/>
<path d="M703.6 481.0 706.7 480.8 709.8 480.7 712.8 480.6 713.3 480.6" stroke="#afaaef"/>
<path d="M713.3 480.6 716.8 480.5 720.2 480.4 723.6 480.3" stroke="#afabef"/>
<path d="M723.6 480.3 726.9 480.3 730.2 480.3 733.4 480.3" stroke="#afabef"/>
<path d="M733.4 480.3 736.6 480.3 739.7 480.3 742.8 480.3 743.7 480.4" stroke="#afacef"/>
<path d="M743.7 480.4 746.8 480.4 749.8 480.5 752.9 480.6 753.8 480.6" stroke="#afadef"/>
<path d="M753.8 480.6 756.8 480.7 759.8 480.8 762.8 481.0 763.7 481.0" stroke="#afaeef"/>
<path d="M763.7 481.0 766.7 481.2 769.7 481.3 772.7 481.5 773.5 481.5" stroke="#afafef"/>
<path d="M773.5 481.5 776.6 481.7 779.6 481.9 782.7 482.1 783.6 482.1" stroke="#aeafee"/>
<path d="M783.6 482.1 786.7 482.3 789.8 482.6 792.9 482.8 793.8 482.8" stroke="#aeb0ee"/>
<path d="M793.8 482.8 797.0 483.0 800.3 483.3 803.6 483.5" stroke="#aeb1ee"/>
<path d="M803.6 483.5 806.9 483.7 810.3 484.0 813.7 484.2" stroke="#aeb2ee"/>
<path d="M813.7 484.2 816.7 484.4 819.8 484.6 822.9 484.8 823.9 484.9" stroke="#aeb3ee"/>
<path d="M823.9 484.9 827.1 485.1 830.3 485.3 834.3 485.5" stroke="#adb4ed"/>
<path d="M834.3 485.5 837.4 485.7 840.4 486.0 843.5 486.2 844.3 486.2" stroke="#adb6ed"/>
<path d="M844.3 486.2 847.3 486.5 850.4 486.7 853.4 486.9 854.1 487.0" stroke="#adb7ec"/>
<path d="M854.1 487.0 857.1 487.3 860.1 487.5 863.1 487.8 863.8 487.8" stroke="#acb9ec"/>
<path d="M863.8 487.8 866.8 488.1 869.8 488.4 872.7 488.6 874.2 488.8" stroke="#acbaeb"/>
<path d="M874.2 488.8 877.1 489.1 880.0 489.3 882.9 489.6 883.6 489.7" stroke="#abbceb"/>
<path d="M883.6 489.7 886.5 490.0 889.4 490.2 892.3 490.5 893.7 490.6" stroke="#abbdea"/>
<path d="M893.7 490.6 896.6 490.9 899.5 491.2 902.3 491.5 903.7 491.6" stroke="#abbeea"/>
<path d="M903.7 491.6 906.6 491.9 909.4 492.1 912.3 492.4 913.7 492.5" stroke="#aac0e9"/>
<path d="M913.7 492.5 917.2 492.8 920.7 493.1 924.3 493.4" stroke="#aac1e8"/>
<path d="M924.3 493.4 927.1 493.6 929.9 493.9 932.7 494.1 934.1 494.2" stroke="#a9c3e8"/>
<path d="M934.1 494.2 936.9 494.4 939.7 494.6 942.6 494.7 944.0 494.8" stroke="#a9c4e7"/>
<path d="M944.0 494.8 946.8 495.0 949.6 495.1 952.4 495.3 953.8 495.4" stroke="#a9c5e7"/>
<path d="M953.8 495.4 956.6 495.5 959.4 495.6 962.3 495.7 963.7 495.7" stroke="#a8c7e6"/>
<path d="M963.7 495.7 967.2 495.8 970.8 495.9 974.3 495.9" stroke="#a8c9e6"/>
<path d="M974.3 495.9 977.2 496.0 980.0 496.0 982.9 496.0 984.3 495.9" stroke="#a8cbe4"/>
<path d="M984.3 495.9 987.2 495.9 990.1 495.9 993.0 495.8 994.4 495.7" stroke="#a7cee3"/>
<path d="M994.4 495.7 997.3 495.6 1000.2 495.5 1003.1 495.4 1003.9 495.3" stroke="#a7d1e2"/>
<path d="M1003.9 495.3 1006.8 495.1 1009.7 494.9 1012.7 494.7 1014.2 494.6" stroke="#a7d3e1"/>
<path d="M1014.2 494.6 1017.1 494.4 1020.1 494.1 1023.1 493.8 1023.9 493.7" stroke="#a6d6e0"/>
<path d="M1023.9 493.7 1026.9 493.4 1029.9 493.0 1032.9 492.7 1034.5 492.5" stroke="#a6d9de"/>
<path d="M1034.5 492.5 1037.5 492.0 1040.6 491.6 1043.7 491.1 1044.5 491.0" stroke="#a6dbde"/>
<path d="M1044.5 491.0 1047.6 490.5 1050.7 490.0 1053.8 489.4" stroke="#a6dddd"/>
<path d="M1053.8 489.4 1057.0 488.8 1060.2 488.2 1063.4 487.5 1064.2 487.4" stroke="#a6dedd"/>
<path d="M1064.2 487.4 1067.4 486.7 1070.7 485.9 1073.9 485.2" stroke="#a6e0dc"/>
<path d="M1073.9 485.2 1077.2 484.4 1080.5 483.6 1083.8 482.7" stroke="#a6e2dc"/>
<path d="M1083.8 482.7 1086.4 482.1 1088.9 481.4 1091.4 480.7 1093.1 480.2" stroke="#a6e3db"/>
<path d="M1093.1 480.2 1095.7 479.5 1098.2 478.7 1100.8 477.9 1102.5 477.4" stroke="#a6e5db"/>
<path d="M1102.5 477.4 1105.1 476.6 1107.8 475.7 1110.4 474.9 1112.2 474.3" stroke="#a6e7da"/>
<path d="M1112.2 474.3 1114.8 473.4 1117.5 472.5 1120.2 471.6 1122.0 470.9" stroke="#a6e8da"/>
<path d="M1122.0 470.9 1124.7 470.0 1127.4 469.0 1130.1 468.0 1131.1 467.6" stroke="#a7e9da"/>
<path d="M1131.1 467.6 1133.8 466.6 1136.7 465.4 1139.7 464.1 1140.7 463.6" stroke="#a8e9da"/>
<path d="M1140.7 463.6 1143.6 462.3 1146.5 460.9 1149.4 459.4" stroke="#aaeadb"/>
<path d="M1149.4 459.4 1152.3 457.9 1155.2 456.4 1158.1 454.9 1159.0 454.3" stroke="#abebdb"/>
<path d="M1159.0 454.3 1161.8 452.7 1164.6 451.1 1167.4 449.4" stroke="#acecdb"/>
<path d="M1167.4 449.4 1170.2 447.6 1173.0 445.9 1175.7 444.0" stroke="#adecdb"/>
<path d="M1175.7 444.0 1178.4 442.2 1181.2 440.3 1183.8 438.4" stroke="#aeeddc"/>
<path d="M1183.8 438.4 1186.5 436.4 1189.2 434.4 1191.8 432.3" stroke="#afeedc"/>
<path d="M1191.8 432.3 1194.4 430.2 1197.0 428.1 1199.6 425.9" stroke="#b1eedc"/>
<path d="M1199.6 425.9 1202.1 423.7 1204.7 421.5 1207.2 419.2" stroke="#b3efdd"/>
<path d="M1207.2 419.2 1209.7 416.8 1212.2 414.5 1214.6 412.1" stroke="#b5efde"/>
<path d="M1214.6 412.1 1217.1 409.6 1219.5 407.2 1221.9 404.6" stroke="#b7f0df"/>
<path d="M1221.9 404.6 1223.5 402.9 1225.1 401.2 1226.6 399.5 1228.2 397.7" stroke="#b9f0e0"/>
<path d="M1228.2 397.7 1230.5 395.1 1232.8 392.4 1235.1 389.6" stroke="#bbf1e0"/>
<path d="M1235.1 389.6 1236.6 387.8 1238.1 385.9 1239.6 384.1 1241.1 382.2" stroke="#bdf1e1"/>
<path d="M1241.1 382.2 1242.5 380.3 1244.0 378.3 1245.5 376.4 1246.9 374.4" stroke="#bff2e2"/>
<path d="M1246.9 374.4 1249.1 371.5 1251.2 368.4 1253.3 365.4" stroke="#c1f2e3"/>
<path d="M1253.3 365.4 1254.7 363.4 1256.1 361.3 1257.4 359.2 1258.8 357.1" stroke="#c3f3e4"/>
<path d="M1258.8 357.1 1260.1 355.0 1261.5 352.9 1262.8 350.7 1264.1 348.5" stroke="#c5f3e4"/>
<path d="M1264.1 348.5 1265.4 346.4 1266.7 344.2 1268.0 341.9 1268.7 340.8" stroke="#c5f3e5"/>
<path d="M1268.7 340.8 1269.9 338.6 1271.2 336.3 1272.5 334.1 1273.7 331.8" stroke="#c6f4e5"/>
<path d="M1273.7 331.8 1274.9 329.5 1276.2 327.2 1277.4 324.8 1278.6 322.5" stroke="#c7f4e5"/>
<path d="M1278.6 322.5 1279.8 320.1 1281.0 317.7 1282.1 315.3 1282.7 314.1" stroke="#c8f4e6"/>
<path d="M1282.7 314.1 1283.9 311.7 1285.0 309.3 1286.1 306.8 1287.3 304.4" stroke="#c9f4e6"/>
<path d="M1287.3 304.4 1288.4 301.9 1289.5 299.4 1290.6 296.9 1291.1 295.6" stroke="#caf4e7"/>
<path d="M1291.1 295.6 1292.2 293.1 1293.2 290.5 1294.3 287.9 1294.8 286.6" stroke="#cbf5e7"/>
<path d="M1294.8 286.6 1295.8 284.0 1296.9 281.4 1297.9 278.8 1298.9 276.2" stroke="#ccf5e7"/>
<path d="M1298.9 276.2 1299.9 273.5 1300.9 270.8 1301.8 268.2 1302.3 266.8" stroke="#cdf5e8"/>
<path d="M1302.3 266.8 1303.3 264.1 1304.2 261.4 1305.1 258.6 1305.6 257.3" stroke="#cef5e8"/>
<path d="M1305.6 257.3 1306.5 254.5 1307.4 251.7 1308.3 248.9 1308.7 247.5" stroke="#cff5e9"/>
<path d="M1308.7 247.5 1309.6 244.7 1310.5 241.9 1311.3 239.0" stroke="#d0f6e9"/>
<path d="M1311.3 239.0 1312.1 236.2 1313.0 233.3 1313.8 230.4 1314.2 229.0" stroke="#d0f6e9"/>
<path d="M1314.2 229.0 1315.0 226.0 1315.8 223.1 1316.5 220.2 1316.9 218.7" stroke="#d1f6ea"/>
<path d="M1316.9 218.7 1317.7 215.7 1318.4 212.7 1319.1 209.7" stroke="#d2f6ea"/>
<path d="M1319.1 209.7 1319.8 206.7 1320.6 203.7 1321.2 200.7 1321.6 199.1" stroke="#d2f6ea"/>
<path d="M261.1 794.6 262.7 790.6 263.4 788.8 264.1 787.0" stroke="#f7f9fe"/>
<path d="M264.1 787.0 264.9 785.2 265.6 783.4 266.3 781.6 267.0 779.9 267.7 778.1" stroke="#f6f8fe"/>
<path d="M267.7 778.1 268.5 776.3 269.2 774.6 270.0 772.9 270.7 771.1 271.5 769.4" stroke="#f4f6fe"/>
<path d="M271.5 769.4 273.0 766.0 274.5 762.6 276.1 759.2" stroke="#f2f4fe"/>
<path d="M276.1 759.2 276.9 757.6 277.7 755.9 278.5 754.2 279.3 752.6 280.1 751.0" stroke="#f0f2fe"/>
<path d="M280.1 751.0 281.7 747.7 283.3 744.5 284.9 741.3" stroke="#eef0fe"/>
<path d="M284.9 741.3 285.8 739.7 286.6 738.1 287.4 736.6 288.3 735.0 289.1 733.4" stroke="#eceefe"/>
<path d="M289.1 733.4 290.8 730.3 292.6 727.3 294.3 724.3" stroke="#eaebfd"/>
<path d="M294.3 724.3 296.0 721.3 297.8 718.3 299.6 715.3" stroke="#e7e9fd"/>
<path d="M299.6 715.3 301.4 712.4 303.2 709.5 305.0 706.7" stroke="#e5e6fd"/>
<path d="M305.0 706.7 306.8 703.8 308.7 701.0 310.5 698.3" stroke="#e3e3fd"/>
<path d="M310.5 698.3 312.4 695.5 314.3 692.8 316.2 690.1" stroke="#e1e0fd"/>
<path d="M316.2 690.1 318.1 687.5 320.0 684.8 322.0 682.2" stroke="#deddfc"/>
<path d="M322.0 682.2 323.9 679.6 325.9 677.1 327.8 674.5" stroke="#dcd9fc"/>
<path d="M327.8 674.5 329.8 672.0 331.8 669.6 333.8 667.1 334.8 665.9" stroke="#d9d6fc"/>
<path d="M334.8 665.9 336.8 663.5 338.8 661.1 340.9 658.7" stroke="#d7d2fc"/>
<path d="M340.9 658.7 342.9 656.4 345.0 654.1 347.0 651.8" stroke="#d4cefb"/>
<path d="M347.0 651.8 349.1 649.5 351.2 647.3 353.3 645.1 354.3 644.0" stroke="#d2cafb"/>
<path d="M354.3 644.0 356.4 641.8 358.6 639.7 360.7 637.6 361.7 636.5" stroke="#cfc5fb"/>
<path d="M361.7 636.5 363.9 634.4 366.0 632.4 368.2 630.3" stroke="#cdc1fa"/>
<path d="M368.2 630.3 370.3 628.3 372.5 626.3 374.6 624.3 375.7 623.4" stroke="#cabdfa"/>
<path d="M375.7 623.4 377.9 621.4 380.1 619.5 382.3 617.6 383.4 616.7" stroke="#c8b8fa"/>
<path d="M383.4 616.7 385.6 614.8 387.8 613.0 390.0 611.2 391.1 610.3" stroke="#c5b2fa"/>
<path d="M391.1 610.3 393.3 608.5 395.5 606.7 397.7 605.0 398.8 604.1" stroke="#c2adf9"/>
<path d="M398.8 604.1 401.1 602.4 403.3 600.8 405.5 599.1 406.7 598.3" stroke="#c0a8f9"/>
<path d="M406.7 598.3 408.9 596.7 411.1 595.0 413.4 593.5 415.6 591.9" stroke="#bda2f8"/>
<path d="M415.6 591.9 417.9 590.3 420.2 588.8 422.4 587.3 423.5 586.6" stroke="#ba9cf8"/>
<path d="M423.5 586.6 425.8 585.1 428.1 583.6 430.3 582.2 432.6 580.8" stroke="#b796f8"/>
<path d="M432.6 580.8 434.8 579.4 437.1 578.0 439.4 576.6 440.5 576.0" stroke="#b490f7"/>
<path d="M440.5 576.0 442.8 574.6 445.0 573.3 447.3 572.0 449.6 570.8" stroke="#b58ef7"/>
<path d="M449.6 570.8 451.8 569.5 454.1 568.3 456.4 567.0 458.6 565.8" stroke="#b58cf7"/>
<path d="M458.6 565.8 460.9 564.7 463.1 563.5 465.4 562.3 466.5 561.8" stroke="#b58af7"/>
<path d="M466.5 561.8 468.8 560.6 471.0 559.5 473.3 558.4 475.5 557.4" stroke="#b58bf7"/>
<path d="M475.5 557.4 478.9 555.8 482.2 554.2 485.6 552.7" stroke="#b58cf7"/>
<path d="M485.6 552.7 487.8 551.7 490.0 550.8 492.3 549.8 494.5 548.9" stroke="#b58df6"/>
<path d="M494.5 548.9 496.7 547.9 498.9 547.0 501.1 546.1 503.3 545.3" stroke="#b48ef6"/>
<path d="M503.3 545.3 506.5 544.0 509.8 542.7 513.0 541.5" stroke="#b48ff6"/>
<path d="M513.0 541.5 516.3 540.3 519.5 539.1 522.7 538.0" stroke="#b490f5"/>
<path d="M522.7 538.0 525.9 536.9 529.1 535.8 532.2 534.8" stroke="#b491f5"/>
<path d="M532.2 534.8 535.3 533.7 538.4 532.7 541.5 531.8" stroke="#b492f5"/>
<path d="M541.5 531.8 544.6 530.8 547.6 529.9 550.7 529.0" stroke="#b493f5"/>
<path d="M550.7 529.0 553.7 528.2 556.6 527.4 559.6 526.6 560.6 526.3" stroke="#b494f4"/>
<path d="M560.6 526.3 563.5 525.5 566.4 524.8 569.2 524.0 570.2 523.8" stroke="#b495f4"/>
<path d="M570.2 523.8 573.0 523.1 575.8 522.4 578.6 521.8 580.4 521.3" stroke="#b396f4"/>
<path d="M580.4 521.3 583.1 520.7 585.8 520.1 588.4 519.5 590.2 519.1" stroke="#b397f4"/>
<path d="M590.2 519.1 592.8 518.6 595.4 518.0 597.9 517.5 599.5 517.2" stroke="#b398f3"/>
<path d="M599.5 517.2 602.8 516.5 606.0 515.9 609.2 515.3" stroke="#b399f3"/>
<path d="M609.2 515.3 612.3 514.8 615.3 514.2 618.2 513.7 619.7 513.5" stroke="#b39af3"/>
<path d="M619.7 513.5 622.5 513.0 625.2 512.5 627.9 512.1 629.2 511.8" stroke="#b39cf3"/>
<path d="M629.2 511.8 632.4 511.3 635.5 510.8 638.4 510.4 638.9 510.3" stroke="#b29df2"/>
<path d="M638.9 510.3 641.7 509.8 644.3 509.4 647.9 508.9 649.3 508.7" stroke="#b29ff2"/>
<path d="M649.3 508.7 652.2 508.4 655.0 508.0 657.7 507.7 659.1 507.5" stroke="#b1a1f1"/>
<path d="M659.1 507.5 662.5 507.1 665.8 506.7 669.0 506.3" stroke="#b1a2f1"/>
<path d="M669.0 506.3 672.2 505.9 675.4 505.6 678.5 505.2 679.1 505.1" stroke="#b1a4f1"/>
<path d="M679.1 505.1 682.1 504.8 685.1 504.5 688.1 504.2 688.6 504.1" stroke="#b0a5f0"/>
<path d="M688.6 504.1 692.1 503.8 695.5 503.5 698.8 503.2" stroke="#b0a7f0"/>
<path d="M698.8 503.2 702.1 502.9 705.3 502.6 708.5 502.4 709.0 502.3" stroke="#b0a7f0"/>
<path d="M709.0 502.3 712.1 502.1 715.1 501.9 718.1 501.7 718.6 501.7" stroke="#b0a8f0"/>
<path d="M718.6 501.7 722.1 501.4 725.5 501.3 728.8 501.1" stroke="#afa9ef"/>
<path d="M728.8 501.1 732.1 500.9 735.3 500.8 738.5 500.7 738.9 500.7" stroke="#afaaef"/>
<path d="M738.9 500.7 742.0 500.6 745.1 500.5 748.2 500.4 749.1 500.4" stroke="#afabef"/>
<path d="M749.1 500.4 752.1 500.4 755.1 500.4 758.1 500.4 758.9 500.4" stroke="#afacef"/>
<path d="M758.9 500.4 762.3 500.4 765.7 500.4 769.0 500.4" stroke="#afadef"/>
<path d="M769.0 500.4 772.3 500.5 775.7 500.6 779.0 500.7" stroke="#afadef"/>
<path d="M779.0 500.7 782.4 500.8 785.7 500.9 789.1 501.0" stroke="#afaeef"/>
<path d="M789.1 501.0 792.1 501.1 795.1 501.2 798.1 501.4 799.0 501.4" stroke="#aeafee"/>
<path d="M799.0 501.4 802.1 501.6 805.2 501.7 808.3 501.9 809.2 501.9" stroke="#aeb0ee"/>
<path d="M809.2 501.9 812.4 502.1 815.7 502.2 818.9 502.4" stroke="#aeb1ee"/>
<path d="M818.9 502.4 822.3 502.5 825.7 502.7 829.1 502.9" stroke="#aeb1ee"/>
<path d="M829.1 502.9 832.1 503.0 835.2 503.2 838.3 503.3 839.4 503.4" stroke="#aeb2ee"/>
<path d="M839.4 503.4 842.0 503.5 845.6 503.6 849.4 503.8" stroke="#aeb4ed"/>
<path d="M849.4 503.8 852.4 504.0 855.4 504.1 858.4 504.3 859.2 504.4" stroke="#adb5ed"/>
<path d="M859.2 504.4 862.2 504.5 865.2 504.7 868.1 504.9 869.6 505.0" stroke="#adb7ec"/>
<path d="M869.6 505.0 872.6 505.2 875.5 505.4 878.4 505.6 879.2 505.6" stroke="#acb8ec"/>
<path d="M879.2 505.6 882.1 505.8 885.0 506.0 887.9 506.2 889.3 506.3" stroke="#acbaeb"/>
<path d="M889.3 506.3 892.2 506.5 895.1 506.7 898.0 506.9 899.4 507.0" stroke="#abbbeb"/>
<path d="M899.4 507.0 902.3 507.2 905.2 507.5 908.0 507.6 909.4 507.7" stroke="#abbdea"/>
<path d="M909.4 507.7 912.3 507.9 915.1 508.1 918.0 508.3 919.4 508.4" stroke="#abbeea"/>
<path d="M919.4 508.4 922.2 508.6 925.0 508.8 927.9 508.9 929.3 509.0" stroke="#aac0e9"/>
<path d="M929.3 509.0 932.1 509.2 934.9 509.3 937.7 509.5 939.2 509.5" stroke="#aac1e9"/>
<path d="M939.2 509.5 942.7 509.7 946.2 509.8 949.7 510.0" stroke="#aac2e8"/>
<path d="M949.7 510.0 952.5 510.1 955.3 510.2 958.2 510.2 959.6 510.3" stroke="#a9c4e7"/>
<path d="M959.6 510.3 962.4 510.3 965.2 510.4 968.0 510.4 969.5 510.4" stroke="#a9c6e7"/>
<path d="M969.5 510.4 972.3 510.4 975.1 510.4 978.0 510.4 979.4 510.4" stroke="#a8c7e6"/>
<path d="M979.4 510.4 982.2 510.4 985.1 510.3 987.9 510.2 989.3 510.2" stroke="#a8c9e6"/>
<path d="M989.3 510.2 992.2 510.1 995.1 510.0 997.9 509.8 999.4 509.8" stroke="#a8cce4"/>
<path d="M999.4 509.8 1002.3 509.6 1005.2 509.4 1008.1 509.2 1009.5 509.1" stroke="#a7cee3"/>
<path d="M1009.5 509.1 1012.4 508.9 1015.3 508.6 1018.3 508.4 1019.7 508.2" stroke="#a7d1e2"/>
<path d="M1019.7 508.2 1022.7 507.9 1025.6 507.6 1028.6 507.2 1029.3 507.1" stroke="#a7d4e1"/>
<path d="M1029.3 507.1 1032.3 506.8 1035.3 506.3 1038.3 505.9 1039.8 505.7" stroke="#a6d7df"/>
<path d="M1039.8 505.7 1042.8 505.2 1045.8 504.7 1048.9 504.2 1049.6 504.1" stroke="#a6dade"/>
<path d="M1049.6 504.1 1052.7 503.5 1055.8 502.9 1058.9 502.3" stroke="#a6dcde"/>
<path d="M1058.9 502.3 1062.0 501.7 1065.1 501.0 1068.2 500.3 1069.0 500.1" stroke="#a6dddd"/>
<path d="M1069.0 500.1 1072.1 499.4 1075.3 498.6 1078.5 497.8" stroke="#a6dfdd"/>
<path d="M1078.5 497.8 1081.7 497.0 1084.9 496.1 1088.1 495.2" stroke="#a6e1dc"/>
<path d="M1088.1 495.2 1091.4 494.3 1094.7 493.3 1098.0 492.3" stroke="#a6e2dc"/>
<path d="M1098.0 492.3 1101.3 491.3 1104.6 490.2 1107.9 489.1" stroke="#a6e4db"/>
<path d="M1107.9 489.1 1110.5 488.2 1113.0 487.4 1115.6 486.5 1117.3 485.8" stroke="#a6e6db"/>
<path d="M1117.3 485.8 1119.8 484.9 1122.4 484.0 1125.0 483.0 1126.7 482.3" stroke="#a6e8da"/>
<path d="M1126.7 482.3 1129.4 481.3 1132.0 480.3 1134.6 479.2 1136.4 478.5" stroke="#a7e9da"/>
<path d="M1136.4 478.5 1139.0 477.4 1141.7 476.3 1144.6 475.0 1145.6 474.5" stroke="#a8e9da"/>
<path d="M1145.6 474.5 1148.5 473.1 1151.5 471.6 1154.4 470.1" stroke="#a9eadb"/>
<path d="M1154.4 470.1 1157.3 468.5 1160.1 466.9 1163.0 465.3" stroke="#aaebdb"/>
<path d="M1163.0 465.3 1165.8 463.6 1168.7 461.9 1171.5 460.2" stroke="#abebdb"/>
<path d="M1171.5 460.2 1174.3 458.4 1177.0 456.5 1179.8 454.7" stroke="#acecdb"/>
<path d="M1179.8 454.7 1182.5 452.7 1185.2 450.8 1187.9 448.8" stroke="#aeeddc"/>
<path d="M1187.9 448.8 1190.6 446.8 1193.2 444.7 1195.9 442.6" stroke="#afeddc"/>
<path d="M1195.9 442.6 1198.5 440.5 1201.1 438.3 1203.7 436.1" stroke="#b0eedc"/>
<path d="M1203.7 436.1 1206.2 433.8 1208.8 431.5 1211.3 429.2" stroke="#b2efdd"/>
<path d="M1211.3 429.2 1213.0 427.6 1214.6 426.0 1216.3 424.4 1217.9 422.7" stroke="#b4efde"/>
<path d="M1217.9 422.7 1220.4 420.3 1222.8 417.7 1225.2 415.2" stroke="#b6efde"/>
<path d="M1225.2 415.2 1227.6 412.6 1230.0 410.0 1232.3 407.3" stroke="#b8f0df"/>
<path d="M1232.3 407.3 1233.9 405.5 1235.4 403.7 1236.9 401.9 1238.4 400.0" stroke="#baf1e0"/>
<path d="M1238.4 400.0 1240.0 398.2 1241.5 396.3 1243.0 394.4 1244.4 392.5" stroke="#bcf1e1"/>
<path d="M1244.4 392.5 1246.6 389.6 1248.8 386.6 1251.0 383.7" stroke="#bef2e2"/>
<path d="M1251.0 383.7 1252.4 381.7 1253.8 379.7 1255.3 377.6 1256.7 375.6" stroke="#c0f2e3"/>
<path d="M1256.7 375.6 1258.0 373.5 1259.4 371.4 1260.8 369.3 1262.2 367.2" stroke="#c2f3e3"/>
<path d="M1262.2 367.2 1263.5 365.1 1264.9 362.9 1266.2 360.8 1267.5 358.6" stroke="#c4f3e4"/>
<path d="M1267.5 358.6 1268.8 356.4 1270.1 354.2 1271.4 351.9 1272.0 350.8" stroke="#c5f3e4"/>
<path d="M1272.0 350.8 1273.3 348.6 1274.6 346.3 1275.8 344.0 1277.1 341.7" stroke="#c6f3e5"/>
<path d="M1277.1 341.7 1278.3 339.4 1279.5 337.1 1280.7 334.7 1281.9 332.4" stroke="#c7f4e5"/>
<path d="M1281.9 332.4 1283.1 330.0 1284.3 327.6 1285.5 325.2 1286.1 324.0" stroke="#c8f4e6"/>
<path d="M1286.1 324.0 1287.2 321.6 1288.4 319.1 1289.5 316.6 1290.6 314.2" stroke="#c9f4e6"/>
<path d="M1290.6 314.2 1291.7 311.7 1292.8 309.2 1293.9 306.6 1294.4 305.4" stroke="#caf4e6"/>
<path d="M1294.4 305.4 1295.5 302.8 1296.6 300.3 1297.6 297.7 1298.1 296.4" stroke="#cbf4e7"/>
<path d="M1298.1 296.4 1299.2 293.8 1300.2 291.2 1301.2 288.5 1301.7 287.2" stroke="#ccf5e7"/>
<path d="M1301.7 287.2 1302.7 284.6 1303.7 281.9 1304.6 279.2 1305.6 276.5" stroke="#cdf5e8"/>
<path d="M1305.6 276.5 1306.5 273.8 1307.5 271.1 1308.4 268.3" stroke="#cdf5e8"/>
<path d="M1308.4 268.3 1309.3 265.6 1310.2 262.8 1311.1 260.0 1311.5 258.6" stroke="#cef5e8"/>
<path d="M1311.5 258.6 1312.4 255.8 1313.3 253.0 1314.1 250.1 1314.5 248.7" stroke="#cff5e9"/>
<path d="M1314.5 248.7 1315.4 245.8 1316.2 242.9 1317.0 240.0 1317.4 238.6" stroke="#d0f6e9"/>
<path d="M1317.4 238.6 1318.2 235.7 1318.9 232.7 1319.7 229.8" stroke="#d1f6ea"/>
<path d="M1319.7 229.8 1320.5 226.8 1321.2 223.9 1321.9 220.9 1322.3 219.4" stroke="#d2f6ea"/>
<path d="M1322.3 219.4 1323.0 216.4 1323.7 213.3 1324.4 210.3" stroke="#d2f6ea"/>
<path d="M1324.4 210.3 1325.1 207.2 1325.7 204.2 1326.4 201.1 1326.7 199.5" stroke="#d2f6ea"/>
<path d="M295.3 799.3 296.0 797.5 296.7 795.7 297.5 794.0 298.2 792.2 298.9 790.5" stroke="#f2f4fe"/>
<path d="M298.9 790.5 300.4 787.0 301.9 783.6 303.5 780.1" stroke="#f0f2fe"/>
<path d="M303.5 780.1 304.2 778.5 305.0 776.8 305.8 775.1 306.6 773.4 307.3 771.8" stroke="#eef0fe"/>
<path d="M307.3 771.8 308.9 768.5 310.5 765.2 312.2 761.9" stroke="#eceefe"/>
<path d="M312.2 761.9 313.0 760.3 313.8 758.7 314.6 757.1 315.5 755.6 316.3 754.0" stroke="#eaebfd"/>
<path d="M316.3 754.0 318.0 750.9 319.7 747.8 321.4 744.7" stroke="#e8e9fd"/>
<path d="M321.4 744.7 323.1 741.6 324.9 738.6 326.6 735.6" stroke="#e5e6fd"/>
<path d="M326.6 735.6 327.5 734.2 328.4 732.7 329.3 731.2 330.2 729.8 331.1 728.3" stroke="#e3e3fd"/>
<path d="M331.1 728.3 332.9 725.4 334.7 722.6 336.6 719.8" stroke="#e1e0fd"/>
<path d="M336.6 719.8 338.4 717.0 340.3 714.2 342.2 711.5" stroke="#dfddfc"/>
<path d="M342.2 711.5 344.0 708.8 345.9 706.1 347.9 703.4" stroke="#dcdafc"/>
<path d="M347.9 703.4 349.8 700.8 351.7 698.2 353.7 695.6 354.7 694.4" stroke="#dad6fc"/>
<path d="M354.7 694.4 356.6 691.8 358.6 689.3 360.6 686.9" stroke="#d7d2fc"/>
<path d="M360.6 686.9 362.6 684.4 364.6 682.0 366.7 679.6" stroke="#d5cefb"/>
<path d="M366.7 679.6 368.7 677.2 370.7 674.9 372.8 672.6 373.8 671.4" stroke="#d2cafb"/>
<path d="M373.8 671.4 375.9 669.1 378.0 666.9 380.1 664.7" stroke="#d0c6fb"/>
<path d="M380.1 664.7 382.2 662.5 384.3 660.3 386.4 658.1 387.4 657.1" stroke="#cdc2fb"/>
<path d="M387.4 657.1 389.6 654.9 391.7 652.9 393.8 650.8 394.9 649.8" stroke="#cbbdfa"/>
<path d="M394.9 649.8 397.1 647.7 399.2 645.7 401.4 643.7" stroke="#c8b8fa"/>
<path d="M401.4 643.7 403.5 641.8 405.7 639.8 407.9 637.9 409.0 637.0" stroke="#c5b3fa"/>
<path d="M409.0 637.0 411.2 635.1 413.4 633.3 415.6 631.4 416.7 630.5" stroke="#c3aef9"/>
<path d="M416.7 630.5 418.9 628.7 421.1 626.9 423.3 625.2 424.5 624.3" stroke="#c0a9f9"/>
<path d="M424.5 624.3 426.7 622.6 428.9 620.9 431.1 619.2 432.3 618.4" stroke="#bda3f9"/>
<path d="M432.3 618.4 434.5 616.8 436.7 615.1 439.0 613.5 441.2 612.0" stroke="#ba9df8"/>
<path d="M441.2 612.0 443.5 610.4 445.7 608.9 448.0 607.3 449.1 606.6" stroke="#b897f8"/>
<path d="M449.1 606.6 451.4 605.1 453.6 603.6 455.9 602.2 458.2 600.8" stroke="#b590f7"/>
<path d="M458.2 600.8 460.4 599.4 462.7 598.0 464.9 596.6 466.1 595.9" stroke="#b58ef7"/>
<path d="M466.1 595.9 468.3 594.6 470.6 593.3 472.9 592.0 475.1 590.7" stroke="#b58cf7"/>
<path d="M475.1 590.7 477.4 589.4 479.7 588.2 481.9 587.0 484.2 585.7" stroke="#b58af7"/>
<path d="M484.2 585.7 486.4 584.6 488.7 583.4 490.9 582.2 492.1 581.7" stroke="#b58af7"/>
<path d="M492.1 581.7 494.3 580.5 496.5 579.4 498.8 578.3 501.0 577.2" stroke="#b58bf7"/>
<path d="M501.0 577.2 504.4 575.7 507.7 574.1 511.1 572.6" stroke="#b58cf6"/>
<path d="M511.1 572.6 513.3 571.6 515.5 570.6 517.7 569.7 519.9 568.8" stroke="#b58ef6"/>
<path d="M519.9 568.8 522.1 567.8 524.3 566.9 526.5 566.0 528.7 565.2" stroke="#b48ff6"/>
<path d="M528.7 565.2 531.9 563.9 535.2 562.6 538.4 561.4" stroke="#b490f6"/>
<path d="M538.4 561.4 541.6 560.2 544.8 559.0 548.0 557.9" stroke="#b491f5"/>
<path d="M548.0 557.9 551.1 556.8 554.3 555.7 557.4 554.7" stroke="#b492f5"/>
<path d="M557.4 554.7 560.5 553.7 563.6 552.7 566.6 551.8" stroke="#b493f5"/>
<path d="M566.6 551.8 569.6 550.8 572.7 549.9 575.6 549.1 576.6 548.8" stroke="#b494f5"/>
<path d="M576.6 548.8 579.6 547.9 582.5 547.1 585.4 546.3 586.4 546.1" stroke="#b495f4"/>
<path d="M586.4 546.1 589.2 545.3 592.0 544.6 594.8 543.9 595.8 543.6" stroke="#b496f4"/>
<path d="M595.8 543.6 598.5 543.0 601.3 542.3 604.0 541.7 605.7 541.3" stroke="#b397f4"/>
<path d="M605.7 541.3 608.4 540.6 611.0 540.1 613.6 539.5 615.3 539.1" stroke="#b398f4"/>
<path d="M615.3 539.1 618.6 538.4 621.9 537.7 625.1 537.1" stroke="#b399f3"/>
<path d="M625.1 537.1 628.2 536.5 631.3 535.9 634.3 535.3 635.0 535.2" stroke="#b399f3"/>
<path d="M635.0 535.2 637.9 534.7 640.8 534.2 643.5 533.7 644.8 533.4" stroke="#b39bf3"/>
<path d="M644.8 533.4 648.1 532.9 651.3 532.3 654.3 531.8" stroke="#b29cf2"/>
<path d="M654.3 531.8 657.7 531.2 660.9 530.7 663.9 530.2 664.6 530.1" stroke="#b29ef2"/>
<path d="M664.6 530.1 667.9 529.6 671.1 529.2 674.3 528.7" stroke="#b2a0f2"/>
<path d="M674.3 528.7 677.5 528.3 680.6 527.8 683.7 527.4 684.3 527.4" stroke="#b1a1f1"/>
<path d="M684.3 527.4 687.3 527.0 690.2 526.6 693.1 526.2 694.3 526.1" stroke="#b1a3f1"/>
<path d="M694.3 526.1 697.7 525.6 701.0 525.2 704.3 524.9" stroke="#b0a5f0"/>
<path d="M704.3 524.9 707.5 524.5 710.7 524.1 713.8 523.8 714.3 523.8" stroke="#b0a6f0"/>
<path d="M714.3 523.8 717.4 523.4 720.4 523.1 723.3 522.9 724.3 522.8" stroke="#b0a7f0"/>
<path d="M724.3 522.8 727.7 522.5 731.0 522.2 734.3 521.9" stroke="#b0a8f0"/>
<path d="M734.3 521.9 737.5 521.7 740.7 521.4 743.8 521.2 744.2 521.2" stroke="#b0a9f0"/>
<path d="M744.2 521.2 747.3 521.0 750.4 520.8 753.4 520.7 754.2 520.6" stroke="#afaaef"/>
<path d="M754.2 520.6 757.2 520.5 760.1 520.4 763.0 520.3 763.9 520.2" stroke="#afabef"/>
<path d="M763.9 520.2 767.2 520.1 770.5 520.0 773.7 520.0 774.1 520.0" stroke="#afabef"/>
<path d="M774.1 520.0 777.4 519.9 780.6 519.9 783.8 519.9 784.3 519.9" stroke="#afacef"/>
<path d="M784.3 519.9 787.5 519.9 790.8 519.9 794.0 519.9" stroke="#afadef"/>
<path d="M794.0 519.9 797.3 519.9 800.6 520.0 803.9 520.0 804.4 520.0" stroke="#afaeef"/>
<path d="M804.4 520.0 807.3 520.1 810.3 520.2 813.3 520.2 814.1 520.3" stroke="#afafef"/>
<path d="M814.1 520.3 817.2 520.3 820.3 520.4 823.4 520.5 824.3 520.5" stroke="#aeb0ee"/>
<path d="M824.3 520.5 827.5 520.6 830.8 520.7 834.0 520.8 834.5 520.8" stroke="#aeb0ee"/>
<path d="M834.5 520.8 837.4 520.9 840.3 521.0 843.3 521.1 844.3 521.1" stroke="#aeb1ee"/>
<path d="M844.3 521.1 847.3 521.2 850.4 521.3 853.7 521.4 854.5 521.4" stroke="#aeb2ee"/>
<path d="M854.5 521.4 857.5 521.5 860.5 521.6 863.4 521.7 864.2 521.7" stroke="#aeb3ed"/>
<path d="M864.2 521.7 867.1 521.8 870.1 521.9 873.1 522.1 874.5 522.1" stroke="#adb5ed"/>
<path d="M874.5 522.1 877.5 522.2 880.4 522.4 883.3 522.5 884.8 522.5" stroke="#adb7ec"/>
<path d="M884.8 522.5 887.7 522.7 890.6 522.8 893.5 522.9 894.2 523.0" stroke="#acb8ec"/>
<path d="M894.2 523.0 897.1 523.1 899.9 523.2 902.8 523.4 904.3 523.4" stroke="#acb9eb"/>
<path d="M904.3 523.4 907.1 523.6 910.0 523.7 912.8 523.8 914.3 523.9" stroke="#acbbeb"/>
<path d="M914.3 523.9 917.8 524.1 921.4 524.2 924.9 524.3" stroke="#abbcea"/>
<path d="M924.9 524.3 927.8 524.5 930.6 524.6 933.4 524.7 934.8 524.7" stroke="#abbeea"/>
<path d="M934.8 524.7 937.7 524.8 940.5 524.9 943.3 525.0 944.7 525.0" stroke="#aabfe9"/>
<path d="M944.7 525.0 947.6 525.1 950.4 525.1 953.2 525.2 954.6 525.2" stroke="#aac1e9"/>
<path d="M954.6 525.2 957.4 525.2 960.3 525.2 963.1 525.2 964.5 525.2" stroke="#aac2e8"/>
<path d="M964.5 525.2 967.3 525.2 970.1 525.2 973.0 525.2 974.4 525.2" stroke="#a9c4e7"/>
<path d="M974.4 525.2 977.9 525.1 981.5 525.0 985.0 524.9" stroke="#a9c6e7"/>
<path d="M985.0 524.9 987.8 524.8 990.7 524.7 993.5 524.6 995.0 524.5" stroke="#a8c7e6"/>
<path d="M995.0 524.5 997.8 524.3 1000.7 524.1 1003.5 523.9 1005.0 523.8" stroke="#a8c9e5"/>
<path d="M1005.0 523.8 1007.9 523.6 1010.7 523.4 1013.6 523.1 1015.1 523.0" stroke="#a8cce4"/>
<path d="M1015.1 523.0 1018.0 522.7 1020.9 522.4 1023.8 522.0 1024.5 522.0" stroke="#a7cfe3"/>
<path d="M1024.5 522.0 1027.4 521.6 1030.3 521.2 1033.3 520.8 1034.7 520.6" stroke="#a7d2e2"/>
<path d="M1034.7 520.6 1037.7 520.2 1040.6 519.7 1043.6 519.2 1044.4 519.1" stroke="#a7d5e0"/>
<path d="M1044.4 519.1 1047.3 518.6 1050.3 518.0 1053.3 517.5 1054.8 517.2" stroke="#a6d8df"/>
<path d="M1054.8 517.2 1057.8 516.6 1060.9 515.9 1063.9 515.3 1064.6 515.1" stroke="#a6dade"/>
<path d="M1064.6 515.1 1067.7 514.4 1070.8 513.7 1073.8 512.9" stroke="#a6dcdd"/>
<path d="M1073.8 512.9 1076.9 512.1 1080.0 511.3 1083.1 510.5 1083.9 510.2" stroke="#a6dedd"/>
<path d="M1083.9 510.2 1087.0 509.4 1090.2 508.4 1093.3 507.5" stroke="#a6e0dc"/>
<path d="M1093.3 507.5 1096.5 506.5 1099.7 505.5 1102.9 504.4" stroke="#a6e1dc"/>
<path d="M1102.9 504.4 1106.1 503.4 1109.4 502.2 1112.6 501.1" stroke="#a6e3db"/>
<path d="M1112.6 501.1 1115.0 500.2 1117.5 499.3 1120.0 498.4 1121.6 497.7" stroke="#a6e5db"/>
<path d="M1121.6 497.7 1124.1 496.8 1126.6 495.8 1129.1 494.8 1130.8 494.1" stroke="#a6e7da"/>
<path d="M1130.8 494.1 1133.3 493.1 1135.8 492.0 1138.4 490.9 1140.1 490.2" stroke="#a6e8da"/>
<path d="M1140.1 490.2 1142.6 489.0 1145.2 487.9 1147.8 486.7 1149.5 485.9" stroke="#a7e9da"/>
<path d="M1149.5 485.9 1152.3 484.5 1155.3 483.0 1158.2 481.4" stroke="#a8e9da"/>
<path d="M1158.2 481.4 1161.1 479.8 1164.0 478.1 1166.9 476.4" stroke="#aaeadb"/>
<path d="M1166.9 476.4 1169.7 474.7 1172.5 472.9 1175.4 471.1" stroke="#abebdb"/>
<path d="M1175.4 471.1 1178.2 469.2 1180.9 467.3 1183.7 465.4" stroke="#acecdb"/>
<path d="M1183.7 465.4 1186.4 463.4 1189.2 461.4 1191.9 459.4" stroke="#adecdb"/>
<path d="M1191.9 459.4 1194.6 457.3 1197.2 455.2 1199.9 453.0" stroke="#aeeddc"/>
<path d="M1199.9 453.0 1202.5 450.8 1205.1 448.6 1207.7 446.3" stroke="#afeedc"/>
<path d="M1207.7 446.3 1209.4 444.8 1211.1 443.2 1212.8 441.7 1214.5 440.1" stroke="#b1eedc"/>
<path d="M1214.5 440.1 1217.0 437.7 1219.5 435.2 1222.0 432.7" stroke="#b3efdd"/>
<path d="M1222.0 432.7 1224.4 430.2 1226.8 427.6 1229.3 425.0" stroke="#b5efde"/>
<path d="M1229.3 425.0 1230.9 423.3 1232.4 421.5 1234.0 419.7 1235.6 417.9" stroke="#b7f0df"/>
<path d="M1235.6 417.9 1237.1 416.1 1238.7 414.3 1240.2 412.4 1241.7 410.6" stroke="#b9f0e0"/>
<path d="M1241.7 410.6 1244.0 407.8 1246.3 404.9 1248.5 402.0" stroke="#bbf1e0"/>
<path d="M1248.5 402.0 1250.0 400.0 1251.4 398.1 1252.9 396.1 1254.3 394.1" stroke="#bdf1e1"/>
<path d="M1254.3 394.1 1255.8 392.1 1257.2 390.0 1258.6 388.0 1260.0 385.9" stroke="#bff2e2"/>
<path d="M1260.0 385.9 1261.4 383.8 1262.8 381.7 1264.2 379.6 1265.5 377.5" stroke="#c1f2e3"/>
<path d="M1265.5 377.5 1266.9 375.3 1268.2 373.2 1269.6 371.0 1270.9 368.8" stroke="#c3f3e4"/>
<path d="M1270.9 368.8 1272.2 366.6 1273.5 364.4 1274.8 362.1 1276.1 359.9" stroke="#c5f3e4"/>
<path d="M1276.1 359.9 1277.4 357.6 1278.6 355.3 1279.9 353.0 1280.5 351.9" stroke="#c6f3e5"/>
<path d="M1280.5 351.9 1281.7 349.5 1282.9 347.2 1284.2 344.9 1285.4 342.5" stroke="#c7f4e5"/>
<path d="M1285.4 342.5 1286.5 340.1 1287.7 337.7 1288.9 335.3 1289.5 334.1" stroke="#c7f4e5"/>
<path d="M1289.5 334.1 1290.6 331.6 1291.8 329.2 1292.9 326.7 1294.0 324.2" stroke="#c8f4e6"/>
<path d="M1294.0 324.2 1295.1 321.7 1296.2 319.2 1297.3 316.7 1297.9 315.4" stroke="#c9f4e6"/>
<path d="M1297.9 315.4 1298.9 312.8 1300.0 310.3 1301.0 307.7 1301.5 306.4" stroke="#caf4e7"/>
<path d="M1301.5 306.4 1302.6 303.8 1303.6 301.1 1304.6 298.5 1305.1 297.2" stroke="#cbf5e7"/>
<path d="M1305.1 297.2 1306.1 294.5 1307.1 291.9 1308.0 289.2 1308.5 287.8" stroke="#ccf5e7"/>
<path d="M1308.5 287.8 1309.5 285.1 1310.4 282.4 1311.3 279.6 1311.8 278.3" stroke="#cdf5e8"/>
<path d="M1311.8 278.3 1312.7 275.5 1313.6 272.7 1314.5 269.9 1314.9 268.5" stroke="#cef5e8"/>
<path d="M1314.9 268.5 1315.8 265.7 1316.6 262.9 1317.5 260.0 1317.9 258.6" stroke="#cff5e9"/>
<path d="M1317.9 258.6 1318.7 255.7 1319.5 252.8 1320.3 250.0 1320.7 248.5" stroke="#d0f5e9"/>
<path d="M1320.7 248.5 1321.5 245.6 1322.3 242.6 1323.1 239.7" stroke="#d0f6e9"/>
<path d="M1323.1 239.7 1323.8 236.7 1324.5 233.8 1325.3 230.8 1325.6 229.3" stroke="#d1f6ea"/>
<path d="M1325.6 229.3 1326.3 226.3 1327.0 223.2 1327.7 220.2" stroke="#d2f6ea"/>
<path d="M1327.7 220.2 1328.4 217.1 1329.0 214.1 1329.7 211.0 1330.0 209.4" stroke="#d2f6ea"/>
<path d="M1330.0 209.4 1330.6 206.3 1331.2 203.2 1331.8 200.1" stroke="#d2f6ea"/>
<path d="M329.4 801.8 330.9 798.3 332.5 794.9 334.0 791.6" stroke="#eceefe"/>
<path d="M334.0 791.6 334.8 789.9 335.6 788.2 336.4 786.6 337.2 784.9 338.0 783.3" stroke="#eaebfd"/>
<path d="M338.0 783.3 339.6 780.0 341.2 776.8 342.9 773.6" stroke="#e8e9fd"/>
<path d="M342.9 773.6 343.7 772.0 344.5 770.4 345.4 768.8 346.2 767.3 347.1 765.7" stroke="#e6e6fd"/>
<path d="M347.1 765.7 348.8 762.6 350.5 759.6 352.2 756.6" stroke="#e4e3fd"/>
<path d="M352.2 756.6 354.0 753.6 355.7 750.6 357.5 747.7" stroke="#e1e0fd"/>
<path d="M357.5 747.7 359.3 744.7 361.1 741.9 363.0 739.0" stroke="#dfddfc"/>
<path d="M363.0 739.0 364.8 736.2 366.7 733.4 368.5 730.7" stroke="#dcdafc"/>
<path d="M368.5 730.7 370.4 727.9 372.3 725.2 374.2 722.5" stroke="#dad6fc"/>
<path d="M374.2 722.5 376.1 719.9 378.1 717.3 380.0 714.7" stroke="#d8d2fc"/>
<path d="M380.0 714.7 382.0 712.1 383.9 709.6 385.9 707.1" stroke="#d5cffb"/>
<path d="M385.9 707.1 387.9 704.6 389.9 702.1 391.9 699.7 392.9 698.5" stroke="#d3cbfb"/>
<path d="M392.9 698.5 395.0 696.1 397.0 693.8 399.1 691.4" stroke="#d0c6fb"/>
<path d="M399.1 691.4 401.1 689.1 403.2 686.9 405.3 684.6" stroke="#cec2fb"/>
<path d="M405.3 684.6 407.4 682.4 409.5 680.2 411.6 678.0 412.6 676.9" stroke="#cbbefa"/>
<path d="M412.6 676.9 414.8 674.8 416.9 672.7 419.0 670.6 420.1 669.5" stroke="#c8b9fa"/>
<path d="M420.1 669.5 422.2 667.5 424.4 665.5 426.6 663.5 427.6 662.5" stroke="#c6b3fa"/>
<path d="M427.6 662.5 429.8 660.5 432.0 658.6 434.2 656.6" stroke="#c3aef9"/>
<path d="M434.2 656.6 436.4 654.7 438.6 652.9 440.8 651.0 441.9 650.1" stroke="#c1a9f9"/>
<path d="M441.9 650.1 444.1 648.3 446.3 646.5 448.5 644.7 449.6 643.9" stroke="#bea4f9"/>
<path d="M449.6 643.9 451.8 642.1 454.1 640.4 456.3 638.7 458.5 637.1" stroke="#bb9df8"/>
<path d="M458.5 637.1 460.8 635.4 463.0 633.8 465.2 632.2 466.4 631.4" stroke="#b897f8"/>
<path d="M466.4 631.4 468.6 629.8 470.9 628.3 473.1 626.8 474.3 626.0" stroke="#b692f7"/>
<path d="M474.3 626.0 476.5 624.5 478.8 623.0 481.0 621.6 483.3 620.1" stroke="#b58ef7"/>
<path d="M483.3 620.1 485.5 618.7 487.8 617.3 490.1 616.0 491.2 615.3" stroke="#b58cf7"/>
<path d="M491.2 615.3 493.5 613.9 495.7 612.6 498.0 611.3 500.2 610.0" stroke="#b58af7"/>
<path d="M500.2 610.0 502.5 608.8 504.7 607.5 507.0 606.3 509.2 605.1" stroke="#b58af7"/>
<path d="M509.2 605.1 511.5 603.9 513.7 602.7 516.0 601.5 517.1 601.0" stroke="#b58bf7"/>
<path d="M517.1 601.0 520.5 599.3 523.8 597.6 527.2 596.0" stroke="#b58cf7"/>
<path d="M527.2 596.0 529.4 595.0 531.6 593.9 533.8 592.9 536.1 591.9" stroke="#b58df6"/>
<path d="M536.1 591.9 538.3 590.9 540.5 590.0 542.7 589.0 544.9 588.1" stroke="#b48ef6"/>
<path d="M544.9 588.1 548.1 586.7 551.4 585.4 554.6 584.1" stroke="#b48ff6"/>
<path d="M554.6 584.1 556.8 583.2 559.0 582.4 561.1 581.6 563.2 580.7" stroke="#b490f5"/>
<path d="M563.2 580.7 566.4 579.6 569.6 578.4 572.7 577.3" stroke="#b491f5"/>
<path d="M572.7 577.3 575.9 576.2 579.0 575.1 582.1 574.1" stroke="#b492f5"/>
<path d="M582.1 574.1 585.1 573.1 588.2 572.1 591.2 571.2 592.2 570.9" stroke="#b493f5"/>
<path d="M592.2 570.9 595.2 570.0 598.1 569.1 601.1 568.3" stroke="#b494f4"/>
<path d="M601.1 568.3 604.0 567.4 606.9 566.6 609.7 565.9 611.6 565.4" stroke="#b495f4"/>
<path d="M611.6 565.4 614.4 564.6 617.2 563.9 619.9 563.2 620.8 563.0" stroke="#b396f4"/>
<path d="M620.8 563.0 623.5 562.3 626.1 561.7 628.8 561.1 630.5 560.7" stroke="#b397f4"/>
<path d="M630.5 560.7 633.9 559.9 637.2 559.2 640.5 558.5" stroke="#b398f3"/>
<path d="M640.5 558.5 643.7 557.8 646.9 557.2 649.9 556.5" stroke="#b399f3"/>
<path d="M649.9 556.5 652.9 556.0 655.8 555.4 658.6 554.9 660.0 554.6" stroke="#b39af3"/>
<path d="M660.0 554.6 663.4 554.0 666.6 553.4 669.7 552.9" stroke="#b39cf3"/>
<path d="M669.7 552.9 673.3 552.2 676.6 551.7 679.7 551.1" stroke="#b29df2"/>
<path d="M679.7 551.1 682.6 550.6 686.1 550.0 689.7 549.5" stroke="#b29ff2"/>
<path d="M689.7 549.5 692.6 549.0 695.5 548.6 698.4 548.2 699.5 548.0" stroke="#b1a1f1"/>
<path d="M699.5 548.0 702.8 547.5 706.1 547.1 709.3 546.6" stroke="#b1a2f1"/>
<path d="M709.3 546.6 712.5 546.2 715.6 545.8 718.7 545.4 719.2 545.3" stroke="#b1a4f1"/>
<path d="M719.2 545.3 722.2 544.9 725.2 544.5 728.1 544.2 729.0 544.0" stroke="#b0a5f0"/>
<path d="M729.0 544.0 732.3 543.6 735.6 543.3 738.8 542.9 739.3 542.9" stroke="#b0a7f0"/>
<path d="M739.3 542.9 742.4 542.5 745.6 542.2 748.6 541.9 749.1 541.9" stroke="#b0a8f0"/>
<path d="M749.1 541.9 752.5 541.5 755.9 541.2 759.2 540.9" stroke="#b0a8f0"/>
<path d="M759.2 540.9 762.6 540.7 765.8 540.4 769.1 540.2" stroke="#afa9ef"/>
<path d="M769.1 540.2 772.3 540.0 775.5 539.8 778.7 539.6 779.1 539.6" stroke="#afaaef"/>
<path d="M779.1 539.6 782.2 539.5 785.4 539.3 788.5 539.2 789.3 539.2" stroke="#afabef"/>
<path d="M789.3 539.2 792.4 539.1 795.6 539.0 798.7 538.9 799.1 538.9" stroke="#afacef"/>
<path d="M799.1 538.9 802.3 538.8 805.5 538.8 808.7 538.7 809.1 538.7" stroke="#afadef"/>
<path d="M809.1 538.7 812.3 538.7 815.6 538.7 818.9 538.7 819.3 538.7" stroke="#afaeef"/>
<path d="M819.3 538.7 822.6 538.7 826.0 538.7 829.4 538.7" stroke="#afaeef"/>
<path d="M829.4 538.7 832.5 538.7 835.6 538.7 838.7 538.7 839.2 538.7" stroke="#aeafee"/>
<path d="M839.2 538.7 842.4 538.8 845.6 538.8 848.9 538.9 849.4 538.9" stroke="#aeb0ee"/>
<path d="M849.4 538.9 852.3 538.9 855.2 538.9 858.2 539.0 859.2 539.0" stroke="#aeb1ee"/>
<path d="M859.2 539.0 861.7 539.0 864.7 539.1 868.4 539.1 869.8 539.1" stroke="#aeb2ee"/>
<path d="M869.8 539.1 872.8 539.1 875.7 539.2 878.6 539.2 879.4 539.3" stroke="#aeb3ee"/>
<path d="M879.4 539.3 882.3 539.3 885.2 539.4 888.1 539.4 889.5 539.5" stroke="#adb5ed"/>
<path d="M889.5 539.5 892.4 539.5 895.3 539.6 898.2 539.6 899.6 539.7" stroke="#adb6ec"/>
<path d="M899.6 539.7 902.5 539.7 905.4 539.8 908.3 539.9 909.7 539.9" stroke="#acb8ec"/>
<path d="M909.7 539.9 912.5 540.0 915.4 540.0 918.3 540.1 919.7 540.1" stroke="#acb9eb"/>
<path d="M919.7 540.1 922.5 540.2 925.4 540.2 928.2 540.3 929.6 540.3" stroke="#acbbeb"/>
<path d="M929.6 540.3 932.5 540.4 935.3 540.4 938.1 540.4 939.6 540.4" stroke="#abbcea"/>
<path d="M939.6 540.4 942.4 540.5 945.2 540.5 948.0 540.5 949.5 540.5" stroke="#abbeea"/>
<path d="M949.5 540.5 953.0 540.5 956.5 540.5 960.1 540.4" stroke="#aabfe9"/>
<path d="M960.1 540.4 962.9 540.4 965.7 540.4 968.5 540.3 970.0 540.3" stroke="#aac1e9"/>
<path d="M970.0 540.3 972.8 540.2 975.6 540.1 978.4 540.0 979.9 540.0" stroke="#a9c3e8"/>
<path d="M979.9 540.0 982.7 539.9 985.5 539.7 988.4 539.6 989.8 539.5" stroke="#a9c4e7"/>
<path d="M989.8 539.5 992.6 539.3 995.5 539.2 998.3 539.0 999.7 538.9" stroke="#a9c6e7"/>
<path d="M999.7 538.9 1002.6 538.7 1005.5 538.4 1008.3 538.2 1009.7 538.0" stroke="#a8c7e6"/>
<path d="M1009.7 538.0 1012.6 537.8 1015.5 537.5 1018.4 537.1 1019.8 537.0" stroke="#a8cae5"/>
<path d="M1019.8 537.0 1022.7 536.6 1025.6 536.3 1028.5 535.9 1029.9 535.7" stroke="#a7cde4"/>
<path d="M1029.9 535.7 1032.8 535.3 1035.7 534.8 1038.6 534.4 1039.4 534.3" stroke="#a7d0e3"/>
<path d="M1039.4 534.3 1042.3 533.8 1045.2 533.3 1048.1 532.7 1049.6 532.4" stroke="#a7d3e1"/>
<path d="M1049.6 532.4 1052.6 531.9 1055.5 531.3 1058.5 530.7 1059.2 530.5" stroke="#a7d5e0"/>
<path d="M1059.2 530.5 1062.2 529.8 1065.2 529.2 1068.2 528.5 1068.9 528.3" stroke="#a6d9df"/>
<path d="M1068.9 528.3 1071.9 527.5 1074.9 526.8 1077.9 526.0 1078.7 525.8" stroke="#a6dbde"/>
<path d="M1078.7 525.8 1081.7 524.9 1084.8 524.1 1087.8 523.2 1088.6 523.0" stroke="#a6dddd"/>
<path d="M1088.6 523.0 1091.6 522.0 1094.7 521.1 1097.8 520.1" stroke="#a6dedd"/>
<path d="M1097.8 520.1 1100.9 519.1 1104.0 518.0 1107.1 516.9 1107.9 516.6" stroke="#a6e0dc"/>
<path d="M1107.9 516.6 1111.0 515.5 1114.2 514.3 1117.3 513.1" stroke="#a6e2dc"/>
<path d="M1117.3 513.1 1119.7 512.2 1122.1 511.3 1124.5 510.3 1126.1 509.7" stroke="#a6e4db"/>
<path d="M1126.1 509.7 1129.3 508.3 1132.5 507.0 1135.8 505.6" stroke="#a6e6db"/>
<path d="M1135.8 505.6 1138.2 504.5 1140.6 503.4 1143.1 502.3 1144.7 501.5" stroke="#a6e7da"/>
<path d="M1144.7 501.5 1147.2 500.4 1149.6 499.2 1152.1 498.0 1153.8 497.2" stroke="#a7e8da"/>
<path d="M1153.8 497.2 1156.3 495.9 1158.9 494.5 1161.9 492.9 1162.9 492.3" stroke="#a8e9da"/>
<path d="M1162.9 492.3 1165.8 490.6 1168.7 488.9 1171.5 487.1" stroke="#a9eadb"/>
<path d="M1171.5 487.1 1174.4 485.3 1177.2 483.4 1180.1 481.5" stroke="#aaebdb"/>
<path d="M1180.1 481.5 1181.9 480.2 1183.8 479.0 1185.7 477.6 1187.5 476.3" stroke="#abebdb"/>
<path d="M1187.5 476.3 1190.3 474.3 1193.0 472.2 1195.7 470.1" stroke="#acecdb"/>
<path d="M1195.7 470.1 1198.4 468.0 1201.1 465.8 1203.7 463.6" stroke="#aeeddc"/>
<path d="M1203.7 463.6 1206.4 461.3 1209.0 459.0 1211.6 456.7" stroke="#afeddc"/>
<path d="M1211.6 456.7 1213.3 455.1 1215.0 453.5 1216.7 451.9 1218.4 450.3" stroke="#b0eedc"/>
<path d="M1218.4 450.3 1220.9 447.9 1223.4 445.4 1225.9 442.8" stroke="#b2efdd"/>
<path d="M1225.9 442.8 1227.6 441.1 1229.2 439.4 1230.8 437.7 1232.4 435.9" stroke="#b4efde"/>
<path d="M1232.4 435.9 1234.0 434.1 1235.6 432.3 1237.2 430.5 1238.8 428.7" stroke="#b6f0de"/>
<path d="M1238.8 428.7 1241.1 426.0 1243.5 423.2 1245.8 420.3" stroke="#b8f0df"/>
<path d="M1245.8 420.3 1247.3 418.4 1248.8 416.5 1250.3 414.6 1251.8 412.6" stroke="#baf1e0"/>
<path d="M1251.8 412.6 1253.3 410.6 1254.7 408.7 1256.2 406.7 1257.7 404.6" stroke="#bcf1e1"/>
<path d="M1257.7 404.6 1259.1 402.6 1260.5 400.6 1261.9 398.5 1263.4 396.4" stroke="#bef2e2"/>
<path d="M1263.4 396.4 1264.8 394.3 1266.2 392.2 1267.5 390.1 1268.9 387.9" stroke="#c0f2e3"/>
<path d="M1268.9 387.9 1270.3 385.8 1271.6 383.6 1273.0 381.4 1274.3 379.2" stroke="#c2f3e3"/>
<path d="M1274.3 379.2 1275.6 377.0 1276.9 374.8 1278.2 372.5 1279.5 370.3" stroke="#c4f3e4"/>
<path d="M1279.5 370.3 1280.8 368.0 1282.0 365.7 1283.3 363.4 1283.9 362.2" stroke="#c5f3e4"/>
<path d="M1283.9 362.2 1285.1 359.9 1286.4 357.5 1287.6 355.2 1288.8 352.8" stroke="#c6f3e5"/>
<path d="M1288.8 352.8 1290.0 350.4 1291.2 348.0 1292.4 345.6 1292.9 344.3" stroke="#c7f4e5"/>
<path d="M1292.9 344.3 1294.1 341.9 1295.2 339.4 1296.4 336.9 1297.5 334.5" stroke="#c8f4e6"/>
<path d="M1297.5 334.5 1298.6 331.9 1299.7 329.4 1300.8 326.9 1301.3 325.6" stroke="#c9f4e6"/>
<path d="M1301.3 325.6 1302.4 323.1 1303.5 320.5 1304.5 317.9 1305.0 316.6" stroke="#caf4e6"/>
<path d="M1305.0 316.6 1306.1 314.0 1307.1 311.4 1308.1 308.7 1308.6 307.4" stroke="#cbf4e7"/>
<path d="M1308.6 307.4 1309.6 304.7 1310.6 302.0 1311.5 299.4 1312.0 298.0" stroke="#cbf5e7"/>
<path d="M1312.0 298.0 1313.0 295.3 1313.9 292.6 1314.8 289.8 1315.3 288.4" stroke="#ccf5e8"/>
<path d="M1315.3 288.4 1316.2 285.7 1317.1 282.9 1318.0 280.1 1318.4 278.7" stroke="#cdf5e8"/>
<path d="M1318.4 278.7 1319.3 275.9 1320.1 273.0 1321.0 270.2 1321.4 268.8" stroke="#cef5e8"/>
<path d="M1321.4 268.8 1322.2 265.9 1323.1 263.0 1323.9 260.1 1324.2 258.7" stroke="#cff5e9"/>
<path d="M1324.2 258.7 1325.0 255.7 1325.8 252.8 1326.6 249.9" stroke="#d0f6e9"/>
<path d="M1326.6 249.9 1327.3 246.9 1328.0 243.9 1328.8 240.9 1329.1 239.4" stroke="#d1f6e9"/>
<path d="M1329.1 239.4 1329.8 236.4 1330.5 233.4 1331.2 230.4" stroke="#d2f6ea"/>
<path d="M1331.2 230.4 1331.9 227.3 1332.5 224.2 1333.1 221.2 1333.5 219.6" stroke="#d2f6ea"/>
<path d="M1333.5 219.6 1334.1 216.5 1334.7 213.4 1335.3 210.3" stroke="#d2f6ea"/>
<path d="M1335.3 210.3 1335.9 207.1 1336.4 203.9 1337.0 200.8" stroke="#d2f6ea"/>
<path d="M364.0 802.0 364.8 800.4 365.6 798.8 366.4 797.1 367.2 795.5 368.0 793.9" stroke="#e6e6fd"/>
<path d="M368.0 793.9 369.7 790.7 371.3 787.5 373.0 784.4" stroke="#e4e3fd"/>
<path d="M373.0 784.4 374.7 781.2 376.4 778.2 378.1 775.1" stroke="#e1e0fd"/>
<path d="M378.1 775.1 379.0 773.6 379.9 772.1 380.8 770.6 381.6 769.1 382.5 767.6" stroke="#dfddfc"/>
<path d="M382.5 767.6 384.3 764.7 386.1 761.8 387.9 758.9" stroke="#dddafc"/>
<path d="M387.9 758.9 389.7 756.0 391.6 753.2 393.4 750.4" stroke="#dad7fc"/>
<path d="M393.4 750.4 395.3 747.6 397.2 744.9 399.1 742.2" stroke="#d8d3fc"/>
<path d="M399.1 742.2 401.0 739.5 402.9 736.9 404.8 734.2" stroke="#d6cffb"/>
<path d="M404.8 734.2 406.8 731.6 408.8 729.1 410.7 726.5 411.7 725.3" stroke="#d3cbfb"/>
<path d="M411.7 725.3 413.7 722.8 415.7 720.3 417.7 717.9" stroke="#d0c6fb"/>
<path d="M417.7 717.9 419.8 715.5 421.8 713.1 423.8 710.7" stroke="#cec2fb"/>
<path d="M423.8 710.7 425.9 708.4 428.0 706.1 430.0 703.8 431.1 702.7" stroke="#ccbefa"/>
<path d="M431.1 702.7 433.2 700.5 435.3 698.3 437.4 696.1" stroke="#c9b9fa"/>
<path d="M437.4 696.1 439.5 693.9 441.6 691.8 443.7 689.7 444.8 688.6" stroke="#c6b4fa"/>
<path d="M444.8 688.6 446.9 686.6 449.1 684.5 451.3 682.5 452.3 681.5" stroke="#c4aff9"/>
<path d="M452.3 681.5 454.5 679.5 456.7 677.6 458.9 675.6 460.0 674.7" stroke="#c1a9f9"/>
<path d="M460.0 674.7 462.1 672.8 464.3 670.9 466.5 669.0 467.6 668.1" stroke="#bea4f9"/>
<path d="M467.6 668.1 469.9 666.3 472.1 664.5 474.3 662.8 475.4 661.9" stroke="#bb9ef8"/>
<path d="M475.4 661.9 477.6 660.2 479.9 658.4 482.1 656.8 483.2 655.9" stroke="#b998f8"/>
<path d="M483.2 655.9 485.4 654.3 487.7 652.6 489.9 651.0 491.0 650.2" stroke="#b692f7"/>
<path d="M491.0 650.2 493.3 648.7 495.5 647.1 497.8 645.6 498.9 644.8" stroke="#b58ef7"/>
<path d="M498.9 644.8 501.2 643.3 503.4 641.8 505.7 640.4 507.9 638.9" stroke="#b58cf7"/>
<path d="M507.9 638.9 510.2 637.5 512.5 636.1 514.7 634.7 515.8 634.0" stroke="#b58af7"/>
<path d="M515.8 634.0 518.1 632.7 520.4 631.4 522.6 630.1 524.9 628.8" stroke="#b58af7"/>
<path d="M524.9 628.8 527.1 627.5 529.4 626.3 531.6 625.0 533.9 623.8" stroke="#b58af7"/>
<path d="M533.9 623.8 536.1 622.6 538.4 621.4 540.6 620.3 542.8 619.2" stroke="#b58bf7"/>
<path d="M542.8 619.2 545.1 618.0 547.3 616.9 549.5 615.8 551.7 614.8" stroke="#b58cf6"/>
<path d="M551.7 614.8 554.0 613.7 556.2 612.7 558.4 611.7 560.6 610.7" stroke="#b58df6"/>
<path d="M560.6 610.7 562.8 609.7 565.0 608.7 567.2 607.8 569.3 606.9" stroke="#b48ef6"/>
<path d="M569.3 606.9 572.6 605.5 575.9 604.2 579.1 602.9" stroke="#b48ff6"/>
<path d="M579.1 602.9 582.3 601.6 585.5 600.4 588.7 599.2" stroke="#b491f5"/>
<path d="M588.7 599.2 591.8 598.0 595.0 596.9 598.1 595.8" stroke="#b492f5"/>
<path d="M598.1 595.8 601.2 594.7 604.2 593.7 607.3 592.7" stroke="#b493f5"/>
<path d="M607.3 592.7 610.3 591.7 613.3 590.7 616.3 589.8 617.2 589.5" stroke="#b494f5"/>
<path d="M617.2 589.5 620.2 588.6 623.1 587.8 626.0 587.0" stroke="#b495f4"/>
<path d="M626.0 587.0 628.8 586.2 631.6 585.4 634.4 584.6 636.3 584.1" stroke="#b496f4"/>
<path d="M636.3 584.1 639.0 583.4 641.7 582.7 644.4 582.1 646.1 581.6" stroke="#b397f4"/>
<path d="M646.1 581.6 648.7 581.0 651.3 580.4 653.8 579.8 655.5 579.4" stroke="#b398f4"/>
<path d="M655.5 579.4 658.7 578.7 662.0 578.0 665.1 577.3" stroke="#b399f3"/>
<path d="M665.1 577.3 668.1 576.7 671.1 576.1 674.0 575.5 675.4 575.2" stroke="#b39af3"/>
<path d="M675.4 575.2 678.2 574.7 680.9 574.2 683.5 573.7 684.8 573.5" stroke="#b39bf3"/>
<path d="M684.8 573.5 687.9 572.9 690.8 572.4 693.6 571.9 694.7 571.7" stroke="#b29cf2"/>
<path d="M694.7 571.7 697.7 571.1 700.6 570.6 703.6 570.1 704.7 569.9" stroke="#b29ef2"/>
<path d="M704.7 569.9 707.9 569.4 711.1 568.9 714.2 568.4" stroke="#b2a0f2"/>
<path d="M714.2 568.4 717.3 567.9 720.4 567.4 723.4 566.9 724.3 566.8" stroke="#b1a1f1"/>
<path d="M724.3 566.8 727.8 566.3 731.1 565.8 734.4 565.3" stroke="#b1a3f1"/>
<path d="M734.4 565.3 737.6 564.8 740.8 564.4 743.9 563.9 744.4 563.9" stroke="#b0a5f0"/>
<path d="M744.4 563.9 747.5 563.4 750.5 563.0 753.5 562.7 754.3 562.6" stroke="#b0a6f0"/>
<path d="M754.3 562.6 757.7 562.1 761.0 561.7 764.2 561.4" stroke="#b0a7f0"/>
<path d="M764.2 561.4 767.5 561.0 770.7 560.7 773.8 560.3 774.2 560.3" stroke="#b0a8f0"/>
<path d="M774.2 560.3 777.3 560.0 780.4 559.7 783.5 559.4 783.9 559.4" stroke="#b0a9f0"/>
<path d="M783.9 559.4 787.3 559.1 790.7 558.8 794.2 558.6" stroke="#afaaef"/>
<path d="M794.2 558.6 797.2 558.4 800.2 558.2 803.3 558.0 804.0 558.0" stroke="#afabef"/>
<path d="M804.0 558.0 807.1 557.8 810.1 557.6 813.2 557.5 814.0 557.5" stroke="#afacef"/>
<path d="M814.0 557.5 817.1 557.3 820.2 557.2 823.4 557.1 824.2 557.1" stroke="#afadef"/>
<path d="M824.2 557.1 827.4 557.0 830.6 556.9 833.9 556.8 834.3 556.8" stroke="#afadef"/>
<path d="M834.3 556.8 837.2 556.8 840.2 556.7 843.1 556.7 844.0 556.7" stroke="#afaeef"/>
<path d="M844.0 556.7 847.0 556.6 850.1 556.6 853.3 556.6 854.2 556.6" stroke="#aeafee"/>
<path d="M854.2 556.6 857.4 556.5 860.6 556.5 864.0 556.5 864.4 556.5" stroke="#aeb0ee"/>
<path d="M864.4 556.5 867.3 556.5 870.3 556.5 873.3 556.5 874.7 556.5" stroke="#aeb1ee"/>
<path d="M874.7 556.5 877.6 556.4 880.5 556.4 883.4 556.4 884.1 556.4" stroke="#aeb2ee"/>
<path d="M884.1 556.4 887.0 556.4 889.9 556.4 892.8 556.4 894.2 556.4" stroke="#aeb3ee"/>
<path d="M894.2 556.4 897.1 556.4 900.0 556.4 902.8 556.4 904.3 556.4" stroke="#adb4ed"/>
<path d="M904.3 556.4 907.1 556.4 910.0 556.4 912.8 556.4 914.3 556.4" stroke="#adb6ed"/>
<path d="M914.3 556.4 917.1 556.4 920.0 556.4 922.8 556.4 924.2 556.4" stroke="#adb7ec"/>
<path d="M924.2 556.4 927.8 556.4 931.4 556.4 934.9 556.3" stroke="#acb9eb"/>
<path d="M934.9 556.3 937.7 556.3 940.6 556.3 943.4 556.2 944.8 556.2" stroke="#acbbeb"/>
<path d="M944.8 556.2 947.7 556.2 950.5 556.1 953.3 556.1 954.7 556.1" stroke="#abbcea"/>
<path d="M954.7 556.1 957.6 556.0 960.4 555.9 963.2 555.8 964.7 555.8" stroke="#abbeea"/>
<path d="M964.7 555.8 967.5 555.7 970.3 555.6 973.2 555.5 974.6 555.4" stroke="#aabfe9"/>
<path d="M974.6 555.4 977.4 555.3 980.2 555.1 983.1 555.0 984.5 554.9" stroke="#aac1e9"/>
<path d="M984.5 554.9 987.3 554.7 990.2 554.5 993.0 554.3 994.4 554.2" stroke="#a9c3e8"/>
<path d="M994.4 554.2 997.3 554.0 1000.1 553.7 1003.0 553.5 1004.4 553.4" stroke="#a9c4e7"/>
<path d="M1004.4 553.4 1007.2 553.1 1010.1 552.8 1013.0 552.5 1014.4 552.3" stroke="#a9c6e7"/>
<path d="M1014.4 552.3 1017.3 552.0 1020.1 551.6 1023.0 551.3 1024.4 551.1" stroke="#a8c8e6"/>
<path d="M1024.4 551.1 1027.3 550.7 1030.2 550.2 1033.1 549.8 1034.5 549.6" stroke="#a8cae5"/>
<path d="M1034.5 549.6 1037.4 549.1 1040.3 548.6 1043.2 548.1 1044.6 547.9" stroke="#a7cde4"/>
<path d="M1044.6 547.9 1047.5 547.3 1050.4 546.7 1053.4 546.2 1054.1 546.0" stroke="#a7d0e2"/>
<path d="M1054.1 546.0 1057.0 545.4 1059.9 544.7 1062.9 544.1 1064.3 543.7" stroke="#a7d3e1"/>
<path d="M1064.3 543.7 1067.3 543.0 1070.2 542.3 1073.2 541.5 1073.9 541.4" stroke="#a6d6e0"/>
<path d="M1073.9 541.4 1076.9 540.6 1079.8 539.7 1082.8 538.9 1083.6 538.7" stroke="#a6dade"/>
<path d="M1083.6 538.7 1086.5 537.8 1089.5 536.9 1092.5 536.0 1093.3 535.7" stroke="#a6dbde"/>
<path d="M1093.3 535.7 1096.3 534.8 1099.3 533.8 1102.3 532.7" stroke="#a6dddd"/>
<path d="M1102.3 532.7 1105.3 531.7 1108.4 530.6 1111.4 529.4 1112.2 529.2" stroke="#a6dfdd"/>
<path d="M1112.2 529.2 1115.2 528.0 1118.3 526.8 1121.4 525.6" stroke="#a6e1dc"/>
<path d="M1121.4 525.6 1124.5 524.3 1127.6 523.0 1130.7 521.7" stroke="#a6e3dc"/>
<path d="M1130.7 521.7 1133.8 520.3 1136.9 518.9 1140.0 517.4" stroke="#a6e5db"/>
<path d="M1140.0 517.4 1142.4 516.3 1144.7 515.2 1147.1 514.1 1148.7 513.3" stroke="#a6e6da"/>
<path d="M1148.7 513.3 1151.1 512.1 1153.4 510.9 1155.8 509.7 1157.4 508.8" stroke="#a6e8da"/>
<path d="M1157.4 508.8 1159.8 507.6 1162.2 506.3 1164.6 505.0 1166.4 504.0" stroke="#a7e9da"/>
<path d="M1166.4 504.0 1169.3 502.2 1172.2 500.4 1175.1 498.5" stroke="#a8e9da"/>
<path d="M1175.1 498.5 1178.0 496.6 1180.9 494.7 1183.7 492.7" stroke="#aaeadb"/>
<path d="M1183.7 492.7 1186.5 490.7 1189.3 488.7 1192.1 486.6" stroke="#abebdb"/>
<path d="M1192.1 486.6 1194.0 485.2 1195.8 483.8 1197.6 482.4 1199.4 480.9" stroke="#acecdb"/>
<path d="M1199.4 480.9 1202.1 478.7 1204.8 476.5 1207.5 474.2" stroke="#adecdb"/>
<path d="M1207.5 474.2 1209.3 472.7 1211.0 471.2 1212.8 469.6 1214.5 468.0" stroke="#aeeddc"/>
<path d="M1214.5 468.0 1217.1 465.6 1219.7 463.2 1222.2 460.7" stroke="#afeedc"/>
<path d="M1222.2 460.7 1223.9 459.0 1225.6 457.3 1227.3 455.6 1228.9 453.9" stroke="#b1eedc"/>
<path d="M1228.9 453.9 1231.4 451.3 1233.9 448.7 1236.3 446.0" stroke="#b3efdd"/>
<path d="M1236.3 446.0 1237.9 444.2 1239.5 442.4 1241.1 440.6 1242.7 438.7" stroke="#b5efde"/>
<path d="M1242.7 438.7 1244.3 436.9 1245.8 435.0 1247.4 433.1 1248.9 431.2" stroke="#b7f0df"/>
<path d="M1248.9 431.2 1250.5 429.3 1252.0 427.3 1253.5 425.4 1255.0 423.4" stroke="#b9f0e0"/>
<path d="M1255.0 423.4 1256.5 421.4 1258.0 419.4 1259.4 417.4 1260.9 415.4" stroke="#bbf1e0"/>
<path d="M1260.9 415.4 1262.4 413.3 1263.8 411.2 1265.2 409.2 1266.6 407.1" stroke="#bdf1e1"/>
<path d="M1266.6 407.1 1268.1 405.0 1269.5 402.8 1270.8 400.7 1272.2 398.6" stroke="#bff2e2"/>
<path d="M1272.2 398.6 1273.6 396.4 1275.0 394.2 1276.3 392.0 1277.6 389.8" stroke="#c1f2e3"/>
<path d="M1277.6 389.8 1279.0 387.6 1280.3 385.3 1281.6 383.1 1282.9 380.8" stroke="#c3f3e4"/>
<path d="M1282.9 380.8 1284.2 378.5 1285.4 376.2 1286.7 373.9 1287.3 372.7" stroke="#c5f3e4"/>
<path d="M1287.3 372.7 1288.6 370.4 1289.8 368.0 1291.0 365.6 1292.3 363.3" stroke="#c6f3e5"/>
<path d="M1292.3 363.3 1293.5 360.9 1294.6 358.4 1295.8 356.0 1296.4 354.8" stroke="#c6f4e5"/>
<path d="M1296.4 354.8 1297.6 352.3 1298.7 349.9 1299.9 347.4 1301.0 344.9" stroke="#c7f4e5"/>
<path d="M1301.0 344.9 1302.1 342.4 1303.2 339.9 1304.3 337.3 1304.9 336.0" stroke="#c8f4e6"/>
<path d="M1304.9 336.0 1305.9 333.5 1307.0 330.9 1308.1 328.3 1308.6 327.0" stroke="#c9f4e6"/>
<path d="M1308.6 327.0 1309.6 324.4 1310.6 321.8 1311.7 319.1 1312.2 317.8" stroke="#caf4e7"/>
<path d="M1312.2 317.8 1313.2 315.1 1314.1 312.4 1315.1 309.8 1315.6 308.4" stroke="#cbf4e7"/>
<path d="M1315.6 308.4 1316.6 305.7 1317.5 303.0 1318.4 300.2 1318.9 298.8" stroke="#ccf5e7"/>
<path d="M1318.9 298.8 1319.8 296.1 1320.7 293.3 1321.6 290.5 1322.0 289.1" stroke="#cdf5e8"/>
<path d="M1322.0 289.1 1322.9 286.3 1323.8 283.4 1324.6 280.6 1325.0 279.2" stroke="#cef5e8"/>
<path d="M1325.0 279.2 1325.9 276.3 1326.7 273.4 1327.5 270.5" stroke="#cff5e9"/>
<path d="M1327.5 270.5 1328.3 267.6 1329.0 264.7 1329.8 261.7 1330.2 260.3" stroke="#cff5e9"/>
<path d="M1330.2 260.3 1330.9 257.3 1331.7 254.3 1332.4 251.4 1332.8 249.9" stroke="#d0f6e9"/>
<path d="M1332.8 249.9 1333.5 246.8 1334.1 243.8 1334.8 240.8" stroke="#d1f6ea"/>
<path d="M1334.8 240.8 1335.5 237.7 1336.1 234.7 1336.8 231.6 1337.1 230.0" stroke="#d2f6ea"/>
<path d="M1337.1 230.0 1337.7 226.9 1338.3 223.8 1338.9 220.7" stroke="#d2f6ea"/>
<path d="M1338.9 220.7 1339.5 217.6 1340.1 214.4 1340.6 211.2" stroke="#d2f6ea"/>
<path d="M1340.6 211.2 1341.2 208.0 1341.7 204.8 1342.2 201.6" stroke="#d2f6ea"/>
</g>
<circle cx="275" cy="257" r="93.2" fill="#fff" stroke="#7b21f6" stroke-width="2"/>
<circle cx="274.6" cy="165.8" r="37.5" fill="#7b21f6"/>
<text x="274.6" y="177.8" class="num">1</text>
<text transform="translate(275 235.8) scale(1 1.14)" class="tx">Increased</text>
<text transform="translate(275 264.6) scale(1 1.14)" class="tx">reliability and</text>
<text transform="translate(275 293.8) scale(1 1.14)" class="tx">uptime</text>
<circle cx="189.2" cy="508.2" r="93.2" fill="#fff" stroke="#5a3ff7" stroke-width="2"/>
<circle cx="190.8" cy="416.5" r="37.5" fill="#5a3ff7"/>
<text x="190.8" y="428.5" class="num">2</text>
<text transform="translate(189.2 501.6) scale(1 1.14)" class="tx">Improved</text>
<text transform="translate(189.2 530.9) scale(1 1.14)" class="tx">scalability</text>
<circle cx="513.5" cy="628.3" r="93.2" fill="#fff" stroke="#5a3ff7" stroke-width="2"/>
<circle cx="516" cy="536.5" r="37.5" fill="#5a3ff7"/>
<text x="516" y="548.5" class="num">3</text>
<text transform="translate(513.5 621.6) scale(1 1.14)" class="tx">Improved user</text>
<text transform="translate(513.5 650) scale(1 1.14)" class="tx">experience</text>
<circle cx="652.4" cy="381" r="93.2" fill="#fff" stroke="#1b66fa" stroke-width="2"/>
<circle cx="655.7" cy="288.9" r="37.5" fill="#1b66fa"/>
<text x="655.7" y="300.9" class="num">4</text>
<text transform="translate(652.4 373.5) scale(1 1.14)" class="tx">Continuous</text>
<text transform="translate(652.4 401.5) scale(1 1.14)" class="tx">improvement</text>
<circle cx="880.9" cy="280.3" r="93.2" fill="#fff" stroke="#1b66fa" stroke-width="2"/>
<circle cx="885.2" cy="188.3" r="37.5" fill="#1b66fa"/>
<text x="885.2" y="200.3" class="num">5</text>
<text transform="translate(880.9 277.1) scale(1 1.14)" class="tx">Increased</text>
<text transform="translate(880.9 306.1) scale(1 1.14)" class="tx">security</text>
<circle cx="973.5" cy="601.3" r="93.2" fill="#fff" stroke="#3cb3bd" stroke-width="2"/>
<circle cx="978.5" cy="508.9" r="37.5" fill="#3cb3bd"/>
<text x="978.5" y="520.9" class="num">6</text>
<text transform="translate(973.5 588.6) scale(1 1.14)" class="tx">Predictable</text>
<text transform="translate(973.5 617.8) scale(1 1.14)" class="tx">performance</text>
<circle cx="1230.1" cy="514" r="93.2" fill="#fff" stroke="#06d194" stroke-width="2"/>
<circle cx="1236.4" cy="422.1" r="37.5" fill="#06d194"/>
<text x="1236.4" y="434.1" class="num">7</text>
<text transform="translate(1230.1 484.1) scale(1 1.12)" class="t7">Collaboration</text>
<text transform="translate(1230.1 509.1) scale(1 1.12)" class="t7">between</text>
<text transform="translate(1230.1 533.5) scale(1 1.12)" class="t7">development</text>
<text transform="translate(1230.1 557.8) scale(1 1.12)" class="t7">and operations</text>
<text transform="translate(1230.1 582.2) scale(1 1.12)" class="t7">teams</text>
<circle cx="1259.4" cy="221.4" r="93.2" fill="#fff" stroke="#06d194" stroke-width="2"/>
<circle cx="1266.4" cy="130" r="37.5" fill="#06d194"/>
<text x="1266.4" y="142.0" class="num">8</text>
<text transform="translate(1259.4 209.9) scale(1 1.14)" class="tx">Cost</text>
<text transform="translate(1259.4 238.9) scale(1 1.14)" class="tx">savings</text>
<text x="54" y="79" class="title" textLength="682" lengthAdjust="spacing">The Benefits of Site Reliability Engineering</text>
</svg>
</body></html>
